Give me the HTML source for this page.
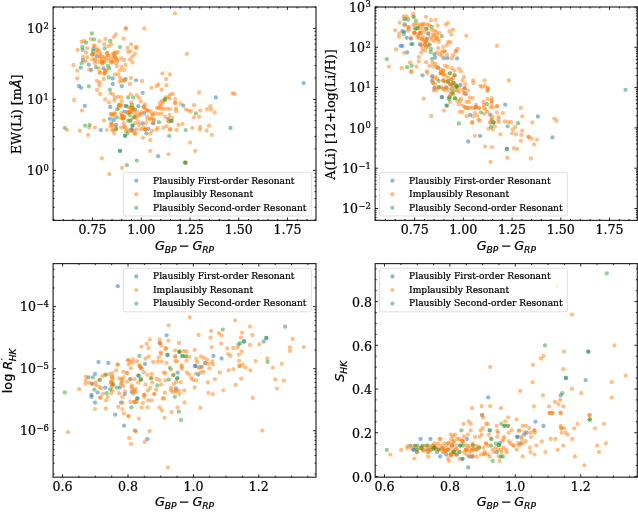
<!DOCTYPE html>
<html><head><meta charset="utf-8"><title>Lithium and activity vs colour</title>
<style>html,body{margin:0;padding:0;background:#fff}svg{display:block}text{fill:#000;stroke:#000;stroke-width:0.22px}</style></head>
<body><svg width="638" height="512" viewBox="0 0 638 512">
<rect width="638" height="512" fill="#fff"/>
<defs><clipPath id="c1"><rect x="53.1" y="7.0" width="262.9" height="213.4"/></clipPath><clipPath id="c2"><rect x="375.1" y="7.0" width="262.19999999999993" height="213.4"/></clipPath><clipPath id="c3"><rect x="53.1" y="263.6" width="262.9" height="213.59999999999997"/></clipPath><clipPath id="c4"><rect x="375.2" y="263.6" width="262.09999999999997" height="213.59999999999997"/></clipPath></defs>
<g clip-path="url(#c1)">
<circle cx="82.6" cy="49.8" r="2.15" fill="#1f77b4" fill-opacity="0.5"/>
<circle cx="83.0" cy="60.0" r="2.15" fill="#1f77b4" fill-opacity="0.5"/>
<circle cx="88.8" cy="64.7" r="2.15" fill="#1f77b4" fill-opacity="0.5"/>
<circle cx="80.7" cy="67.6" r="2.15" fill="#1f77b4" fill-opacity="0.5"/>
<circle cx="96.8" cy="56.3" r="2.15" fill="#1f77b4" fill-opacity="0.5"/>
<circle cx="103.4" cy="68.4" r="2.15" fill="#1f77b4" fill-opacity="0.5"/>
<circle cx="91.1" cy="70.1" r="2.15" fill="#1f77b4" fill-opacity="0.5"/>
<circle cx="93.6" cy="48.8" r="2.15" fill="#1f77b4" fill-opacity="0.5"/>
<circle cx="112.7" cy="78.3" r="2.15" fill="#1f77b4" fill-opacity="0.5"/>
<circle cx="125.6" cy="79.0" r="2.15" fill="#1f77b4" fill-opacity="0.5"/>
<circle cx="112.7" cy="84.0" r="2.15" fill="#1f77b4" fill-opacity="0.5"/>
<circle cx="121.8" cy="86.2" r="2.15" fill="#1f77b4" fill-opacity="0.5"/>
<circle cx="79.0" cy="85.9" r="2.15" fill="#1f77b4" fill-opacity="0.5"/>
<circle cx="81.1" cy="87.8" r="2.15" fill="#1f77b4" fill-opacity="0.5"/>
<circle cx="84.8" cy="105.9" r="2.15" fill="#1f77b4" fill-opacity="0.5"/>
<circle cx="110.2" cy="106.9" r="2.15" fill="#1f77b4" fill-opacity="0.5"/>
<circle cx="124.3" cy="111.6" r="2.15" fill="#1f77b4" fill-opacity="0.5"/>
<circle cx="109.9" cy="118.8" r="2.15" fill="#1f77b4" fill-opacity="0.5"/>
<circle cx="113.7" cy="120.0" r="2.15" fill="#1f77b4" fill-opacity="0.5"/>
<circle cx="115.9" cy="125.0" r="2.15" fill="#1f77b4" fill-opacity="0.5"/>
<circle cx="100.8" cy="130.1" r="2.15" fill="#1f77b4" fill-opacity="0.5"/>
<circle cx="131.2" cy="129.4" r="2.15" fill="#1f77b4" fill-opacity="0.5"/>
<circle cx="125.0" cy="135.8" r="2.15" fill="#1f77b4" fill-opacity="0.5"/>
<circle cx="120.0" cy="150.9" r="2.15" fill="#1f77b4" fill-opacity="0.5"/>
<circle cx="136.0" cy="80.3" r="2.15" fill="#1f77b4" fill-opacity="0.5"/>
<circle cx="142.7" cy="92.8" r="2.15" fill="#1f77b4" fill-opacity="0.5"/>
<circle cx="138.3" cy="106.2" r="2.15" fill="#1f77b4" fill-opacity="0.5"/>
<circle cx="144.2" cy="113.1" r="2.15" fill="#1f77b4" fill-opacity="0.5"/>
<circle cx="183.2" cy="105.6" r="2.15" fill="#1f77b4" fill-opacity="0.5"/>
<circle cx="142.4" cy="123.5" r="2.15" fill="#1f77b4" fill-opacity="0.5"/>
<circle cx="148.3" cy="128.8" r="2.15" fill="#1f77b4" fill-opacity="0.5"/>
<circle cx="168.4" cy="118.8" r="2.15" fill="#1f77b4" fill-opacity="0.5"/>
<circle cx="153.3" cy="123.2" r="2.15" fill="#1f77b4" fill-opacity="0.5"/>
<circle cx="146.4" cy="133.3" r="2.15" fill="#1f77b4" fill-opacity="0.5"/>
<circle cx="158.1" cy="156.2" r="2.15" fill="#1f77b4" fill-opacity="0.5"/>
<circle cx="303.7" cy="83.1" r="2.15" fill="#1f77b4" fill-opacity="0.5"/>
<circle cx="215.9" cy="97.5" r="2.15" fill="#1f77b4" fill-opacity="0.5"/>
<circle cx="230.5" cy="127.9" r="2.15" fill="#1f77b4" fill-opacity="0.5"/>
<circle cx="125.9" cy="106.1" r="2.15" fill="#1f77b4" fill-opacity="0.5"/>
<circle cx="132.5" cy="125.7" r="2.15" fill="#1f77b4" fill-opacity="0.5"/>
<circle cx="131.9" cy="130.1" r="2.15" fill="#1f77b4" fill-opacity="0.5"/>
<circle cx="125.8" cy="28.4" r="2.15" fill="#ff7f0e" fill-opacity="0.5"/>
<circle cx="125.8" cy="28.4" r="2.15" fill="#ff7f0e" fill-opacity="0.5"/>
<circle cx="115.9" cy="34.3" r="2.15" fill="#ff7f0e" fill-opacity="0.5"/>
<circle cx="113.9" cy="37.1" r="2.15" fill="#ff7f0e" fill-opacity="0.5"/>
<circle cx="123.7" cy="38.7" r="2.15" fill="#ff7f0e" fill-opacity="0.5"/>
<circle cx="105.5" cy="39.0" r="2.15" fill="#ff7f0e" fill-opacity="0.5"/>
<circle cx="99.5" cy="41.2" r="2.15" fill="#ff7f0e" fill-opacity="0.5"/>
<circle cx="90.9" cy="39.1" r="2.15" fill="#ff7f0e" fill-opacity="0.5"/>
<circle cx="81.7" cy="41.6" r="2.15" fill="#ff7f0e" fill-opacity="0.5"/>
<circle cx="84.2" cy="40.9" r="2.15" fill="#ff7f0e" fill-opacity="0.5"/>
<circle cx="93.6" cy="45.6" r="2.15" fill="#ff7f0e" fill-opacity="0.5"/>
<circle cx="104.3" cy="44.4" r="2.15" fill="#ff7f0e" fill-opacity="0.5"/>
<circle cx="111.2" cy="44.4" r="2.15" fill="#ff7f0e" fill-opacity="0.5"/>
<circle cx="108.7" cy="46.2" r="2.15" fill="#ff7f0e" fill-opacity="0.5"/>
<circle cx="77.6" cy="49.8" r="2.15" fill="#ff7f0e" fill-opacity="0.5"/>
<circle cx="87.3" cy="48.1" r="2.15" fill="#ff7f0e" fill-opacity="0.5"/>
<circle cx="97.4" cy="49.4" r="2.15" fill="#ff7f0e" fill-opacity="0.5"/>
<circle cx="99.3" cy="51.3" r="2.15" fill="#ff7f0e" fill-opacity="0.5"/>
<circle cx="86.1" cy="52.5" r="2.15" fill="#ff7f0e" fill-opacity="0.5"/>
<circle cx="92.4" cy="54.4" r="2.15" fill="#ff7f0e" fill-opacity="0.5"/>
<circle cx="92.4" cy="54.4" r="2.15" fill="#ff7f0e" fill-opacity="0.5"/>
<circle cx="96.1" cy="53.1" r="2.15" fill="#ff7f0e" fill-opacity="0.5"/>
<circle cx="100.5" cy="53.8" r="2.15" fill="#ff7f0e" fill-opacity="0.5"/>
<circle cx="106.8" cy="53.1" r="2.15" fill="#ff7f0e" fill-opacity="0.5"/>
<circle cx="108.0" cy="55.6" r="2.15" fill="#ff7f0e" fill-opacity="0.5"/>
<circle cx="101.8" cy="56.9" r="2.15" fill="#ff7f0e" fill-opacity="0.5"/>
<circle cx="83.0" cy="56.9" r="2.15" fill="#ff7f0e" fill-opacity="0.5"/>
<circle cx="87.3" cy="57.5" r="2.15" fill="#ff7f0e" fill-opacity="0.5"/>
<circle cx="92.4" cy="59.4" r="2.15" fill="#ff7f0e" fill-opacity="0.5"/>
<circle cx="96.1" cy="60.7" r="2.15" fill="#ff7f0e" fill-opacity="0.5"/>
<circle cx="99.9" cy="61.9" r="2.15" fill="#ff7f0e" fill-opacity="0.5"/>
<circle cx="102.4" cy="63.2" r="2.15" fill="#ff7f0e" fill-opacity="0.5"/>
<circle cx="102.4" cy="63.2" r="2.15" fill="#ff7f0e" fill-opacity="0.5"/>
<circle cx="104.3" cy="60.7" r="2.15" fill="#ff7f0e" fill-opacity="0.5"/>
<circle cx="111.2" cy="58.2" r="2.15" fill="#ff7f0e" fill-opacity="0.5"/>
<circle cx="114.3" cy="56.3" r="2.15" fill="#ff7f0e" fill-opacity="0.5"/>
<circle cx="116.2" cy="53.1" r="2.15" fill="#ff7f0e" fill-opacity="0.5"/>
<circle cx="118.1" cy="51.9" r="2.15" fill="#ff7f0e" fill-opacity="0.5"/>
<circle cx="114.3" cy="52.5" r="2.15" fill="#ff7f0e" fill-opacity="0.5"/>
<circle cx="112.4" cy="54.4" r="2.15" fill="#ff7f0e" fill-opacity="0.5"/>
<circle cx="115.6" cy="58.2" r="2.15" fill="#ff7f0e" fill-opacity="0.5"/>
<circle cx="117.4" cy="60.7" r="2.15" fill="#ff7f0e" fill-opacity="0.5"/>
<circle cx="113.0" cy="61.3" r="2.15" fill="#ff7f0e" fill-opacity="0.5"/>
<circle cx="111.2" cy="62.5" r="2.15" fill="#ff7f0e" fill-opacity="0.5"/>
<circle cx="116.2" cy="63.2" r="2.15" fill="#ff7f0e" fill-opacity="0.5"/>
<circle cx="116.8" cy="66.3" r="2.15" fill="#ff7f0e" fill-opacity="0.5"/>
<circle cx="121.2" cy="58.4" r="2.15" fill="#ff7f0e" fill-opacity="0.5"/>
<circle cx="124.3" cy="60.0" r="2.15" fill="#ff7f0e" fill-opacity="0.5"/>
<circle cx="132.5" cy="56.3" r="2.15" fill="#ff7f0e" fill-opacity="0.5"/>
<circle cx="130.6" cy="51.3" r="2.15" fill="#ff7f0e" fill-opacity="0.5"/>
<circle cx="128.1" cy="51.9" r="2.15" fill="#ff7f0e" fill-opacity="0.5"/>
<circle cx="127.7" cy="47.9" r="2.15" fill="#ff7f0e" fill-opacity="0.5"/>
<circle cx="131.2" cy="44.4" r="2.15" fill="#ff7f0e" fill-opacity="0.5"/>
<circle cx="135.6" cy="47.5" r="2.15" fill="#ff7f0e" fill-opacity="0.5"/>
<circle cx="135.0" cy="53.8" r="2.15" fill="#ff7f0e" fill-opacity="0.5"/>
<circle cx="130.0" cy="59.4" r="2.15" fill="#ff7f0e" fill-opacity="0.5"/>
<circle cx="132.5" cy="62.5" r="2.15" fill="#ff7f0e" fill-opacity="0.5"/>
<circle cx="125.6" cy="65.0" r="2.15" fill="#ff7f0e" fill-opacity="0.5"/>
<circle cx="121.8" cy="66.9" r="2.15" fill="#ff7f0e" fill-opacity="0.5"/>
<circle cx="124.3" cy="70.1" r="2.15" fill="#ff7f0e" fill-opacity="0.5"/>
<circle cx="120.0" cy="70.3" r="2.15" fill="#ff7f0e" fill-opacity="0.5"/>
<circle cx="73.5" cy="65.0" r="2.15" fill="#ff7f0e" fill-opacity="0.5"/>
<circle cx="77.3" cy="70.7" r="2.15" fill="#ff7f0e" fill-opacity="0.5"/>
<circle cx="89.2" cy="69.4" r="2.15" fill="#ff7f0e" fill-opacity="0.5"/>
<circle cx="98.6" cy="68.2" r="2.15" fill="#ff7f0e" fill-opacity="0.5"/>
<circle cx="106.2" cy="70.1" r="2.15" fill="#ff7f0e" fill-opacity="0.5"/>
<circle cx="99.9" cy="58.2" r="2.15" fill="#ff7f0e" fill-opacity="0.5"/>
<circle cx="94.9" cy="63.2" r="2.15" fill="#ff7f0e" fill-opacity="0.5"/>
<circle cx="85.5" cy="61.3" r="2.15" fill="#ff7f0e" fill-opacity="0.5"/>
<circle cx="106.2" cy="58.2" r="2.15" fill="#ff7f0e" fill-opacity="0.5"/>
<circle cx="108.7" cy="60.7" r="2.15" fill="#ff7f0e" fill-opacity="0.5"/>
<circle cx="77.3" cy="78.4" r="2.15" fill="#ff7f0e" fill-opacity="0.5"/>
<circle cx="103.7" cy="79.0" r="2.15" fill="#ff7f0e" fill-opacity="0.5"/>
<circle cx="96.8" cy="80.9" r="2.15" fill="#ff7f0e" fill-opacity="0.5"/>
<circle cx="99.6" cy="82.4" r="2.15" fill="#ff7f0e" fill-opacity="0.5"/>
<circle cx="99.3" cy="85.5" r="2.15" fill="#ff7f0e" fill-opacity="0.5"/>
<circle cx="97.0" cy="89.9" r="2.15" fill="#ff7f0e" fill-opacity="0.5"/>
<circle cx="100.1" cy="94.0" r="2.15" fill="#ff7f0e" fill-opacity="0.5"/>
<circle cx="74.2" cy="100.0" r="2.15" fill="#ff7f0e" fill-opacity="0.5"/>
<circle cx="82.0" cy="110.6" r="2.15" fill="#ff7f0e" fill-opacity="0.5"/>
<circle cx="105.2" cy="99.3" r="2.15" fill="#ff7f0e" fill-opacity="0.5"/>
<circle cx="109.0" cy="102.5" r="2.15" fill="#ff7f0e" fill-opacity="0.5"/>
<circle cx="110.5" cy="93.1" r="2.15" fill="#ff7f0e" fill-opacity="0.5"/>
<circle cx="113.0" cy="94.3" r="2.15" fill="#ff7f0e" fill-opacity="0.5"/>
<circle cx="114.9" cy="97.5" r="2.15" fill="#ff7f0e" fill-opacity="0.5"/>
<circle cx="114.3" cy="100.3" r="2.15" fill="#ff7f0e" fill-opacity="0.5"/>
<circle cx="118.1" cy="96.8" r="2.15" fill="#ff7f0e" fill-opacity="0.5"/>
<circle cx="121.2" cy="97.1" r="2.15" fill="#ff7f0e" fill-opacity="0.5"/>
<circle cx="121.8" cy="101.2" r="2.15" fill="#ff7f0e" fill-opacity="0.5"/>
<circle cx="130.6" cy="94.3" r="2.15" fill="#ff7f0e" fill-opacity="0.5"/>
<circle cx="120.0" cy="78.0" r="2.15" fill="#ff7f0e" fill-opacity="0.5"/>
<circle cx="121.8" cy="80.5" r="2.15" fill="#ff7f0e" fill-opacity="0.5"/>
<circle cx="124.3" cy="80.5" r="2.15" fill="#ff7f0e" fill-opacity="0.5"/>
<circle cx="124.3" cy="80.5" r="2.15" fill="#ff7f0e" fill-opacity="0.5"/>
<circle cx="119.7" cy="81.8" r="2.15" fill="#ff7f0e" fill-opacity="0.5"/>
<circle cx="131.0" cy="78.0" r="2.15" fill="#ff7f0e" fill-opacity="0.5"/>
<circle cx="130.0" cy="84.0" r="2.15" fill="#ff7f0e" fill-opacity="0.5"/>
<circle cx="114.9" cy="74.3" r="2.15" fill="#ff7f0e" fill-opacity="0.5"/>
<circle cx="118.1" cy="74.3" r="2.15" fill="#ff7f0e" fill-opacity="0.5"/>
<circle cx="104.3" cy="73.6" r="2.15" fill="#ff7f0e" fill-opacity="0.5"/>
<circle cx="104.3" cy="73.6" r="2.15" fill="#ff7f0e" fill-opacity="0.5"/>
<circle cx="99.9" cy="73.0" r="2.15" fill="#ff7f0e" fill-opacity="0.5"/>
<circle cx="131.2" cy="102.5" r="2.15" fill="#ff7f0e" fill-opacity="0.5"/>
<circle cx="119.3" cy="105.0" r="2.15" fill="#ff7f0e" fill-opacity="0.5"/>
<circle cx="119.3" cy="105.0" r="2.15" fill="#ff7f0e" fill-opacity="0.5"/>
<circle cx="121.2" cy="105.6" r="2.15" fill="#ff7f0e" fill-opacity="0.5"/>
<circle cx="128.7" cy="106.9" r="2.15" fill="#ff7f0e" fill-opacity="0.5"/>
<circle cx="132.5" cy="108.1" r="2.15" fill="#ff7f0e" fill-opacity="0.5"/>
<circle cx="132.5" cy="108.1" r="2.15" fill="#ff7f0e" fill-opacity="0.5"/>
<circle cx="132.5" cy="108.1" r="2.15" fill="#ff7f0e" fill-opacity="0.5"/>
<circle cx="130.0" cy="111.9" r="2.15" fill="#ff7f0e" fill-opacity="0.5"/>
<circle cx="130.0" cy="111.9" r="2.15" fill="#ff7f0e" fill-opacity="0.5"/>
<circle cx="127.5" cy="112.5" r="2.15" fill="#ff7f0e" fill-opacity="0.5"/>
<circle cx="133.7" cy="113.1" r="2.15" fill="#ff7f0e" fill-opacity="0.5"/>
<circle cx="121.8" cy="115.7" r="2.15" fill="#ff7f0e" fill-opacity="0.5"/>
<circle cx="121.8" cy="115.7" r="2.15" fill="#ff7f0e" fill-opacity="0.5"/>
<circle cx="123.1" cy="118.2" r="2.15" fill="#ff7f0e" fill-opacity="0.5"/>
<circle cx="123.1" cy="118.2" r="2.15" fill="#ff7f0e" fill-opacity="0.5"/>
<circle cx="121.2" cy="113.1" r="2.15" fill="#ff7f0e" fill-opacity="0.5"/>
<circle cx="118.7" cy="108.1" r="2.15" fill="#ff7f0e" fill-opacity="0.5"/>
<circle cx="114.3" cy="113.8" r="2.15" fill="#ff7f0e" fill-opacity="0.5"/>
<circle cx="111.2" cy="114.4" r="2.15" fill="#ff7f0e" fill-opacity="0.5"/>
<circle cx="113.0" cy="115.7" r="2.15" fill="#ff7f0e" fill-opacity="0.5"/>
<circle cx="135.0" cy="116.9" r="2.15" fill="#ff7f0e" fill-opacity="0.5"/>
<circle cx="104.0" cy="120.4" r="2.15" fill="#ff7f0e" fill-opacity="0.5"/>
<circle cx="111.2" cy="123.2" r="2.15" fill="#ff7f0e" fill-opacity="0.5"/>
<circle cx="112.4" cy="125.7" r="2.15" fill="#ff7f0e" fill-opacity="0.5"/>
<circle cx="110.5" cy="126.3" r="2.15" fill="#ff7f0e" fill-opacity="0.5"/>
<circle cx="116.2" cy="126.9" r="2.15" fill="#ff7f0e" fill-opacity="0.5"/>
<circle cx="121.2" cy="127.6" r="2.15" fill="#ff7f0e" fill-opacity="0.5"/>
<circle cx="124.7" cy="126.9" r="2.15" fill="#ff7f0e" fill-opacity="0.5"/>
<circle cx="126.8" cy="129.4" r="2.15" fill="#ff7f0e" fill-opacity="0.5"/>
<circle cx="130.0" cy="130.7" r="2.15" fill="#ff7f0e" fill-opacity="0.5"/>
<circle cx="133.7" cy="130.7" r="2.15" fill="#ff7f0e" fill-opacity="0.5"/>
<circle cx="89.2" cy="127.6" r="2.15" fill="#ff7f0e" fill-opacity="0.5"/>
<circle cx="94.9" cy="127.6" r="2.15" fill="#ff7f0e" fill-opacity="0.5"/>
<circle cx="66.9" cy="130.1" r="2.15" fill="#ff7f0e" fill-opacity="0.5"/>
<circle cx="79.8" cy="130.7" r="2.15" fill="#ff7f0e" fill-opacity="0.5"/>
<circle cx="106.8" cy="130.1" r="2.15" fill="#ff7f0e" fill-opacity="0.5"/>
<circle cx="112.4" cy="130.1" r="2.15" fill="#ff7f0e" fill-opacity="0.5"/>
<circle cx="123.7" cy="123.2" r="2.15" fill="#ff7f0e" fill-opacity="0.5"/>
<circle cx="135.0" cy="123.2" r="2.15" fill="#ff7f0e" fill-opacity="0.5"/>
<circle cx="132.5" cy="118.2" r="2.15" fill="#ff7f0e" fill-opacity="0.5"/>
<circle cx="88.0" cy="134.9" r="2.15" fill="#ff7f0e" fill-opacity="0.5"/>
<circle cx="114.3" cy="133.6" r="2.15" fill="#ff7f0e" fill-opacity="0.5"/>
<circle cx="134.4" cy="133.6" r="2.15" fill="#ff7f0e" fill-opacity="0.5"/>
<circle cx="101.8" cy="158.3" r="2.15" fill="#ff7f0e" fill-opacity="0.5"/>
<circle cx="122.1" cy="167.9" r="2.15" fill="#ff7f0e" fill-opacity="0.5"/>
<circle cx="109.3" cy="174.1" r="2.15" fill="#ff7f0e" fill-opacity="0.5"/>
<circle cx="175.0" cy="13.4" r="2.15" fill="#ff7f0e" fill-opacity="0.5"/>
<circle cx="144.3" cy="28.4" r="2.15" fill="#ff7f0e" fill-opacity="0.5"/>
<circle cx="136.8" cy="47.5" r="2.15" fill="#ff7f0e" fill-opacity="0.5"/>
<circle cx="186.8" cy="53.9" r="2.15" fill="#ff7f0e" fill-opacity="0.5"/>
<circle cx="162.5" cy="73.4" r="2.15" fill="#ff7f0e" fill-opacity="0.5"/>
<circle cx="169.9" cy="74.5" r="2.15" fill="#ff7f0e" fill-opacity="0.5"/>
<circle cx="166.1" cy="79.0" r="2.15" fill="#ff7f0e" fill-opacity="0.5"/>
<circle cx="142.0" cy="80.9" r="2.15" fill="#ff7f0e" fill-opacity="0.5"/>
<circle cx="166.5" cy="85.3" r="2.15" fill="#ff7f0e" fill-opacity="0.5"/>
<circle cx="158.3" cy="84.5" r="2.15" fill="#ff7f0e" fill-opacity="0.5"/>
<circle cx="156.7" cy="86.2" r="2.15" fill="#ff7f0e" fill-opacity="0.5"/>
<circle cx="151.4" cy="87.8" r="2.15" fill="#ff7f0e" fill-opacity="0.5"/>
<circle cx="161.7" cy="89.6" r="2.15" fill="#ff7f0e" fill-opacity="0.5"/>
<circle cx="199.1" cy="92.5" r="2.15" fill="#ff7f0e" fill-opacity="0.5"/>
<circle cx="137.0" cy="95.3" r="2.15" fill="#ff7f0e" fill-opacity="0.5"/>
<circle cx="138.9" cy="98.1" r="2.15" fill="#ff7f0e" fill-opacity="0.5"/>
<circle cx="140.8" cy="101.6" r="2.15" fill="#ff7f0e" fill-opacity="0.5"/>
<circle cx="172.8" cy="94.0" r="2.15" fill="#ff7f0e" fill-opacity="0.5"/>
<circle cx="170.2" cy="94.3" r="2.15" fill="#ff7f0e" fill-opacity="0.5"/>
<circle cx="168.4" cy="97.1" r="2.15" fill="#ff7f0e" fill-opacity="0.5"/>
<circle cx="169.6" cy="98.7" r="2.15" fill="#ff7f0e" fill-opacity="0.5"/>
<circle cx="165.6" cy="97.5" r="2.15" fill="#ff7f0e" fill-opacity="0.5"/>
<circle cx="175.3" cy="99.1" r="2.15" fill="#ff7f0e" fill-opacity="0.5"/>
<circle cx="175.0" cy="102.9" r="2.15" fill="#ff7f0e" fill-opacity="0.5"/>
<circle cx="162.1" cy="100.8" r="2.15" fill="#ff7f0e" fill-opacity="0.5"/>
<circle cx="159.8" cy="102.9" r="2.15" fill="#ff7f0e" fill-opacity="0.5"/>
<circle cx="163.3" cy="101.9" r="2.15" fill="#ff7f0e" fill-opacity="0.5"/>
<circle cx="145.2" cy="104.4" r="2.15" fill="#ff7f0e" fill-opacity="0.5"/>
<circle cx="143.3" cy="106.9" r="2.15" fill="#ff7f0e" fill-opacity="0.5"/>
<circle cx="144.5" cy="108.1" r="2.15" fill="#ff7f0e" fill-opacity="0.5"/>
<circle cx="157.1" cy="107.9" r="2.15" fill="#ff7f0e" fill-opacity="0.5"/>
<circle cx="161.5" cy="105.6" r="2.15" fill="#ff7f0e" fill-opacity="0.5"/>
<circle cx="164.0" cy="108.8" r="2.15" fill="#ff7f0e" fill-opacity="0.5"/>
<circle cx="167.1" cy="108.8" r="2.15" fill="#ff7f0e" fill-opacity="0.5"/>
<circle cx="170.2" cy="109.1" r="2.15" fill="#ff7f0e" fill-opacity="0.5"/>
<circle cx="176.1" cy="108.4" r="2.15" fill="#ff7f0e" fill-opacity="0.5"/>
<circle cx="176.1" cy="110.9" r="2.15" fill="#ff7f0e" fill-opacity="0.5"/>
<circle cx="180.7" cy="103.7" r="2.15" fill="#ff7f0e" fill-opacity="0.5"/>
<circle cx="194.1" cy="105.2" r="2.15" fill="#ff7f0e" fill-opacity="0.5"/>
<circle cx="185.9" cy="109.4" r="2.15" fill="#ff7f0e" fill-opacity="0.5"/>
<circle cx="188.7" cy="110.6" r="2.15" fill="#ff7f0e" fill-opacity="0.5"/>
<circle cx="190.9" cy="111.3" r="2.15" fill="#ff7f0e" fill-opacity="0.5"/>
<circle cx="200.3" cy="110.6" r="2.15" fill="#ff7f0e" fill-opacity="0.5"/>
<circle cx="206.9" cy="109.1" r="2.15" fill="#ff7f0e" fill-opacity="0.5"/>
<circle cx="210.4" cy="106.2" r="2.15" fill="#ff7f0e" fill-opacity="0.5"/>
<circle cx="211.0" cy="109.4" r="2.15" fill="#ff7f0e" fill-opacity="0.5"/>
<circle cx="194.1" cy="117.5" r="2.15" fill="#ff7f0e" fill-opacity="0.5"/>
<circle cx="199.1" cy="116.9" r="2.15" fill="#ff7f0e" fill-opacity="0.5"/>
<circle cx="147.7" cy="110.6" r="2.15" fill="#ff7f0e" fill-opacity="0.5"/>
<circle cx="150.8" cy="111.3" r="2.15" fill="#ff7f0e" fill-opacity="0.5"/>
<circle cx="141.4" cy="112.5" r="2.15" fill="#ff7f0e" fill-opacity="0.5"/>
<circle cx="139.5" cy="115.0" r="2.15" fill="#ff7f0e" fill-opacity="0.5"/>
<circle cx="152.7" cy="114.4" r="2.15" fill="#ff7f0e" fill-opacity="0.5"/>
<circle cx="155.2" cy="113.1" r="2.15" fill="#ff7f0e" fill-opacity="0.5"/>
<circle cx="158.3" cy="113.8" r="2.15" fill="#ff7f0e" fill-opacity="0.5"/>
<circle cx="161.5" cy="113.8" r="2.15" fill="#ff7f0e" fill-opacity="0.5"/>
<circle cx="147.1" cy="116.3" r="2.15" fill="#ff7f0e" fill-opacity="0.5"/>
<circle cx="151.4" cy="118.2" r="2.15" fill="#ff7f0e" fill-opacity="0.5"/>
<circle cx="153.9" cy="120.0" r="2.15" fill="#ff7f0e" fill-opacity="0.5"/>
<circle cx="147.7" cy="119.4" r="2.15" fill="#ff7f0e" fill-opacity="0.5"/>
<circle cx="165.2" cy="116.9" r="2.15" fill="#ff7f0e" fill-opacity="0.5"/>
<circle cx="169.6" cy="115.0" r="2.15" fill="#ff7f0e" fill-opacity="0.5"/>
<circle cx="172.4" cy="117.9" r="2.15" fill="#ff7f0e" fill-opacity="0.5"/>
<circle cx="168.6" cy="121.3" r="2.15" fill="#ff7f0e" fill-opacity="0.5"/>
<circle cx="168.6" cy="121.3" r="2.15" fill="#ff7f0e" fill-opacity="0.5"/>
<circle cx="138.3" cy="121.9" r="2.15" fill="#ff7f0e" fill-opacity="0.5"/>
<circle cx="145.8" cy="123.2" r="2.15" fill="#ff7f0e" fill-opacity="0.5"/>
<circle cx="138.9" cy="125.0" r="2.15" fill="#ff7f0e" fill-opacity="0.5"/>
<circle cx="178.4" cy="125.0" r="2.15" fill="#ff7f0e" fill-opacity="0.5"/>
<circle cx="182.4" cy="124.0" r="2.15" fill="#ff7f0e" fill-opacity="0.5"/>
<circle cx="192.2" cy="127.9" r="2.15" fill="#ff7f0e" fill-opacity="0.5"/>
<circle cx="200.3" cy="126.9" r="2.15" fill="#ff7f0e" fill-opacity="0.5"/>
<circle cx="199.7" cy="129.4" r="2.15" fill="#ff7f0e" fill-opacity="0.5"/>
<circle cx="209.1" cy="125.7" r="2.15" fill="#ff7f0e" fill-opacity="0.5"/>
<circle cx="206.6" cy="130.7" r="2.15" fill="#ff7f0e" fill-opacity="0.5"/>
<circle cx="176.5" cy="130.1" r="2.15" fill="#ff7f0e" fill-opacity="0.5"/>
<circle cx="170.2" cy="129.4" r="2.15" fill="#ff7f0e" fill-opacity="0.5"/>
<circle cx="170.2" cy="129.4" r="2.15" fill="#ff7f0e" fill-opacity="0.5"/>
<circle cx="166.5" cy="126.3" r="2.15" fill="#ff7f0e" fill-opacity="0.5"/>
<circle cx="163.3" cy="127.9" r="2.15" fill="#ff7f0e" fill-opacity="0.5"/>
<circle cx="157.7" cy="127.9" r="2.15" fill="#ff7f0e" fill-opacity="0.5"/>
<circle cx="156.4" cy="129.7" r="2.15" fill="#ff7f0e" fill-opacity="0.5"/>
<circle cx="152.1" cy="130.7" r="2.15" fill="#ff7f0e" fill-opacity="0.5"/>
<circle cx="145.2" cy="129.4" r="2.15" fill="#ff7f0e" fill-opacity="0.5"/>
<circle cx="145.2" cy="129.4" r="2.15" fill="#ff7f0e" fill-opacity="0.5"/>
<circle cx="143.3" cy="127.6" r="2.15" fill="#ff7f0e" fill-opacity="0.5"/>
<circle cx="140.8" cy="129.4" r="2.15" fill="#ff7f0e" fill-opacity="0.5"/>
<circle cx="136.4" cy="129.4" r="2.15" fill="#ff7f0e" fill-opacity="0.5"/>
<circle cx="137.0" cy="111.9" r="2.15" fill="#ff7f0e" fill-opacity="0.5"/>
<circle cx="136.4" cy="118.2" r="2.15" fill="#ff7f0e" fill-opacity="0.5"/>
<circle cx="135.5" cy="133.6" r="2.15" fill="#ff7f0e" fill-opacity="0.5"/>
<circle cx="143.0" cy="137.8" r="2.15" fill="#ff7f0e" fill-opacity="0.5"/>
<circle cx="150.2" cy="140.2" r="2.15" fill="#ff7f0e" fill-opacity="0.5"/>
<circle cx="150.2" cy="133.6" r="2.15" fill="#ff7f0e" fill-opacity="0.5"/>
<circle cx="150.2" cy="150.9" r="2.15" fill="#ff7f0e" fill-opacity="0.5"/>
<circle cx="168.6" cy="154.3" r="2.15" fill="#ff7f0e" fill-opacity="0.5"/>
<circle cx="190.1" cy="142.7" r="2.15" fill="#ff7f0e" fill-opacity="0.5"/>
<circle cx="195.3" cy="150.9" r="2.15" fill="#ff7f0e" fill-opacity="0.5"/>
<circle cx="212.0" cy="134.9" r="2.15" fill="#ff7f0e" fill-opacity="0.5"/>
<circle cx="185.9" cy="162.7" r="2.15" fill="#ff7f0e" fill-opacity="0.5"/>
<circle cx="232.6" cy="93.3" r="2.15" fill="#ff7f0e" fill-opacity="0.5"/>
<circle cx="234.7" cy="94.0" r="2.15" fill="#ff7f0e" fill-opacity="0.5"/>
<circle cx="214.7" cy="112.4" r="2.15" fill="#ff7f0e" fill-opacity="0.5"/>
<circle cx="94.8" cy="46.2" r="2.15" fill="#ff7f0e" fill-opacity="0.5"/>
<circle cx="92.8" cy="54.0" r="2.15" fill="#ff7f0e" fill-opacity="0.5"/>
<circle cx="92.8" cy="54.4" r="2.15" fill="#ff7f0e" fill-opacity="0.5"/>
<circle cx="97.2" cy="50.1" r="2.15" fill="#ff7f0e" fill-opacity="0.5"/>
<circle cx="101.9" cy="61.1" r="2.15" fill="#ff7f0e" fill-opacity="0.5"/>
<circle cx="102.2" cy="61.5" r="2.15" fill="#ff7f0e" fill-opacity="0.5"/>
<circle cx="104.2" cy="61.9" r="2.15" fill="#ff7f0e" fill-opacity="0.5"/>
<circle cx="107.0" cy="53.2" r="2.15" fill="#ff7f0e" fill-opacity="0.5"/>
<circle cx="108.1" cy="55.6" r="2.15" fill="#ff7f0e" fill-opacity="0.5"/>
<circle cx="103.8" cy="57.2" r="2.15" fill="#ff7f0e" fill-opacity="0.5"/>
<circle cx="99.5" cy="55.6" r="2.15" fill="#ff7f0e" fill-opacity="0.5"/>
<circle cx="94.8" cy="59.5" r="2.15" fill="#ff7f0e" fill-opacity="0.5"/>
<circle cx="105.0" cy="71.3" r="2.15" fill="#ff7f0e" fill-opacity="0.5"/>
<circle cx="105.4" cy="71.7" r="2.15" fill="#ff7f0e" fill-opacity="0.5"/>
<circle cx="99.5" cy="72.0" r="2.15" fill="#ff7f0e" fill-opacity="0.5"/>
<circle cx="114.4" cy="54.0" r="2.15" fill="#ff7f0e" fill-opacity="0.5"/>
<circle cx="115.2" cy="57.2" r="2.15" fill="#ff7f0e" fill-opacity="0.5"/>
<circle cx="116.8" cy="59.5" r="2.15" fill="#ff7f0e" fill-opacity="0.5"/>
<circle cx="112.0" cy="61.9" r="2.15" fill="#ff7f0e" fill-opacity="0.5"/>
<circle cx="131.3" cy="108.1" r="2.15" fill="#ff7f0e" fill-opacity="0.5"/>
<circle cx="133.3" cy="109.6" r="2.15" fill="#ff7f0e" fill-opacity="0.5"/>
<circle cx="128.6" cy="112.0" r="2.15" fill="#ff7f0e" fill-opacity="0.5"/>
<circle cx="127.4" cy="112.8" r="2.15" fill="#ff7f0e" fill-opacity="0.5"/>
<circle cx="122.7" cy="116.7" r="2.15" fill="#ff7f0e" fill-opacity="0.5"/>
<circle cx="123.1" cy="118.7" r="2.15" fill="#ff7f0e" fill-opacity="0.5"/>
<circle cx="120.0" cy="104.9" r="2.15" fill="#ff7f0e" fill-opacity="0.5"/>
<circle cx="143.9" cy="106.5" r="2.15" fill="#ff7f0e" fill-opacity="0.5"/>
<circle cx="146.2" cy="110.0" r="2.15" fill="#ff7f0e" fill-opacity="0.5"/>
<circle cx="140.8" cy="113.9" r="2.15" fill="#ff7f0e" fill-opacity="0.5"/>
<circle cx="136.8" cy="115.5" r="2.15" fill="#ff7f0e" fill-opacity="0.5"/>
<circle cx="145.1" cy="129.6" r="2.15" fill="#ff7f0e" fill-opacity="0.5"/>
<circle cx="159.6" cy="106.5" r="2.15" fill="#ff7f0e" fill-opacity="0.5"/>
<circle cx="161.2" cy="108.8" r="2.15" fill="#ff7f0e" fill-opacity="0.5"/>
<circle cx="158.4" cy="108.1" r="2.15" fill="#ff7f0e" fill-opacity="0.5"/>
<circle cx="147.8" cy="110.8" r="2.15" fill="#ff7f0e" fill-opacity="0.5"/>
<circle cx="152.5" cy="114.3" r="2.15" fill="#ff7f0e" fill-opacity="0.5"/>
<circle cx="153.7" cy="119.8" r="2.15" fill="#ff7f0e" fill-opacity="0.5"/>
<circle cx="150.2" cy="119.0" r="2.15" fill="#ff7f0e" fill-opacity="0.5"/>
<circle cx="152.9" cy="123.3" r="2.15" fill="#ff7f0e" fill-opacity="0.5"/>
<circle cx="175.3" cy="103.0" r="2.15" fill="#ff7f0e" fill-opacity="0.5"/>
<circle cx="111.2" cy="113.8" r="2.15" fill="#ff7f0e" fill-opacity="0.5"/>
<circle cx="114.9" cy="113.2" r="2.15" fill="#ff7f0e" fill-opacity="0.5"/>
<circle cx="118.7" cy="105.6" r="2.15" fill="#ff7f0e" fill-opacity="0.5"/>
<circle cx="123.7" cy="116.3" r="2.15" fill="#ff7f0e" fill-opacity="0.5"/>
<circle cx="124.3" cy="116.9" r="2.15" fill="#ff7f0e" fill-opacity="0.5"/>
<circle cx="121.2" cy="118.2" r="2.15" fill="#ff7f0e" fill-opacity="0.5"/>
<circle cx="131.2" cy="111.3" r="2.15" fill="#ff7f0e" fill-opacity="0.5"/>
<circle cx="130.0" cy="107.5" r="2.15" fill="#ff7f0e" fill-opacity="0.5"/>
<circle cx="111.8" cy="123.8" r="2.15" fill="#ff7f0e" fill-opacity="0.5"/>
<circle cx="113.0" cy="130.1" r="2.15" fill="#ff7f0e" fill-opacity="0.5"/>
<circle cx="115.6" cy="129.5" r="2.15" fill="#ff7f0e" fill-opacity="0.5"/>
<circle cx="124.3" cy="127.0" r="2.15" fill="#ff7f0e" fill-opacity="0.5"/>
<circle cx="126.2" cy="131.3" r="2.15" fill="#ff7f0e" fill-opacity="0.5"/>
<circle cx="131.9" cy="130.7" r="2.15" fill="#ff7f0e" fill-opacity="0.5"/>
<circle cx="130.0" cy="120.7" r="2.15" fill="#ff7f0e" fill-opacity="0.5"/>
<circle cx="91.9" cy="33.5" r="2.15" fill="#2ca02c" fill-opacity="0.5"/>
<circle cx="94.0" cy="39.4" r="2.15" fill="#2ca02c" fill-opacity="0.5"/>
<circle cx="86.1" cy="42.7" r="2.15" fill="#2ca02c" fill-opacity="0.5"/>
<circle cx="110.2" cy="41.0" r="2.15" fill="#2ca02c" fill-opacity="0.5"/>
<circle cx="82.3" cy="46.9" r="2.15" fill="#2ca02c" fill-opacity="0.5"/>
<circle cx="120.0" cy="47.1" r="2.15" fill="#2ca02c" fill-opacity="0.5"/>
<circle cx="104.7" cy="48.4" r="2.15" fill="#2ca02c" fill-opacity="0.5"/>
<circle cx="93.0" cy="50.9" r="2.15" fill="#2ca02c" fill-opacity="0.5"/>
<circle cx="81.7" cy="63.2" r="2.15" fill="#2ca02c" fill-opacity="0.5"/>
<circle cx="95.9" cy="67.2" r="2.15" fill="#2ca02c" fill-opacity="0.5"/>
<circle cx="108.0" cy="65.9" r="2.15" fill="#2ca02c" fill-opacity="0.5"/>
<circle cx="109.3" cy="68.4" r="2.15" fill="#2ca02c" fill-opacity="0.5"/>
<circle cx="108.7" cy="77.4" r="2.15" fill="#2ca02c" fill-opacity="0.5"/>
<circle cx="88.8" cy="86.4" r="2.15" fill="#2ca02c" fill-opacity="0.5"/>
<circle cx="109.9" cy="89.6" r="2.15" fill="#2ca02c" fill-opacity="0.5"/>
<circle cx="128.1" cy="97.5" r="2.15" fill="#2ca02c" fill-opacity="0.5"/>
<circle cx="133.1" cy="97.5" r="2.15" fill="#2ca02c" fill-opacity="0.5"/>
<circle cx="131.9" cy="105.0" r="2.15" fill="#2ca02c" fill-opacity="0.5"/>
<circle cx="126.0" cy="106.0" r="2.15" fill="#2ca02c" fill-opacity="0.5"/>
<circle cx="117.2" cy="109.4" r="2.15" fill="#2ca02c" fill-opacity="0.5"/>
<circle cx="129.7" cy="115.0" r="2.15" fill="#2ca02c" fill-opacity="0.5"/>
<circle cx="116.8" cy="117.3" r="2.15" fill="#2ca02c" fill-opacity="0.5"/>
<circle cx="128.1" cy="120.7" r="2.15" fill="#2ca02c" fill-opacity="0.5"/>
<circle cx="130.6" cy="120.7" r="2.15" fill="#2ca02c" fill-opacity="0.5"/>
<circle cx="85.1" cy="125.7" r="2.15" fill="#2ca02c" fill-opacity="0.5"/>
<circle cx="89.6" cy="125.0" r="2.15" fill="#2ca02c" fill-opacity="0.5"/>
<circle cx="64.8" cy="127.9" r="2.15" fill="#2ca02c" fill-opacity="0.5"/>
<circle cx="116.2" cy="129.1" r="2.15" fill="#2ca02c" fill-opacity="0.5"/>
<circle cx="132.5" cy="125.7" r="2.15" fill="#2ca02c" fill-opacity="0.5"/>
<circle cx="125.0" cy="135.8" r="2.15" fill="#2ca02c" fill-opacity="0.5"/>
<circle cx="127.5" cy="133.3" r="2.15" fill="#2ca02c" fill-opacity="0.5"/>
<circle cx="120.0" cy="150.9" r="2.15" fill="#2ca02c" fill-opacity="0.5"/>
<circle cx="126.8" cy="165.2" r="2.15" fill="#2ca02c" fill-opacity="0.5"/>
<circle cx="165.0" cy="99.6" r="2.15" fill="#2ca02c" fill-opacity="0.5"/>
<circle cx="195.9" cy="113.4" r="2.15" fill="#2ca02c" fill-opacity="0.5"/>
<circle cx="159.0" cy="122.2" r="2.15" fill="#2ca02c" fill-opacity="0.5"/>
<circle cx="171.5" cy="120.9" r="2.15" fill="#2ca02c" fill-opacity="0.5"/>
<circle cx="185.7" cy="130.1" r="2.15" fill="#2ca02c" fill-opacity="0.5"/>
<circle cx="169.2" cy="135.9" r="2.15" fill="#2ca02c" fill-opacity="0.5"/>
<circle cx="136.8" cy="160.6" r="2.15" fill="#2ca02c" fill-opacity="0.5"/>
<circle cx="184.9" cy="162.7" r="2.15" fill="#2ca02c" fill-opacity="0.5"/>
<circle cx="185.4" cy="162.7" r="2.15" fill="#2ca02c" fill-opacity="0.5"/>
<circle cx="134.9" cy="109.6" r="2.15" fill="#2ca02c" fill-opacity="0.5"/>
<circle cx="134.1" cy="117.1" r="2.15" fill="#2ca02c" fill-opacity="0.5"/>
<circle cx="165.1" cy="99.5" r="2.15" fill="#2ca02c" fill-opacity="0.5"/>
<circle cx="171.3" cy="121.0" r="2.15" fill="#2ca02c" fill-opacity="0.5"/>
</g>
<rect x="53.10" y="7.00" width="262.90" height="213.40" fill="none" stroke="#2a2a2a" stroke-width="1.2"/>
<line x1="53.57" y1="220.40" x2="53.57" y2="218.90" stroke="#000" stroke-width="0.85"/>
<line x1="53.57" y1="7.00" x2="53.57" y2="8.50" stroke="#000" stroke-width="0.85"/>
<line x1="63.32" y1="220.40" x2="63.32" y2="218.90" stroke="#000" stroke-width="0.85"/>
<line x1="63.32" y1="7.00" x2="63.32" y2="8.50" stroke="#000" stroke-width="0.85"/>
<line x1="73.06" y1="220.40" x2="73.06" y2="218.90" stroke="#000" stroke-width="0.85"/>
<line x1="73.06" y1="7.00" x2="73.06" y2="8.50" stroke="#000" stroke-width="0.85"/>
<line x1="82.81" y1="220.40" x2="82.81" y2="218.90" stroke="#000" stroke-width="0.85"/>
<line x1="82.81" y1="7.00" x2="82.81" y2="8.50" stroke="#000" stroke-width="0.85"/>
<line x1="102.29" y1="220.40" x2="102.29" y2="218.90" stroke="#000" stroke-width="0.85"/>
<line x1="102.29" y1="7.00" x2="102.29" y2="8.50" stroke="#000" stroke-width="0.85"/>
<line x1="112.04" y1="220.40" x2="112.04" y2="218.90" stroke="#000" stroke-width="0.85"/>
<line x1="112.04" y1="7.00" x2="112.04" y2="8.50" stroke="#000" stroke-width="0.85"/>
<line x1="121.78" y1="220.40" x2="121.78" y2="218.90" stroke="#000" stroke-width="0.85"/>
<line x1="121.78" y1="7.00" x2="121.78" y2="8.50" stroke="#000" stroke-width="0.85"/>
<line x1="131.53" y1="220.40" x2="131.53" y2="218.90" stroke="#000" stroke-width="0.85"/>
<line x1="131.53" y1="7.00" x2="131.53" y2="8.50" stroke="#000" stroke-width="0.85"/>
<line x1="151.01" y1="220.40" x2="151.01" y2="218.90" stroke="#000" stroke-width="0.85"/>
<line x1="151.01" y1="7.00" x2="151.01" y2="8.50" stroke="#000" stroke-width="0.85"/>
<line x1="160.76" y1="220.40" x2="160.76" y2="218.90" stroke="#000" stroke-width="0.85"/>
<line x1="160.76" y1="7.00" x2="160.76" y2="8.50" stroke="#000" stroke-width="0.85"/>
<line x1="170.50" y1="220.40" x2="170.50" y2="218.90" stroke="#000" stroke-width="0.85"/>
<line x1="170.50" y1="7.00" x2="170.50" y2="8.50" stroke="#000" stroke-width="0.85"/>
<line x1="180.25" y1="220.40" x2="180.25" y2="218.90" stroke="#000" stroke-width="0.85"/>
<line x1="180.25" y1="7.00" x2="180.25" y2="8.50" stroke="#000" stroke-width="0.85"/>
<line x1="199.73" y1="220.40" x2="199.73" y2="218.90" stroke="#000" stroke-width="0.85"/>
<line x1="199.73" y1="7.00" x2="199.73" y2="8.50" stroke="#000" stroke-width="0.85"/>
<line x1="209.48" y1="220.40" x2="209.48" y2="218.90" stroke="#000" stroke-width="0.85"/>
<line x1="209.48" y1="7.00" x2="209.48" y2="8.50" stroke="#000" stroke-width="0.85"/>
<line x1="219.22" y1="220.40" x2="219.22" y2="218.90" stroke="#000" stroke-width="0.85"/>
<line x1="219.22" y1="7.00" x2="219.22" y2="8.50" stroke="#000" stroke-width="0.85"/>
<line x1="228.97" y1="220.40" x2="228.97" y2="218.90" stroke="#000" stroke-width="0.85"/>
<line x1="228.97" y1="7.00" x2="228.97" y2="8.50" stroke="#000" stroke-width="0.85"/>
<line x1="248.45" y1="220.40" x2="248.45" y2="218.90" stroke="#000" stroke-width="0.85"/>
<line x1="248.45" y1="7.00" x2="248.45" y2="8.50" stroke="#000" stroke-width="0.85"/>
<line x1="258.20" y1="220.40" x2="258.20" y2="218.90" stroke="#000" stroke-width="0.85"/>
<line x1="258.20" y1="7.00" x2="258.20" y2="8.50" stroke="#000" stroke-width="0.85"/>
<line x1="267.94" y1="220.40" x2="267.94" y2="218.90" stroke="#000" stroke-width="0.85"/>
<line x1="267.94" y1="7.00" x2="267.94" y2="8.50" stroke="#000" stroke-width="0.85"/>
<line x1="277.69" y1="220.40" x2="277.69" y2="218.90" stroke="#000" stroke-width="0.85"/>
<line x1="277.69" y1="7.00" x2="277.69" y2="8.50" stroke="#000" stroke-width="0.85"/>
<line x1="297.17" y1="220.40" x2="297.17" y2="218.90" stroke="#000" stroke-width="0.85"/>
<line x1="297.17" y1="7.00" x2="297.17" y2="8.50" stroke="#000" stroke-width="0.85"/>
<line x1="306.92" y1="220.40" x2="306.92" y2="218.90" stroke="#000" stroke-width="0.85"/>
<line x1="306.92" y1="7.00" x2="306.92" y2="8.50" stroke="#000" stroke-width="0.85"/>
<line x1="92.55" y1="220.40" x2="92.55" y2="217.50" stroke="#000" stroke-width="0.85"/>
<line x1="92.55" y1="7.00" x2="92.55" y2="9.90" stroke="#000" stroke-width="0.85"/>
<text x="92.55" y="234.20" font-size="12.6" font-family='"DejaVu Serif","Liberation Serif",serif' text-anchor="middle" >0.75</text>
<line x1="141.27" y1="220.40" x2="141.27" y2="217.50" stroke="#000" stroke-width="0.85"/>
<line x1="141.27" y1="7.00" x2="141.27" y2="9.90" stroke="#000" stroke-width="0.85"/>
<text x="141.27" y="234.20" font-size="12.6" font-family='"DejaVu Serif","Liberation Serif",serif' text-anchor="middle" >1.00</text>
<line x1="189.99" y1="220.40" x2="189.99" y2="217.50" stroke="#000" stroke-width="0.85"/>
<line x1="189.99" y1="7.00" x2="189.99" y2="9.90" stroke="#000" stroke-width="0.85"/>
<text x="189.99" y="234.20" font-size="12.6" font-family='"DejaVu Serif","Liberation Serif",serif' text-anchor="middle" >1.25</text>
<line x1="238.71" y1="220.40" x2="238.71" y2="217.50" stroke="#000" stroke-width="0.85"/>
<line x1="238.71" y1="7.00" x2="238.71" y2="9.90" stroke="#000" stroke-width="0.85"/>
<text x="238.71" y="234.20" font-size="12.6" font-family='"DejaVu Serif","Liberation Serif",serif' text-anchor="middle" >1.50</text>
<line x1="287.43" y1="220.40" x2="287.43" y2="217.50" stroke="#000" stroke-width="0.85"/>
<line x1="287.43" y1="7.00" x2="287.43" y2="9.90" stroke="#000" stroke-width="0.85"/>
<text x="287.43" y="234.20" font-size="12.6" font-family='"DejaVu Serif","Liberation Serif",serif' text-anchor="middle" >1.75</text>
<line x1="53.10" y1="219.89" x2="54.60" y2="219.89" stroke="#000" stroke-width="0.85"/>
<line x1="316.00" y1="219.89" x2="314.50" y2="219.89" stroke="#000" stroke-width="0.85"/>
<line x1="53.10" y1="207.40" x2="54.60" y2="207.40" stroke="#000" stroke-width="0.85"/>
<line x1="316.00" y1="207.40" x2="314.50" y2="207.40" stroke="#000" stroke-width="0.85"/>
<line x1="53.10" y1="198.53" x2="54.60" y2="198.53" stroke="#000" stroke-width="0.85"/>
<line x1="316.00" y1="198.53" x2="314.50" y2="198.53" stroke="#000" stroke-width="0.85"/>
<line x1="53.10" y1="191.66" x2="54.60" y2="191.66" stroke="#000" stroke-width="0.85"/>
<line x1="316.00" y1="191.66" x2="314.50" y2="191.66" stroke="#000" stroke-width="0.85"/>
<line x1="53.10" y1="186.04" x2="54.60" y2="186.04" stroke="#000" stroke-width="0.85"/>
<line x1="316.00" y1="186.04" x2="314.50" y2="186.04" stroke="#000" stroke-width="0.85"/>
<line x1="53.10" y1="181.29" x2="54.60" y2="181.29" stroke="#000" stroke-width="0.85"/>
<line x1="316.00" y1="181.29" x2="314.50" y2="181.29" stroke="#000" stroke-width="0.85"/>
<line x1="53.10" y1="177.18" x2="54.60" y2="177.18" stroke="#000" stroke-width="0.85"/>
<line x1="316.00" y1="177.18" x2="314.50" y2="177.18" stroke="#000" stroke-width="0.85"/>
<line x1="53.10" y1="173.55" x2="54.60" y2="173.55" stroke="#000" stroke-width="0.85"/>
<line x1="316.00" y1="173.55" x2="314.50" y2="173.55" stroke="#000" stroke-width="0.85"/>
<line x1="53.10" y1="148.94" x2="54.60" y2="148.94" stroke="#000" stroke-width="0.85"/>
<line x1="316.00" y1="148.94" x2="314.50" y2="148.94" stroke="#000" stroke-width="0.85"/>
<line x1="53.10" y1="136.45" x2="54.60" y2="136.45" stroke="#000" stroke-width="0.85"/>
<line x1="316.00" y1="136.45" x2="314.50" y2="136.45" stroke="#000" stroke-width="0.85"/>
<line x1="53.10" y1="127.58" x2="54.60" y2="127.58" stroke="#000" stroke-width="0.85"/>
<line x1="316.00" y1="127.58" x2="314.50" y2="127.58" stroke="#000" stroke-width="0.85"/>
<line x1="53.10" y1="120.71" x2="54.60" y2="120.71" stroke="#000" stroke-width="0.85"/>
<line x1="316.00" y1="120.71" x2="314.50" y2="120.71" stroke="#000" stroke-width="0.85"/>
<line x1="53.10" y1="115.09" x2="54.60" y2="115.09" stroke="#000" stroke-width="0.85"/>
<line x1="316.00" y1="115.09" x2="314.50" y2="115.09" stroke="#000" stroke-width="0.85"/>
<line x1="53.10" y1="110.34" x2="54.60" y2="110.34" stroke="#000" stroke-width="0.85"/>
<line x1="316.00" y1="110.34" x2="314.50" y2="110.34" stroke="#000" stroke-width="0.85"/>
<line x1="53.10" y1="106.23" x2="54.60" y2="106.23" stroke="#000" stroke-width="0.85"/>
<line x1="316.00" y1="106.23" x2="314.50" y2="106.23" stroke="#000" stroke-width="0.85"/>
<line x1="53.10" y1="102.60" x2="54.60" y2="102.60" stroke="#000" stroke-width="0.85"/>
<line x1="316.00" y1="102.60" x2="314.50" y2="102.60" stroke="#000" stroke-width="0.85"/>
<line x1="53.10" y1="77.99" x2="54.60" y2="77.99" stroke="#000" stroke-width="0.85"/>
<line x1="316.00" y1="77.99" x2="314.50" y2="77.99" stroke="#000" stroke-width="0.85"/>
<line x1="53.10" y1="65.50" x2="54.60" y2="65.50" stroke="#000" stroke-width="0.85"/>
<line x1="316.00" y1="65.50" x2="314.50" y2="65.50" stroke="#000" stroke-width="0.85"/>
<line x1="53.10" y1="56.63" x2="54.60" y2="56.63" stroke="#000" stroke-width="0.85"/>
<line x1="316.00" y1="56.63" x2="314.50" y2="56.63" stroke="#000" stroke-width="0.85"/>
<line x1="53.10" y1="49.76" x2="54.60" y2="49.76" stroke="#000" stroke-width="0.85"/>
<line x1="316.00" y1="49.76" x2="314.50" y2="49.76" stroke="#000" stroke-width="0.85"/>
<line x1="53.10" y1="44.14" x2="54.60" y2="44.14" stroke="#000" stroke-width="0.85"/>
<line x1="316.00" y1="44.14" x2="314.50" y2="44.14" stroke="#000" stroke-width="0.85"/>
<line x1="53.10" y1="39.39" x2="54.60" y2="39.39" stroke="#000" stroke-width="0.85"/>
<line x1="316.00" y1="39.39" x2="314.50" y2="39.39" stroke="#000" stroke-width="0.85"/>
<line x1="53.10" y1="35.28" x2="54.60" y2="35.28" stroke="#000" stroke-width="0.85"/>
<line x1="316.00" y1="35.28" x2="314.50" y2="35.28" stroke="#000" stroke-width="0.85"/>
<line x1="53.10" y1="31.65" x2="54.60" y2="31.65" stroke="#000" stroke-width="0.85"/>
<line x1="316.00" y1="31.65" x2="314.50" y2="31.65" stroke="#000" stroke-width="0.85"/>
<line x1="53.10" y1="7.04" x2="54.60" y2="7.04" stroke="#000" stroke-width="0.85"/>
<line x1="316.00" y1="7.04" x2="314.50" y2="7.04" stroke="#000" stroke-width="0.85"/>
<line x1="53.10" y1="28.40" x2="56.00" y2="28.40" stroke="#000" stroke-width="0.85"/>
<line x1="316.00" y1="28.40" x2="313.10" y2="28.40" stroke="#000" stroke-width="0.85"/>
<text x="48.80" y="33.10" font-size="12.6" font-family='"DejaVu Serif","Liberation Serif",serif' text-anchor="end">10<tspan dy="-4.4" dx="0.35" font-size="8.4">2</tspan></text>
<line x1="53.10" y1="99.35" x2="56.00" y2="99.35" stroke="#000" stroke-width="0.85"/>
<line x1="316.00" y1="99.35" x2="313.10" y2="99.35" stroke="#000" stroke-width="0.85"/>
<text x="48.80" y="104.05" font-size="12.6" font-family='"DejaVu Serif","Liberation Serif",serif' text-anchor="end">10<tspan dy="-4.4" dx="0.35" font-size="8.4">1</tspan></text>
<line x1="53.10" y1="170.30" x2="56.00" y2="170.30" stroke="#000" stroke-width="0.85"/>
<line x1="316.00" y1="170.30" x2="313.10" y2="170.30" stroke="#000" stroke-width="0.85"/>
<text x="48.80" y="175.00" font-size="12.6" font-family='"DejaVu Serif","Liberation Serif",serif' text-anchor="end">10<tspan dy="-4.4" dx="0.35" font-size="8.4">0</tspan></text>
<text x="184.50" y="249.60" font-size="12.75" font-family='"DejaVu Sans","Liberation Sans",sans-serif' text-anchor="middle" ><tspan font-style="italic">G</tspan><tspan font-style="italic" font-size="9.1" dy="2.9">BP</tspan><tspan dy="-2.9" dx="2.6">−</tspan><tspan font-style="italic" dx="2.6">G</tspan><tspan font-style="italic" font-size="9.1" dy="2.9">RP</tspan></text>
<text transform="translate(20.8,114.4) rotate(-90)" font-size="12.75" font-family='"DejaVu Serif","Liberation Serif",serif' text-anchor="middle">EW(Li) [m<tspan font-family='"DejaVu Sans","Liberation Sans",sans-serif' font-style="italic">Å</tspan>]</text>
<rect x="123.40" y="172.40" width="187.90" height="43.60" rx="2" ry="2" fill="#fff" fill-opacity="0.8" stroke="#ccc" stroke-opacity="0.8" stroke-width="0.8"/>
<circle cx="136.30" cy="180.70" r="2.15" fill="#1f77b4" fill-opacity="0.5"/>
<text x="153.00" y="183.50" font-size="9.15" font-family='"DejaVu Serif","Liberation Serif",serif' text-anchor="start" >Plausibly First-order Resonant</text>
<circle cx="136.30" cy="194.25" r="2.15" fill="#ff7f0e" fill-opacity="0.5"/>
<text x="153.00" y="197.05" font-size="9.15" font-family='"DejaVu Serif","Liberation Serif",serif' text-anchor="start" >Implausibly Resonant</text>
<circle cx="136.30" cy="207.80" r="2.15" fill="#2ca02c" fill-opacity="0.5"/>
<text x="153.00" y="210.60" font-size="9.15" font-family='"DejaVu Serif","Liberation Serif",serif' text-anchor="start" >Plausibly Second-order Resonant</text>
<g clip-path="url(#c2)">
<circle cx="404.7" cy="24.3" r="2.15" fill="#1f77b4" fill-opacity="0.5"/>
<circle cx="402.4" cy="31.2" r="2.15" fill="#1f77b4" fill-opacity="0.5"/>
<circle cx="404.3" cy="31.8" r="2.15" fill="#1f77b4" fill-opacity="0.5"/>
<circle cx="406.6" cy="37.8" r="2.15" fill="#1f77b4" fill-opacity="0.5"/>
<circle cx="410.9" cy="38.7" r="2.15" fill="#1f77b4" fill-opacity="0.5"/>
<circle cx="400.6" cy="45.9" r="2.15" fill="#1f77b4" fill-opacity="0.5"/>
<circle cx="402.4" cy="45.9" r="2.15" fill="#1f77b4" fill-opacity="0.5"/>
<circle cx="412.5" cy="44.1" r="2.15" fill="#1f77b4" fill-opacity="0.5"/>
<circle cx="407.1" cy="52.5" r="2.15" fill="#1f77b4" fill-opacity="0.5"/>
<circle cx="420.0" cy="44.4" r="2.15" fill="#1f77b4" fill-opacity="0.5"/>
<circle cx="425.0" cy="45.0" r="2.15" fill="#1f77b4" fill-opacity="0.5"/>
<circle cx="426.9" cy="38.7" r="2.15" fill="#1f77b4" fill-opacity="0.5"/>
<circle cx="434.4" cy="54.1" r="2.15" fill="#1f77b4" fill-opacity="0.5"/>
<circle cx="435.1" cy="57.5" r="2.15" fill="#1f77b4" fill-opacity="0.5"/>
<circle cx="443.8" cy="58.2" r="2.15" fill="#1f77b4" fill-opacity="0.5"/>
<circle cx="447.6" cy="58.2" r="2.15" fill="#1f77b4" fill-opacity="0.5"/>
<circle cx="457.0" cy="58.4" r="2.15" fill="#1f77b4" fill-opacity="0.5"/>
<circle cx="437.9" cy="67.9" r="2.15" fill="#1f77b4" fill-opacity="0.5"/>
<circle cx="428.2" cy="33.7" r="2.15" fill="#1f77b4" fill-opacity="0.5"/>
<circle cx="419.4" cy="33.7" r="2.15" fill="#1f77b4" fill-opacity="0.5"/>
<circle cx="422.5" cy="75.3" r="2.15" fill="#1f77b4" fill-opacity="0.5"/>
<circle cx="432.2" cy="76.2" r="2.15" fill="#1f77b4" fill-opacity="0.5"/>
<circle cx="432.2" cy="80.3" r="2.15" fill="#1f77b4" fill-opacity="0.5"/>
<circle cx="434.4" cy="88.1" r="2.15" fill="#1f77b4" fill-opacity="0.5"/>
<circle cx="446.3" cy="87.4" r="2.15" fill="#1f77b4" fill-opacity="0.5"/>
<circle cx="441.9" cy="97.2" r="2.15" fill="#1f77b4" fill-opacity="0.5"/>
<circle cx="446.7" cy="105.6" r="2.15" fill="#1f77b4" fill-opacity="0.5"/>
<circle cx="460.5" cy="84.9" r="2.15" fill="#1f77b4" fill-opacity="0.5"/>
<circle cx="464.7" cy="88.1" r="2.15" fill="#1f77b4" fill-opacity="0.5"/>
<circle cx="465.9" cy="94.1" r="2.15" fill="#1f77b4" fill-opacity="0.5"/>
<circle cx="505.2" cy="104.7" r="2.15" fill="#1f77b4" fill-opacity="0.5"/>
<circle cx="470.1" cy="115.0" r="2.15" fill="#1f77b4" fill-opacity="0.5"/>
<circle cx="490.1" cy="114.7" r="2.15" fill="#1f77b4" fill-opacity="0.5"/>
<circle cx="475.3" cy="107.9" r="2.15" fill="#1f77b4" fill-opacity="0.5"/>
<circle cx="493.5" cy="122.5" r="2.15" fill="#1f77b4" fill-opacity="0.5"/>
<circle cx="480.0" cy="135.9" r="2.15" fill="#1f77b4" fill-opacity="0.5"/>
<circle cx="468.2" cy="141.5" r="2.15" fill="#1f77b4" fill-opacity="0.5"/>
<circle cx="506.9" cy="148.9" r="2.15" fill="#1f77b4" fill-opacity="0.5"/>
<circle cx="625.5" cy="89.8" r="2.15" fill="#1f77b4" fill-opacity="0.5"/>
<circle cx="537.9" cy="116.5" r="2.15" fill="#1f77b4" fill-opacity="0.5"/>
<circle cx="552.3" cy="137.4" r="2.15" fill="#1f77b4" fill-opacity="0.5"/>
<circle cx="413.1" cy="14.0" r="2.15" fill="#ff7f0e" fill-opacity="0.5"/>
<circle cx="403.7" cy="16.5" r="2.15" fill="#ff7f0e" fill-opacity="0.5"/>
<circle cx="406.6" cy="16.5" r="2.15" fill="#ff7f0e" fill-opacity="0.5"/>
<circle cx="426.0" cy="16.8" r="2.15" fill="#ff7f0e" fill-opacity="0.5"/>
<circle cx="431.0" cy="20.2" r="2.15" fill="#ff7f0e" fill-opacity="0.5"/>
<circle cx="435.7" cy="19.9" r="2.15" fill="#ff7f0e" fill-opacity="0.5"/>
<circle cx="399.6" cy="22.7" r="2.15" fill="#ff7f0e" fill-opacity="0.5"/>
<circle cx="448.0" cy="23.1" r="2.15" fill="#ff7f0e" fill-opacity="0.5"/>
<circle cx="445.7" cy="24.6" r="2.15" fill="#ff7f0e" fill-opacity="0.5"/>
<circle cx="437.6" cy="25.6" r="2.15" fill="#ff7f0e" fill-opacity="0.5"/>
<circle cx="453.0" cy="29.6" r="2.15" fill="#ff7f0e" fill-opacity="0.5"/>
<circle cx="449.5" cy="31.2" r="2.15" fill="#ff7f0e" fill-opacity="0.5"/>
<circle cx="451.4" cy="34.6" r="2.15" fill="#ff7f0e" fill-opacity="0.5"/>
<circle cx="395.2" cy="30.3" r="2.15" fill="#ff7f0e" fill-opacity="0.5"/>
<circle cx="399.1" cy="33.7" r="2.15" fill="#ff7f0e" fill-opacity="0.5"/>
<circle cx="399.1" cy="36.8" r="2.15" fill="#ff7f0e" fill-opacity="0.5"/>
<circle cx="408.1" cy="26.8" r="2.15" fill="#ff7f0e" fill-opacity="0.5"/>
<circle cx="408.7" cy="28.7" r="2.15" fill="#ff7f0e" fill-opacity="0.5"/>
<circle cx="408.1" cy="30.6" r="2.15" fill="#ff7f0e" fill-opacity="0.5"/>
<circle cx="415.0" cy="24.3" r="2.15" fill="#ff7f0e" fill-opacity="0.5"/>
<circle cx="418.1" cy="24.3" r="2.15" fill="#ff7f0e" fill-opacity="0.5"/>
<circle cx="421.3" cy="24.3" r="2.15" fill="#ff7f0e" fill-opacity="0.5"/>
<circle cx="424.4" cy="24.3" r="2.15" fill="#ff7f0e" fill-opacity="0.5"/>
<circle cx="427.5" cy="24.3" r="2.15" fill="#ff7f0e" fill-opacity="0.5"/>
<circle cx="429.4" cy="25.6" r="2.15" fill="#ff7f0e" fill-opacity="0.5"/>
<circle cx="420.0" cy="26.8" r="2.15" fill="#ff7f0e" fill-opacity="0.5"/>
<circle cx="423.1" cy="28.1" r="2.15" fill="#ff7f0e" fill-opacity="0.5"/>
<circle cx="431.3" cy="29.9" r="2.15" fill="#ff7f0e" fill-opacity="0.5"/>
<circle cx="434.4" cy="30.6" r="2.15" fill="#ff7f0e" fill-opacity="0.5"/>
<circle cx="436.3" cy="31.8" r="2.15" fill="#ff7f0e" fill-opacity="0.5"/>
<circle cx="439.4" cy="33.1" r="2.15" fill="#ff7f0e" fill-opacity="0.5"/>
<circle cx="436.9" cy="35.0" r="2.15" fill="#ff7f0e" fill-opacity="0.5"/>
<circle cx="433.2" cy="34.3" r="2.15" fill="#ff7f0e" fill-opacity="0.5"/>
<circle cx="414.4" cy="33.1" r="2.15" fill="#ff7f0e" fill-opacity="0.5"/>
<circle cx="414.4" cy="33.1" r="2.15" fill="#ff7f0e" fill-opacity="0.5"/>
<circle cx="420.6" cy="31.2" r="2.15" fill="#ff7f0e" fill-opacity="0.5"/>
<circle cx="421.3" cy="33.1" r="2.15" fill="#ff7f0e" fill-opacity="0.5"/>
<circle cx="424.4" cy="31.8" r="2.15" fill="#ff7f0e" fill-opacity="0.5"/>
<circle cx="418.1" cy="35.6" r="2.15" fill="#ff7f0e" fill-opacity="0.5"/>
<circle cx="419.4" cy="38.1" r="2.15" fill="#ff7f0e" fill-opacity="0.5"/>
<circle cx="421.9" cy="39.4" r="2.15" fill="#ff7f0e" fill-opacity="0.5"/>
<circle cx="423.1" cy="37.5" r="2.15" fill="#ff7f0e" fill-opacity="0.5"/>
<circle cx="430.7" cy="37.5" r="2.15" fill="#ff7f0e" fill-opacity="0.5"/>
<circle cx="431.9" cy="39.4" r="2.15" fill="#ff7f0e" fill-opacity="0.5"/>
<circle cx="435.7" cy="38.1" r="2.15" fill="#ff7f0e" fill-opacity="0.5"/>
<circle cx="438.2" cy="39.4" r="2.15" fill="#ff7f0e" fill-opacity="0.5"/>
<circle cx="438.8" cy="41.9" r="2.15" fill="#ff7f0e" fill-opacity="0.5"/>
<circle cx="434.4" cy="41.2" r="2.15" fill="#ff7f0e" fill-opacity="0.5"/>
<circle cx="425.6" cy="41.2" r="2.15" fill="#ff7f0e" fill-opacity="0.5"/>
<circle cx="425.6" cy="41.2" r="2.15" fill="#ff7f0e" fill-opacity="0.5"/>
<circle cx="427.5" cy="43.1" r="2.15" fill="#ff7f0e" fill-opacity="0.5"/>
<circle cx="421.3" cy="45.6" r="2.15" fill="#ff7f0e" fill-opacity="0.5"/>
<circle cx="422.5" cy="48.8" r="2.15" fill="#ff7f0e" fill-opacity="0.5"/>
<circle cx="426.3" cy="46.9" r="2.15" fill="#ff7f0e" fill-opacity="0.5"/>
<circle cx="426.3" cy="46.9" r="2.15" fill="#ff7f0e" fill-opacity="0.5"/>
<circle cx="428.2" cy="45.6" r="2.15" fill="#ff7f0e" fill-opacity="0.5"/>
<circle cx="425.0" cy="50.6" r="2.15" fill="#ff7f0e" fill-opacity="0.5"/>
<circle cx="421.3" cy="52.5" r="2.15" fill="#ff7f0e" fill-opacity="0.5"/>
<circle cx="438.2" cy="48.1" r="2.15" fill="#ff7f0e" fill-opacity="0.5"/>
<circle cx="443.2" cy="46.9" r="2.15" fill="#ff7f0e" fill-opacity="0.5"/>
<circle cx="447.0" cy="45.0" r="2.15" fill="#ff7f0e" fill-opacity="0.5"/>
<circle cx="448.2" cy="41.9" r="2.15" fill="#ff7f0e" fill-opacity="0.5"/>
<circle cx="450.5" cy="42.1" r="2.15" fill="#ff7f0e" fill-opacity="0.5"/>
<circle cx="457.6" cy="48.8" r="2.15" fill="#ff7f0e" fill-opacity="0.5"/>
<circle cx="455.7" cy="51.3" r="2.15" fill="#ff7f0e" fill-opacity="0.5"/>
<circle cx="456.0" cy="51.0" r="2.15" fill="#ff7f0e" fill-opacity="0.5"/>
<circle cx="444.5" cy="51.3" r="2.15" fill="#ff7f0e" fill-opacity="0.5"/>
<circle cx="444.5" cy="51.3" r="2.15" fill="#ff7f0e" fill-opacity="0.5"/>
<circle cx="441.9" cy="51.9" r="2.15" fill="#ff7f0e" fill-opacity="0.5"/>
<circle cx="436.9" cy="52.5" r="2.15" fill="#ff7f0e" fill-opacity="0.5"/>
<circle cx="439.4" cy="54.4" r="2.15" fill="#ff7f0e" fill-opacity="0.5"/>
<circle cx="441.9" cy="55.6" r="2.15" fill="#ff7f0e" fill-opacity="0.5"/>
<circle cx="447.0" cy="55.0" r="2.15" fill="#ff7f0e" fill-opacity="0.5"/>
<circle cx="453.2" cy="55.0" r="2.15" fill="#ff7f0e" fill-opacity="0.5"/>
<circle cx="452.0" cy="58.2" r="2.15" fill="#ff7f0e" fill-opacity="0.5"/>
<circle cx="396.2" cy="49.4" r="2.15" fill="#ff7f0e" fill-opacity="0.5"/>
<circle cx="404.0" cy="52.8" r="2.15" fill="#ff7f0e" fill-opacity="0.5"/>
<circle cx="418.8" cy="57.1" r="2.15" fill="#ff7f0e" fill-opacity="0.5"/>
<circle cx="418.8" cy="61.3" r="2.15" fill="#ff7f0e" fill-opacity="0.5"/>
<circle cx="426.0" cy="62.2" r="2.15" fill="#ff7f0e" fill-opacity="0.5"/>
<circle cx="410.0" cy="62.5" r="2.15" fill="#ff7f0e" fill-opacity="0.5"/>
<circle cx="389.0" cy="66.7" r="2.15" fill="#ff7f0e" fill-opacity="0.5"/>
<circle cx="401.8" cy="68.2" r="2.15" fill="#ff7f0e" fill-opacity="0.5"/>
<circle cx="416.5" cy="66.7" r="2.15" fill="#ff7f0e" fill-opacity="0.5"/>
<circle cx="411.2" cy="71.3" r="2.15" fill="#ff7f0e" fill-opacity="0.5"/>
<circle cx="429.4" cy="65.7" r="2.15" fill="#ff7f0e" fill-opacity="0.5"/>
<circle cx="432.6" cy="62.5" r="2.15" fill="#ff7f0e" fill-opacity="0.5"/>
<circle cx="435.1" cy="63.8" r="2.15" fill="#ff7f0e" fill-opacity="0.5"/>
<circle cx="433.2" cy="66.3" r="2.15" fill="#ff7f0e" fill-opacity="0.5"/>
<circle cx="436.3" cy="66.9" r="2.15" fill="#ff7f0e" fill-opacity="0.5"/>
<circle cx="440.7" cy="69.4" r="2.15" fill="#ff7f0e" fill-opacity="0.5"/>
<circle cx="443.2" cy="70.7" r="2.15" fill="#ff7f0e" fill-opacity="0.5"/>
<circle cx="443.2" cy="70.7" r="2.15" fill="#ff7f0e" fill-opacity="0.5"/>
<circle cx="445.1" cy="65.7" r="2.15" fill="#ff7f0e" fill-opacity="0.5"/>
<circle cx="447.6" cy="66.9" r="2.15" fill="#ff7f0e" fill-opacity="0.5"/>
<circle cx="452.0" cy="68.2" r="2.15" fill="#ff7f0e" fill-opacity="0.5"/>
<circle cx="454.5" cy="70.7" r="2.15" fill="#ff7f0e" fill-opacity="0.5"/>
<circle cx="426.9" cy="71.3" r="2.15" fill="#ff7f0e" fill-opacity="0.5"/>
<circle cx="411.2" cy="72.0" r="2.15" fill="#ff7f0e" fill-opacity="0.5"/>
<circle cx="427.1" cy="73.0" r="2.15" fill="#ff7f0e" fill-opacity="0.5"/>
<circle cx="440.7" cy="73.0" r="2.15" fill="#ff7f0e" fill-opacity="0.5"/>
<circle cx="440.7" cy="73.0" r="2.15" fill="#ff7f0e" fill-opacity="0.5"/>
<circle cx="440.7" cy="73.0" r="2.15" fill="#ff7f0e" fill-opacity="0.5"/>
<circle cx="443.2" cy="74.3" r="2.15" fill="#ff7f0e" fill-opacity="0.5"/>
<circle cx="443.2" cy="74.3" r="2.15" fill="#ff7f0e" fill-opacity="0.5"/>
<circle cx="445.7" cy="75.5" r="2.15" fill="#ff7f0e" fill-opacity="0.5"/>
<circle cx="435.1" cy="77.4" r="2.15" fill="#ff7f0e" fill-opacity="0.5"/>
<circle cx="436.9" cy="78.7" r="2.15" fill="#ff7f0e" fill-opacity="0.5"/>
<circle cx="443.2" cy="80.5" r="2.15" fill="#ff7f0e" fill-opacity="0.5"/>
<circle cx="443.2" cy="80.5" r="2.15" fill="#ff7f0e" fill-opacity="0.5"/>
<circle cx="445.7" cy="81.8" r="2.15" fill="#ff7f0e" fill-opacity="0.5"/>
<circle cx="448.2" cy="78.0" r="2.15" fill="#ff7f0e" fill-opacity="0.5"/>
<circle cx="451.4" cy="79.3" r="2.15" fill="#ff7f0e" fill-opacity="0.5"/>
<circle cx="451.4" cy="79.3" r="2.15" fill="#ff7f0e" fill-opacity="0.5"/>
<circle cx="453.2" cy="78.0" r="2.15" fill="#ff7f0e" fill-opacity="0.5"/>
<circle cx="433.2" cy="83.0" r="2.15" fill="#ff7f0e" fill-opacity="0.5"/>
<circle cx="435.1" cy="84.3" r="2.15" fill="#ff7f0e" fill-opacity="0.5"/>
<circle cx="450.1" cy="84.3" r="2.15" fill="#ff7f0e" fill-opacity="0.5"/>
<circle cx="450.1" cy="84.3" r="2.15" fill="#ff7f0e" fill-opacity="0.5"/>
<circle cx="453.2" cy="85.5" r="2.15" fill="#ff7f0e" fill-opacity="0.5"/>
<circle cx="455.7" cy="84.3" r="2.15" fill="#ff7f0e" fill-opacity="0.5"/>
<circle cx="443.2" cy="88.7" r="2.15" fill="#ff7f0e" fill-opacity="0.5"/>
<circle cx="443.2" cy="88.7" r="2.15" fill="#ff7f0e" fill-opacity="0.5"/>
<circle cx="445.7" cy="90.6" r="2.15" fill="#ff7f0e" fill-opacity="0.5"/>
<circle cx="448.9" cy="89.9" r="2.15" fill="#ff7f0e" fill-opacity="0.5"/>
<circle cx="433.8" cy="90.6" r="2.15" fill="#ff7f0e" fill-opacity="0.5"/>
<circle cx="436.3" cy="90.3" r="2.15" fill="#ff7f0e" fill-opacity="0.5"/>
<circle cx="440.7" cy="86.8" r="2.15" fill="#ff7f0e" fill-opacity="0.5"/>
<circle cx="450.7" cy="93.7" r="2.15" fill="#ff7f0e" fill-opacity="0.5"/>
<circle cx="450.1" cy="96.2" r="2.15" fill="#ff7f0e" fill-opacity="0.5"/>
<circle cx="453.2" cy="94.3" r="2.15" fill="#ff7f0e" fill-opacity="0.5"/>
<circle cx="457.0" cy="90.6" r="2.15" fill="#ff7f0e" fill-opacity="0.5"/>
<circle cx="423.8" cy="98.7" r="2.15" fill="#ff7f0e" fill-opacity="0.5"/>
<circle cx="449.9" cy="102.1" r="2.15" fill="#ff7f0e" fill-opacity="0.5"/>
<circle cx="444.1" cy="110.6" r="2.15" fill="#ff7f0e" fill-opacity="0.5"/>
<circle cx="431.3" cy="116.0" r="2.15" fill="#ff7f0e" fill-opacity="0.5"/>
<circle cx="457.6" cy="101.2" r="2.15" fill="#ff7f0e" fill-opacity="0.5"/>
<circle cx="466.3" cy="35.8" r="2.15" fill="#ff7f0e" fill-opacity="0.5"/>
<circle cx="497.0" cy="45.9" r="2.15" fill="#ff7f0e" fill-opacity="0.5"/>
<circle cx="459.0" cy="68.6" r="2.15" fill="#ff7f0e" fill-opacity="0.5"/>
<circle cx="460.9" cy="71.3" r="2.15" fill="#ff7f0e" fill-opacity="0.5"/>
<circle cx="464.0" cy="77.0" r="2.15" fill="#ff7f0e" fill-opacity="0.5"/>
<circle cx="462.5" cy="80.5" r="2.15" fill="#ff7f0e" fill-opacity="0.5"/>
<circle cx="465.3" cy="84.0" r="2.15" fill="#ff7f0e" fill-opacity="0.5"/>
<circle cx="473.2" cy="80.3" r="2.15" fill="#ff7f0e" fill-opacity="0.5"/>
<circle cx="473.2" cy="83.0" r="2.15" fill="#ff7f0e" fill-opacity="0.5"/>
<circle cx="484.5" cy="80.3" r="2.15" fill="#ff7f0e" fill-opacity="0.5"/>
<circle cx="508.8" cy="80.5" r="2.15" fill="#ff7f0e" fill-opacity="0.5"/>
<circle cx="480.3" cy="85.9" r="2.15" fill="#ff7f0e" fill-opacity="0.5"/>
<circle cx="482.2" cy="86.8" r="2.15" fill="#ff7f0e" fill-opacity="0.5"/>
<circle cx="484.7" cy="85.5" r="2.15" fill="#ff7f0e" fill-opacity="0.5"/>
<circle cx="487.6" cy="88.1" r="2.15" fill="#ff7f0e" fill-opacity="0.5"/>
<circle cx="487.6" cy="88.1" r="2.15" fill="#ff7f0e" fill-opacity="0.5"/>
<circle cx="487.6" cy="90.6" r="2.15" fill="#ff7f0e" fill-opacity="0.5"/>
<circle cx="487.6" cy="90.6" r="2.15" fill="#ff7f0e" fill-opacity="0.5"/>
<circle cx="459.0" cy="88.1" r="2.15" fill="#ff7f0e" fill-opacity="0.5"/>
<circle cx="462.8" cy="89.9" r="2.15" fill="#ff7f0e" fill-opacity="0.5"/>
<circle cx="467.8" cy="90.3" r="2.15" fill="#ff7f0e" fill-opacity="0.5"/>
<circle cx="459.0" cy="91.8" r="2.15" fill="#ff7f0e" fill-opacity="0.5"/>
<circle cx="464.0" cy="93.1" r="2.15" fill="#ff7f0e" fill-opacity="0.5"/>
<circle cx="469.7" cy="97.7" r="2.15" fill="#ff7f0e" fill-opacity="0.5"/>
<circle cx="472.8" cy="98.1" r="2.15" fill="#ff7f0e" fill-opacity="0.5"/>
<circle cx="460.9" cy="98.7" r="2.15" fill="#ff7f0e" fill-opacity="0.5"/>
<circle cx="460.3" cy="100.8" r="2.15" fill="#ff7f0e" fill-opacity="0.5"/>
<circle cx="466.5" cy="101.9" r="2.15" fill="#ff7f0e" fill-opacity="0.5"/>
<circle cx="469.1" cy="101.9" r="2.15" fill="#ff7f0e" fill-opacity="0.5"/>
<circle cx="459.0" cy="104.6" r="2.15" fill="#ff7f0e" fill-opacity="0.5"/>
<circle cx="462.8" cy="105.6" r="2.15" fill="#ff7f0e" fill-opacity="0.5"/>
<circle cx="465.3" cy="107.5" r="2.15" fill="#ff7f0e" fill-opacity="0.5"/>
<circle cx="465.3" cy="107.5" r="2.15" fill="#ff7f0e" fill-opacity="0.5"/>
<circle cx="467.8" cy="108.1" r="2.15" fill="#ff7f0e" fill-opacity="0.5"/>
<circle cx="467.8" cy="108.1" r="2.15" fill="#ff7f0e" fill-opacity="0.5"/>
<circle cx="470.3" cy="107.5" r="2.15" fill="#ff7f0e" fill-opacity="0.5"/>
<circle cx="472.8" cy="108.1" r="2.15" fill="#ff7f0e" fill-opacity="0.5"/>
<circle cx="475.9" cy="105.0" r="2.15" fill="#ff7f0e" fill-opacity="0.5"/>
<circle cx="475.9" cy="106.9" r="2.15" fill="#ff7f0e" fill-opacity="0.5"/>
<circle cx="475.9" cy="106.9" r="2.15" fill="#ff7f0e" fill-opacity="0.5"/>
<circle cx="479.1" cy="108.1" r="2.15" fill="#ff7f0e" fill-opacity="0.5"/>
<circle cx="479.1" cy="108.1" r="2.15" fill="#ff7f0e" fill-opacity="0.5"/>
<circle cx="483.5" cy="101.9" r="2.15" fill="#ff7f0e" fill-opacity="0.5"/>
<circle cx="483.7" cy="105.0" r="2.15" fill="#ff7f0e" fill-opacity="0.5"/>
<circle cx="484.1" cy="108.1" r="2.15" fill="#ff7f0e" fill-opacity="0.5"/>
<circle cx="485.4" cy="109.4" r="2.15" fill="#ff7f0e" fill-opacity="0.5"/>
<circle cx="487.2" cy="111.9" r="2.15" fill="#ff7f0e" fill-opacity="0.5"/>
<circle cx="484.1" cy="113.8" r="2.15" fill="#ff7f0e" fill-opacity="0.5"/>
<circle cx="487.6" cy="99.1" r="2.15" fill="#ff7f0e" fill-opacity="0.5"/>
<circle cx="491.6" cy="98.1" r="2.15" fill="#ff7f0e" fill-opacity="0.5"/>
<circle cx="491.6" cy="100.8" r="2.15" fill="#ff7f0e" fill-opacity="0.5"/>
<circle cx="491.6" cy="100.8" r="2.15" fill="#ff7f0e" fill-opacity="0.5"/>
<circle cx="491.6" cy="103.7" r="2.15" fill="#ff7f0e" fill-opacity="0.5"/>
<circle cx="490.4" cy="107.1" r="2.15" fill="#ff7f0e" fill-opacity="0.5"/>
<circle cx="492.9" cy="107.5" r="2.15" fill="#ff7f0e" fill-opacity="0.5"/>
<circle cx="497.0" cy="106.2" r="2.15" fill="#ff7f0e" fill-opacity="0.5"/>
<circle cx="497.0" cy="106.2" r="2.15" fill="#ff7f0e" fill-opacity="0.5"/>
<circle cx="497.0" cy="112.5" r="2.15" fill="#ff7f0e" fill-opacity="0.5"/>
<circle cx="502.9" cy="113.1" r="2.15" fill="#ff7f0e" fill-opacity="0.5"/>
<circle cx="459.6" cy="111.9" r="2.15" fill="#ff7f0e" fill-opacity="0.5"/>
<circle cx="462.5" cy="111.9" r="2.15" fill="#ff7f0e" fill-opacity="0.5"/>
<circle cx="466.5" cy="116.3" r="2.15" fill="#ff7f0e" fill-opacity="0.5"/>
<circle cx="472.8" cy="116.3" r="2.15" fill="#ff7f0e" fill-opacity="0.5"/>
<circle cx="474.7" cy="112.9" r="2.15" fill="#ff7f0e" fill-opacity="0.5"/>
<circle cx="477.2" cy="115.4" r="2.15" fill="#ff7f0e" fill-opacity="0.5"/>
<circle cx="478.4" cy="119.7" r="2.15" fill="#ff7f0e" fill-opacity="0.5"/>
<circle cx="480.0" cy="120.7" r="2.15" fill="#ff7f0e" fill-opacity="0.5"/>
<circle cx="472.2" cy="122.5" r="2.15" fill="#ff7f0e" fill-opacity="0.5"/>
<circle cx="472.2" cy="122.5" r="2.15" fill="#ff7f0e" fill-opacity="0.5"/>
<circle cx="492.2" cy="116.3" r="2.15" fill="#ff7f0e" fill-opacity="0.5"/>
<circle cx="491.6" cy="119.4" r="2.15" fill="#ff7f0e" fill-opacity="0.5"/>
<circle cx="491.6" cy="119.4" r="2.15" fill="#ff7f0e" fill-opacity="0.5"/>
<circle cx="490.4" cy="122.5" r="2.15" fill="#ff7f0e" fill-opacity="0.5"/>
<circle cx="490.4" cy="122.5" r="2.15" fill="#ff7f0e" fill-opacity="0.5"/>
<circle cx="498.5" cy="116.9" r="2.15" fill="#ff7f0e" fill-opacity="0.5"/>
<circle cx="498.5" cy="119.4" r="2.15" fill="#ff7f0e" fill-opacity="0.5"/>
<circle cx="498.5" cy="121.9" r="2.15" fill="#ff7f0e" fill-opacity="0.5"/>
<circle cx="504.8" cy="121.5" r="2.15" fill="#ff7f0e" fill-opacity="0.5"/>
<circle cx="508.2" cy="122.2" r="2.15" fill="#ff7f0e" fill-opacity="0.5"/>
<circle cx="511.1" cy="122.2" r="2.15" fill="#ff7f0e" fill-opacity="0.5"/>
<circle cx="520.8" cy="107.8" r="2.15" fill="#ff7f0e" fill-opacity="0.5"/>
<circle cx="522.3" cy="116.3" r="2.15" fill="#ff7f0e" fill-opacity="0.5"/>
<circle cx="532.4" cy="122.5" r="2.15" fill="#ff7f0e" fill-opacity="0.5"/>
<circle cx="515.4" cy="126.9" r="2.15" fill="#ff7f0e" fill-opacity="0.5"/>
<circle cx="512.9" cy="129.4" r="2.15" fill="#ff7f0e" fill-opacity="0.5"/>
<circle cx="522.3" cy="130.7" r="2.15" fill="#ff7f0e" fill-opacity="0.5"/>
<circle cx="488.5" cy="128.8" r="2.15" fill="#ff7f0e" fill-opacity="0.5"/>
<circle cx="494.8" cy="126.3" r="2.15" fill="#ff7f0e" fill-opacity="0.5"/>
<circle cx="492.9" cy="129.4" r="2.15" fill="#ff7f0e" fill-opacity="0.5"/>
<circle cx="474.9" cy="135.8" r="2.15" fill="#ff7f0e" fill-opacity="0.5"/>
<circle cx="500.4" cy="134.3" r="2.15" fill="#ff7f0e" fill-opacity="0.5"/>
<circle cx="512.1" cy="133.3" r="2.15" fill="#ff7f0e" fill-opacity="0.5"/>
<circle cx="516.1" cy="134.3" r="2.15" fill="#ff7f0e" fill-opacity="0.5"/>
<circle cx="521.5" cy="134.9" r="2.15" fill="#ff7f0e" fill-opacity="0.5"/>
<circle cx="528.6" cy="137.0" r="2.15" fill="#ff7f0e" fill-opacity="0.5"/>
<circle cx="528.6" cy="137.0" r="2.15" fill="#ff7f0e" fill-opacity="0.5"/>
<circle cx="531.7" cy="138.7" r="2.15" fill="#ff7f0e" fill-opacity="0.5"/>
<circle cx="520.8" cy="140.8" r="2.15" fill="#ff7f0e" fill-opacity="0.5"/>
<circle cx="485.1" cy="146.6" r="2.15" fill="#ff7f0e" fill-opacity="0.5"/>
<circle cx="491.9" cy="147.1" r="2.15" fill="#ff7f0e" fill-opacity="0.5"/>
<circle cx="513.9" cy="148.4" r="2.15" fill="#ff7f0e" fill-opacity="0.5"/>
<circle cx="517.3" cy="148.9" r="2.15" fill="#ff7f0e" fill-opacity="0.5"/>
<circle cx="507.3" cy="157.7" r="2.15" fill="#ff7f0e" fill-opacity="0.5"/>
<circle cx="490.6" cy="161.9" r="2.15" fill="#ff7f0e" fill-opacity="0.5"/>
<circle cx="530.9" cy="158.5" r="2.15" fill="#ff7f0e" fill-opacity="0.5"/>
<circle cx="534.0" cy="144.3" r="2.15" fill="#ff7f0e" fill-opacity="0.5"/>
<circle cx="554.4" cy="118.6" r="2.15" fill="#ff7f0e" fill-opacity="0.5"/>
<circle cx="556.5" cy="120.9" r="2.15" fill="#ff7f0e" fill-opacity="0.5"/>
<circle cx="536.9" cy="139.6" r="2.15" fill="#ff7f0e" fill-opacity="0.5"/>
<circle cx="413.5" cy="16.7" r="2.15" fill="#ff7f0e" fill-opacity="0.5"/>
<circle cx="404.9" cy="18.8" r="2.15" fill="#ff7f0e" fill-opacity="0.5"/>
<circle cx="404.5" cy="25.3" r="2.15" fill="#ff7f0e" fill-opacity="0.5"/>
<circle cx="410.8" cy="38.2" r="2.15" fill="#ff7f0e" fill-opacity="0.5"/>
<circle cx="428.4" cy="33.5" r="2.15" fill="#ff7f0e" fill-opacity="0.5"/>
<circle cx="426.8" cy="39.1" r="2.15" fill="#ff7f0e" fill-opacity="0.5"/>
<circle cx="421.0" cy="44.5" r="2.15" fill="#ff7f0e" fill-opacity="0.5"/>
<circle cx="414.3" cy="32.7" r="2.15" fill="#ff7f0e" fill-opacity="0.5"/>
<circle cx="414.7" cy="33.1" r="2.15" fill="#ff7f0e" fill-opacity="0.5"/>
<circle cx="415.9" cy="28.8" r="2.15" fill="#ff7f0e" fill-opacity="0.5"/>
<circle cx="417.4" cy="28.4" r="2.15" fill="#ff7f0e" fill-opacity="0.5"/>
<circle cx="426.4" cy="28.8" r="2.15" fill="#ff7f0e" fill-opacity="0.5"/>
<circle cx="419.8" cy="33.5" r="2.15" fill="#ff7f0e" fill-opacity="0.5"/>
<circle cx="422.1" cy="39.0" r="2.15" fill="#ff7f0e" fill-opacity="0.5"/>
<circle cx="424.5" cy="42.1" r="2.15" fill="#ff7f0e" fill-opacity="0.5"/>
<circle cx="417.4" cy="37.4" r="2.15" fill="#ff7f0e" fill-opacity="0.5"/>
<circle cx="433.9" cy="35.9" r="2.15" fill="#ff7f0e" fill-opacity="0.5"/>
<circle cx="437.0" cy="38.2" r="2.15" fill="#ff7f0e" fill-opacity="0.5"/>
<circle cx="408.8" cy="27.2" r="2.15" fill="#ff7f0e" fill-opacity="0.5"/>
<circle cx="413.5" cy="24.9" r="2.15" fill="#ff7f0e" fill-opacity="0.5"/>
<circle cx="422.9" cy="24.1" r="2.15" fill="#ff7f0e" fill-opacity="0.5"/>
<circle cx="454.7" cy="75.3" r="2.15" fill="#ff7f0e" fill-opacity="0.5"/>
<circle cx="448.0" cy="81.6" r="2.15" fill="#ff7f0e" fill-opacity="0.5"/>
<circle cx="453.5" cy="82.8" r="2.15" fill="#ff7f0e" fill-opacity="0.5"/>
<circle cx="456.6" cy="86.3" r="2.15" fill="#ff7f0e" fill-opacity="0.5"/>
<circle cx="457.0" cy="85.9" r="2.15" fill="#ff7f0e" fill-opacity="0.5"/>
<circle cx="446.1" cy="87.9" r="2.15" fill="#ff7f0e" fill-opacity="0.5"/>
<circle cx="464.5" cy="88.2" r="2.15" fill="#ff7f0e" fill-opacity="0.5"/>
<circle cx="464.5" cy="93.0" r="2.15" fill="#ff7f0e" fill-opacity="0.5"/>
<circle cx="455.1" cy="90.2" r="2.15" fill="#ff7f0e" fill-opacity="0.5"/>
<circle cx="451.2" cy="84.7" r="2.15" fill="#ff7f0e" fill-opacity="0.5"/>
<circle cx="451.6" cy="84.3" r="2.15" fill="#ff7f0e" fill-opacity="0.5"/>
<circle cx="444.1" cy="80.8" r="2.15" fill="#ff7f0e" fill-opacity="0.5"/>
<circle cx="437.8" cy="67.3" r="2.15" fill="#ff7f0e" fill-opacity="0.5"/>
<circle cx="432.4" cy="76.9" r="2.15" fill="#ff7f0e" fill-opacity="0.5"/>
<circle cx="432.7" cy="82.4" r="2.15" fill="#ff7f0e" fill-opacity="0.5"/>
<circle cx="434.7" cy="87.9" r="2.15" fill="#ff7f0e" fill-opacity="0.5"/>
<circle cx="438.6" cy="87.5" r="2.15" fill="#ff7f0e" fill-opacity="0.5"/>
<circle cx="449.6" cy="73.4" r="2.15" fill="#ff7f0e" fill-opacity="0.5"/>
<circle cx="452.3" cy="93.3" r="2.15" fill="#ff7f0e" fill-opacity="0.5"/>
<circle cx="448.8" cy="97.3" r="2.15" fill="#ff7f0e" fill-opacity="0.5"/>
<circle cx="413.7" cy="17.0" r="2.15" fill="#2ca02c" fill-opacity="0.5"/>
<circle cx="404.7" cy="19.3" r="2.15" fill="#2ca02c" fill-opacity="0.5"/>
<circle cx="408.1" cy="19.5" r="2.15" fill="#2ca02c" fill-opacity="0.5"/>
<circle cx="415.9" cy="20.9" r="2.15" fill="#2ca02c" fill-opacity="0.5"/>
<circle cx="431.9" cy="26.8" r="2.15" fill="#2ca02c" fill-opacity="0.5"/>
<circle cx="415.0" cy="28.7" r="2.15" fill="#2ca02c" fill-opacity="0.5"/>
<circle cx="417.9" cy="27.8" r="2.15" fill="#2ca02c" fill-opacity="0.5"/>
<circle cx="426.6" cy="28.7" r="2.15" fill="#2ca02c" fill-opacity="0.5"/>
<circle cx="403.7" cy="34.1" r="2.15" fill="#2ca02c" fill-opacity="0.5"/>
<circle cx="441.7" cy="36.2" r="2.15" fill="#2ca02c" fill-opacity="0.5"/>
<circle cx="411.2" cy="44.1" r="2.15" fill="#2ca02c" fill-opacity="0.5"/>
<circle cx="429.8" cy="44.7" r="2.15" fill="#2ca02c" fill-opacity="0.5"/>
<circle cx="431.0" cy="48.8" r="2.15" fill="#2ca02c" fill-opacity="0.5"/>
<circle cx="430.7" cy="51.9" r="2.15" fill="#2ca02c" fill-opacity="0.5"/>
<circle cx="431.9" cy="58.8" r="2.15" fill="#2ca02c" fill-opacity="0.5"/>
<circle cx="386.8" cy="59.2" r="2.15" fill="#2ca02c" fill-opacity="0.5"/>
<circle cx="407.1" cy="67.2" r="2.15" fill="#2ca02c" fill-opacity="0.5"/>
<circle cx="411.6" cy="65.7" r="2.15" fill="#2ca02c" fill-opacity="0.5"/>
<circle cx="450.1" cy="73.3" r="2.15" fill="#2ca02c" fill-opacity="0.5"/>
<circle cx="454.5" cy="75.3" r="2.15" fill="#2ca02c" fill-opacity="0.5"/>
<circle cx="438.6" cy="80.9" r="2.15" fill="#2ca02c" fill-opacity="0.5"/>
<circle cx="448.0" cy="81.5" r="2.15" fill="#2ca02c" fill-opacity="0.5"/>
<circle cx="453.6" cy="83.0" r="2.15" fill="#2ca02c" fill-opacity="0.5"/>
<circle cx="438.6" cy="87.4" r="2.15" fill="#2ca02c" fill-opacity="0.5"/>
<circle cx="456.4" cy="86.8" r="2.15" fill="#2ca02c" fill-opacity="0.5"/>
<circle cx="452.0" cy="88.7" r="2.15" fill="#2ca02c" fill-opacity="0.5"/>
<circle cx="452.6" cy="92.5" r="2.15" fill="#2ca02c" fill-opacity="0.5"/>
<circle cx="441.9" cy="97.2" r="2.15" fill="#2ca02c" fill-opacity="0.5"/>
<circle cx="449.5" cy="97.5" r="2.15" fill="#2ca02c" fill-opacity="0.5"/>
<circle cx="449.1" cy="99.3" r="2.15" fill="#2ca02c" fill-opacity="0.5"/>
<circle cx="454.9" cy="98.3" r="2.15" fill="#2ca02c" fill-opacity="0.5"/>
<circle cx="446.7" cy="105.6" r="2.15" fill="#2ca02c" fill-opacity="0.5"/>
<circle cx="486.9" cy="104.0" r="2.15" fill="#2ca02c" fill-opacity="0.5"/>
<circle cx="481.0" cy="112.3" r="2.15" fill="#2ca02c" fill-opacity="0.5"/>
<circle cx="458.8" cy="123.5" r="2.15" fill="#2ca02c" fill-opacity="0.5"/>
<circle cx="493.5" cy="122.5" r="2.15" fill="#2ca02c" fill-opacity="0.5"/>
<circle cx="491.0" cy="126.9" r="2.15" fill="#2ca02c" fill-opacity="0.5"/>
<circle cx="507.7" cy="126.3" r="2.15" fill="#2ca02c" fill-opacity="0.5"/>
<circle cx="518.0" cy="123.2" r="2.15" fill="#2ca02c" fill-opacity="0.5"/>
<circle cx="506.9" cy="148.9" r="2.15" fill="#2ca02c" fill-opacity="0.5"/>
<circle cx="455.1" cy="98.4" r="2.15" fill="#2ca02c" fill-opacity="0.5"/>
<circle cx="456.6" cy="86.3" r="2.15" fill="#2ca02c" fill-opacity="0.5"/>
</g>
<rect x="375.10" y="7.00" width="262.20" height="213.40" fill="none" stroke="#2a2a2a" stroke-width="1.2"/>
<line x1="375.67" y1="220.40" x2="375.67" y2="218.90" stroke="#000" stroke-width="0.85"/>
<line x1="375.67" y1="7.00" x2="375.67" y2="8.50" stroke="#000" stroke-width="0.85"/>
<line x1="385.42" y1="220.40" x2="385.42" y2="218.90" stroke="#000" stroke-width="0.85"/>
<line x1="385.42" y1="7.00" x2="385.42" y2="8.50" stroke="#000" stroke-width="0.85"/>
<line x1="395.16" y1="220.40" x2="395.16" y2="218.90" stroke="#000" stroke-width="0.85"/>
<line x1="395.16" y1="7.00" x2="395.16" y2="8.50" stroke="#000" stroke-width="0.85"/>
<line x1="404.91" y1="220.40" x2="404.91" y2="218.90" stroke="#000" stroke-width="0.85"/>
<line x1="404.91" y1="7.00" x2="404.91" y2="8.50" stroke="#000" stroke-width="0.85"/>
<line x1="424.39" y1="220.40" x2="424.39" y2="218.90" stroke="#000" stroke-width="0.85"/>
<line x1="424.39" y1="7.00" x2="424.39" y2="8.50" stroke="#000" stroke-width="0.85"/>
<line x1="434.14" y1="220.40" x2="434.14" y2="218.90" stroke="#000" stroke-width="0.85"/>
<line x1="434.14" y1="7.00" x2="434.14" y2="8.50" stroke="#000" stroke-width="0.85"/>
<line x1="443.88" y1="220.40" x2="443.88" y2="218.90" stroke="#000" stroke-width="0.85"/>
<line x1="443.88" y1="7.00" x2="443.88" y2="8.50" stroke="#000" stroke-width="0.85"/>
<line x1="453.63" y1="220.40" x2="453.63" y2="218.90" stroke="#000" stroke-width="0.85"/>
<line x1="453.63" y1="7.00" x2="453.63" y2="8.50" stroke="#000" stroke-width="0.85"/>
<line x1="473.11" y1="220.40" x2="473.11" y2="218.90" stroke="#000" stroke-width="0.85"/>
<line x1="473.11" y1="7.00" x2="473.11" y2="8.50" stroke="#000" stroke-width="0.85"/>
<line x1="482.86" y1="220.40" x2="482.86" y2="218.90" stroke="#000" stroke-width="0.85"/>
<line x1="482.86" y1="7.00" x2="482.86" y2="8.50" stroke="#000" stroke-width="0.85"/>
<line x1="492.60" y1="220.40" x2="492.60" y2="218.90" stroke="#000" stroke-width="0.85"/>
<line x1="492.60" y1="7.00" x2="492.60" y2="8.50" stroke="#000" stroke-width="0.85"/>
<line x1="502.35" y1="220.40" x2="502.35" y2="218.90" stroke="#000" stroke-width="0.85"/>
<line x1="502.35" y1="7.00" x2="502.35" y2="8.50" stroke="#000" stroke-width="0.85"/>
<line x1="521.83" y1="220.40" x2="521.83" y2="218.90" stroke="#000" stroke-width="0.85"/>
<line x1="521.83" y1="7.00" x2="521.83" y2="8.50" stroke="#000" stroke-width="0.85"/>
<line x1="531.58" y1="220.40" x2="531.58" y2="218.90" stroke="#000" stroke-width="0.85"/>
<line x1="531.58" y1="7.00" x2="531.58" y2="8.50" stroke="#000" stroke-width="0.85"/>
<line x1="541.32" y1="220.40" x2="541.32" y2="218.90" stroke="#000" stroke-width="0.85"/>
<line x1="541.32" y1="7.00" x2="541.32" y2="8.50" stroke="#000" stroke-width="0.85"/>
<line x1="551.07" y1="220.40" x2="551.07" y2="218.90" stroke="#000" stroke-width="0.85"/>
<line x1="551.07" y1="7.00" x2="551.07" y2="8.50" stroke="#000" stroke-width="0.85"/>
<line x1="570.55" y1="220.40" x2="570.55" y2="218.90" stroke="#000" stroke-width="0.85"/>
<line x1="570.55" y1="7.00" x2="570.55" y2="8.50" stroke="#000" stroke-width="0.85"/>
<line x1="580.30" y1="220.40" x2="580.30" y2="218.90" stroke="#000" stroke-width="0.85"/>
<line x1="580.30" y1="7.00" x2="580.30" y2="8.50" stroke="#000" stroke-width="0.85"/>
<line x1="590.04" y1="220.40" x2="590.04" y2="218.90" stroke="#000" stroke-width="0.85"/>
<line x1="590.04" y1="7.00" x2="590.04" y2="8.50" stroke="#000" stroke-width="0.85"/>
<line x1="599.79" y1="220.40" x2="599.79" y2="218.90" stroke="#000" stroke-width="0.85"/>
<line x1="599.79" y1="7.00" x2="599.79" y2="8.50" stroke="#000" stroke-width="0.85"/>
<line x1="619.27" y1="220.40" x2="619.27" y2="218.90" stroke="#000" stroke-width="0.85"/>
<line x1="619.27" y1="7.00" x2="619.27" y2="8.50" stroke="#000" stroke-width="0.85"/>
<line x1="629.02" y1="220.40" x2="629.02" y2="218.90" stroke="#000" stroke-width="0.85"/>
<line x1="629.02" y1="7.00" x2="629.02" y2="8.50" stroke="#000" stroke-width="0.85"/>
<line x1="414.65" y1="220.40" x2="414.65" y2="217.50" stroke="#000" stroke-width="0.85"/>
<line x1="414.65" y1="7.00" x2="414.65" y2="9.90" stroke="#000" stroke-width="0.85"/>
<text x="414.65" y="234.20" font-size="12.6" font-family='"DejaVu Serif","Liberation Serif",serif' text-anchor="middle" >0.75</text>
<line x1="463.37" y1="220.40" x2="463.37" y2="217.50" stroke="#000" stroke-width="0.85"/>
<line x1="463.37" y1="7.00" x2="463.37" y2="9.90" stroke="#000" stroke-width="0.85"/>
<text x="463.37" y="234.20" font-size="12.6" font-family='"DejaVu Serif","Liberation Serif",serif' text-anchor="middle" >1.00</text>
<line x1="512.09" y1="220.40" x2="512.09" y2="217.50" stroke="#000" stroke-width="0.85"/>
<line x1="512.09" y1="7.00" x2="512.09" y2="9.90" stroke="#000" stroke-width="0.85"/>
<text x="512.09" y="234.20" font-size="12.6" font-family='"DejaVu Serif","Liberation Serif",serif' text-anchor="middle" >1.25</text>
<line x1="560.81" y1="220.40" x2="560.81" y2="217.50" stroke="#000" stroke-width="0.85"/>
<line x1="560.81" y1="7.00" x2="560.81" y2="9.90" stroke="#000" stroke-width="0.85"/>
<text x="560.81" y="234.20" font-size="12.6" font-family='"DejaVu Serif","Liberation Serif",serif' text-anchor="middle" >1.50</text>
<line x1="609.53" y1="220.40" x2="609.53" y2="217.50" stroke="#000" stroke-width="0.85"/>
<line x1="609.53" y1="7.00" x2="609.53" y2="9.90" stroke="#000" stroke-width="0.85"/>
<text x="609.53" y="234.20" font-size="12.6" font-family='"DejaVu Serif","Liberation Serif",serif' text-anchor="middle" >1.75</text>
<line x1="375.10" y1="217.44" x2="376.60" y2="217.44" stroke="#000" stroke-width="0.85"/>
<line x1="637.30" y1="217.44" x2="635.80" y2="217.44" stroke="#000" stroke-width="0.85"/>
<line x1="375.10" y1="214.74" x2="376.60" y2="214.74" stroke="#000" stroke-width="0.85"/>
<line x1="637.30" y1="214.74" x2="635.80" y2="214.74" stroke="#000" stroke-width="0.85"/>
<line x1="375.10" y1="212.41" x2="376.60" y2="212.41" stroke="#000" stroke-width="0.85"/>
<line x1="637.30" y1="212.41" x2="635.80" y2="212.41" stroke="#000" stroke-width="0.85"/>
<line x1="375.10" y1="210.34" x2="376.60" y2="210.34" stroke="#000" stroke-width="0.85"/>
<line x1="637.30" y1="210.34" x2="635.80" y2="210.34" stroke="#000" stroke-width="0.85"/>
<line x1="375.10" y1="196.37" x2="376.60" y2="196.37" stroke="#000" stroke-width="0.85"/>
<line x1="637.30" y1="196.37" x2="635.80" y2="196.37" stroke="#000" stroke-width="0.85"/>
<line x1="375.10" y1="189.27" x2="376.60" y2="189.27" stroke="#000" stroke-width="0.85"/>
<line x1="637.30" y1="189.27" x2="635.80" y2="189.27" stroke="#000" stroke-width="0.85"/>
<line x1="375.10" y1="184.24" x2="376.60" y2="184.24" stroke="#000" stroke-width="0.85"/>
<line x1="637.30" y1="184.24" x2="635.80" y2="184.24" stroke="#000" stroke-width="0.85"/>
<line x1="375.10" y1="180.33" x2="376.60" y2="180.33" stroke="#000" stroke-width="0.85"/>
<line x1="637.30" y1="180.33" x2="635.80" y2="180.33" stroke="#000" stroke-width="0.85"/>
<line x1="375.10" y1="177.14" x2="376.60" y2="177.14" stroke="#000" stroke-width="0.85"/>
<line x1="637.30" y1="177.14" x2="635.80" y2="177.14" stroke="#000" stroke-width="0.85"/>
<line x1="375.10" y1="174.44" x2="376.60" y2="174.44" stroke="#000" stroke-width="0.85"/>
<line x1="637.30" y1="174.44" x2="635.80" y2="174.44" stroke="#000" stroke-width="0.85"/>
<line x1="375.10" y1="172.11" x2="376.60" y2="172.11" stroke="#000" stroke-width="0.85"/>
<line x1="637.30" y1="172.11" x2="635.80" y2="172.11" stroke="#000" stroke-width="0.85"/>
<line x1="375.10" y1="170.04" x2="376.60" y2="170.04" stroke="#000" stroke-width="0.85"/>
<line x1="637.30" y1="170.04" x2="635.80" y2="170.04" stroke="#000" stroke-width="0.85"/>
<line x1="375.10" y1="156.07" x2="376.60" y2="156.07" stroke="#000" stroke-width="0.85"/>
<line x1="637.30" y1="156.07" x2="635.80" y2="156.07" stroke="#000" stroke-width="0.85"/>
<line x1="375.10" y1="148.97" x2="376.60" y2="148.97" stroke="#000" stroke-width="0.85"/>
<line x1="637.30" y1="148.97" x2="635.80" y2="148.97" stroke="#000" stroke-width="0.85"/>
<line x1="375.10" y1="143.94" x2="376.60" y2="143.94" stroke="#000" stroke-width="0.85"/>
<line x1="637.30" y1="143.94" x2="635.80" y2="143.94" stroke="#000" stroke-width="0.85"/>
<line x1="375.10" y1="140.03" x2="376.60" y2="140.03" stroke="#000" stroke-width="0.85"/>
<line x1="637.30" y1="140.03" x2="635.80" y2="140.03" stroke="#000" stroke-width="0.85"/>
<line x1="375.10" y1="136.84" x2="376.60" y2="136.84" stroke="#000" stroke-width="0.85"/>
<line x1="637.30" y1="136.84" x2="635.80" y2="136.84" stroke="#000" stroke-width="0.85"/>
<line x1="375.10" y1="134.14" x2="376.60" y2="134.14" stroke="#000" stroke-width="0.85"/>
<line x1="637.30" y1="134.14" x2="635.80" y2="134.14" stroke="#000" stroke-width="0.85"/>
<line x1="375.10" y1="131.81" x2="376.60" y2="131.81" stroke="#000" stroke-width="0.85"/>
<line x1="637.30" y1="131.81" x2="635.80" y2="131.81" stroke="#000" stroke-width="0.85"/>
<line x1="375.10" y1="129.74" x2="376.60" y2="129.74" stroke="#000" stroke-width="0.85"/>
<line x1="637.30" y1="129.74" x2="635.80" y2="129.74" stroke="#000" stroke-width="0.85"/>
<line x1="375.10" y1="115.77" x2="376.60" y2="115.77" stroke="#000" stroke-width="0.85"/>
<line x1="637.30" y1="115.77" x2="635.80" y2="115.77" stroke="#000" stroke-width="0.85"/>
<line x1="375.10" y1="108.67" x2="376.60" y2="108.67" stroke="#000" stroke-width="0.85"/>
<line x1="637.30" y1="108.67" x2="635.80" y2="108.67" stroke="#000" stroke-width="0.85"/>
<line x1="375.10" y1="103.64" x2="376.60" y2="103.64" stroke="#000" stroke-width="0.85"/>
<line x1="637.30" y1="103.64" x2="635.80" y2="103.64" stroke="#000" stroke-width="0.85"/>
<line x1="375.10" y1="99.73" x2="376.60" y2="99.73" stroke="#000" stroke-width="0.85"/>
<line x1="637.30" y1="99.73" x2="635.80" y2="99.73" stroke="#000" stroke-width="0.85"/>
<line x1="375.10" y1="96.54" x2="376.60" y2="96.54" stroke="#000" stroke-width="0.85"/>
<line x1="637.30" y1="96.54" x2="635.80" y2="96.54" stroke="#000" stroke-width="0.85"/>
<line x1="375.10" y1="93.84" x2="376.60" y2="93.84" stroke="#000" stroke-width="0.85"/>
<line x1="637.30" y1="93.84" x2="635.80" y2="93.84" stroke="#000" stroke-width="0.85"/>
<line x1="375.10" y1="91.51" x2="376.60" y2="91.51" stroke="#000" stroke-width="0.85"/>
<line x1="637.30" y1="91.51" x2="635.80" y2="91.51" stroke="#000" stroke-width="0.85"/>
<line x1="375.10" y1="89.44" x2="376.60" y2="89.44" stroke="#000" stroke-width="0.85"/>
<line x1="637.30" y1="89.44" x2="635.80" y2="89.44" stroke="#000" stroke-width="0.85"/>
<line x1="375.10" y1="75.47" x2="376.60" y2="75.47" stroke="#000" stroke-width="0.85"/>
<line x1="637.30" y1="75.47" x2="635.80" y2="75.47" stroke="#000" stroke-width="0.85"/>
<line x1="375.10" y1="68.37" x2="376.60" y2="68.37" stroke="#000" stroke-width="0.85"/>
<line x1="637.30" y1="68.37" x2="635.80" y2="68.37" stroke="#000" stroke-width="0.85"/>
<line x1="375.10" y1="63.34" x2="376.60" y2="63.34" stroke="#000" stroke-width="0.85"/>
<line x1="637.30" y1="63.34" x2="635.80" y2="63.34" stroke="#000" stroke-width="0.85"/>
<line x1="375.10" y1="59.43" x2="376.60" y2="59.43" stroke="#000" stroke-width="0.85"/>
<line x1="637.30" y1="59.43" x2="635.80" y2="59.43" stroke="#000" stroke-width="0.85"/>
<line x1="375.10" y1="56.24" x2="376.60" y2="56.24" stroke="#000" stroke-width="0.85"/>
<line x1="637.30" y1="56.24" x2="635.80" y2="56.24" stroke="#000" stroke-width="0.85"/>
<line x1="375.10" y1="53.54" x2="376.60" y2="53.54" stroke="#000" stroke-width="0.85"/>
<line x1="637.30" y1="53.54" x2="635.80" y2="53.54" stroke="#000" stroke-width="0.85"/>
<line x1="375.10" y1="51.21" x2="376.60" y2="51.21" stroke="#000" stroke-width="0.85"/>
<line x1="637.30" y1="51.21" x2="635.80" y2="51.21" stroke="#000" stroke-width="0.85"/>
<line x1="375.10" y1="49.14" x2="376.60" y2="49.14" stroke="#000" stroke-width="0.85"/>
<line x1="637.30" y1="49.14" x2="635.80" y2="49.14" stroke="#000" stroke-width="0.85"/>
<line x1="375.10" y1="35.17" x2="376.60" y2="35.17" stroke="#000" stroke-width="0.85"/>
<line x1="637.30" y1="35.17" x2="635.80" y2="35.17" stroke="#000" stroke-width="0.85"/>
<line x1="375.10" y1="28.07" x2="376.60" y2="28.07" stroke="#000" stroke-width="0.85"/>
<line x1="637.30" y1="28.07" x2="635.80" y2="28.07" stroke="#000" stroke-width="0.85"/>
<line x1="375.10" y1="23.04" x2="376.60" y2="23.04" stroke="#000" stroke-width="0.85"/>
<line x1="637.30" y1="23.04" x2="635.80" y2="23.04" stroke="#000" stroke-width="0.85"/>
<line x1="375.10" y1="19.13" x2="376.60" y2="19.13" stroke="#000" stroke-width="0.85"/>
<line x1="637.30" y1="19.13" x2="635.80" y2="19.13" stroke="#000" stroke-width="0.85"/>
<line x1="375.10" y1="15.94" x2="376.60" y2="15.94" stroke="#000" stroke-width="0.85"/>
<line x1="637.30" y1="15.94" x2="635.80" y2="15.94" stroke="#000" stroke-width="0.85"/>
<line x1="375.10" y1="13.24" x2="376.60" y2="13.24" stroke="#000" stroke-width="0.85"/>
<line x1="637.30" y1="13.24" x2="635.80" y2="13.24" stroke="#000" stroke-width="0.85"/>
<line x1="375.10" y1="10.91" x2="376.60" y2="10.91" stroke="#000" stroke-width="0.85"/>
<line x1="637.30" y1="10.91" x2="635.80" y2="10.91" stroke="#000" stroke-width="0.85"/>
<line x1="375.10" y1="8.84" x2="376.60" y2="8.84" stroke="#000" stroke-width="0.85"/>
<line x1="637.30" y1="8.84" x2="635.80" y2="8.84" stroke="#000" stroke-width="0.85"/>
<line x1="375.10" y1="7.00" x2="378.00" y2="7.00" stroke="#000" stroke-width="0.85"/>
<line x1="637.30" y1="7.00" x2="634.40" y2="7.00" stroke="#000" stroke-width="0.85"/>
<text x="370.80" y="11.70" font-size="12.6" font-family='"DejaVu Serif","Liberation Serif",serif' text-anchor="end">10<tspan dy="-4.4" dx="0.35" font-size="8.4">3</tspan></text>
<line x1="375.10" y1="47.30" x2="378.00" y2="47.30" stroke="#000" stroke-width="0.85"/>
<line x1="637.30" y1="47.30" x2="634.40" y2="47.30" stroke="#000" stroke-width="0.85"/>
<text x="370.80" y="52.00" font-size="12.6" font-family='"DejaVu Serif","Liberation Serif",serif' text-anchor="end">10<tspan dy="-4.4" dx="0.35" font-size="8.4">2</tspan></text>
<line x1="375.10" y1="87.60" x2="378.00" y2="87.60" stroke="#000" stroke-width="0.85"/>
<line x1="637.30" y1="87.60" x2="634.40" y2="87.60" stroke="#000" stroke-width="0.85"/>
<text x="370.80" y="92.30" font-size="12.6" font-family='"DejaVu Serif","Liberation Serif",serif' text-anchor="end">10<tspan dy="-4.4" dx="0.35" font-size="8.4">1</tspan></text>
<line x1="375.10" y1="127.90" x2="378.00" y2="127.90" stroke="#000" stroke-width="0.85"/>
<line x1="637.30" y1="127.90" x2="634.40" y2="127.90" stroke="#000" stroke-width="0.85"/>
<text x="370.80" y="132.60" font-size="12.6" font-family='"DejaVu Serif","Liberation Serif",serif' text-anchor="end">10<tspan dy="-4.4" dx="0.35" font-size="8.4">0</tspan></text>
<line x1="375.10" y1="168.20" x2="378.00" y2="168.20" stroke="#000" stroke-width="0.85"/>
<line x1="637.30" y1="168.20" x2="634.40" y2="168.20" stroke="#000" stroke-width="0.85"/>
<text x="370.80" y="172.90" font-size="12.6" font-family='"DejaVu Serif","Liberation Serif",serif' text-anchor="end">10<tspan dy="-4.4" dx="0.35" font-size="8.4">−1</tspan></text>
<line x1="375.10" y1="208.50" x2="378.00" y2="208.50" stroke="#000" stroke-width="0.85"/>
<line x1="637.30" y1="208.50" x2="634.40" y2="208.50" stroke="#000" stroke-width="0.85"/>
<text x="370.80" y="213.20" font-size="12.6" font-family='"DejaVu Serif","Liberation Serif",serif' text-anchor="end">10<tspan dy="-4.4" dx="0.35" font-size="8.4">−2</tspan></text>
<text x="506.30" y="249.60" font-size="12.75" font-family='"DejaVu Sans","Liberation Sans",sans-serif' text-anchor="middle" ><tspan font-style="italic">G</tspan><tspan font-style="italic" font-size="9.1" dy="2.9">BP</tspan><tspan dy="-2.9" dx="2.6">−</tspan><tspan font-style="italic" dx="2.6">G</tspan><tspan font-style="italic" font-size="9.1" dy="2.9">RP</tspan></text>
<text transform="translate(335.3,114.6) rotate(-90)" font-size="12.75" font-family='"DejaVu Serif","Liberation Serif",serif' text-anchor="middle">A(Li) [12+log(Li/H)]</text>
<rect x="379.50" y="172.40" width="187.90" height="43.60" rx="2" ry="2" fill="#fff" fill-opacity="0.8" stroke="#ccc" stroke-opacity="0.8" stroke-width="0.8"/>
<circle cx="392.40" cy="180.70" r="2.15" fill="#1f77b4" fill-opacity="0.5"/>
<text x="409.10" y="183.50" font-size="9.15" font-family='"DejaVu Serif","Liberation Serif",serif' text-anchor="start" >Plausibly First-order Resonant</text>
<circle cx="392.40" cy="194.25" r="2.15" fill="#ff7f0e" fill-opacity="0.5"/>
<text x="409.10" y="197.05" font-size="9.15" font-family='"DejaVu Serif","Liberation Serif",serif' text-anchor="start" >Implausibly Resonant</text>
<circle cx="392.40" cy="207.80" r="2.15" fill="#2ca02c" fill-opacity="0.5"/>
<text x="409.10" y="210.60" font-size="9.15" font-family='"DejaVu Serif","Liberation Serif",serif' text-anchor="start" >Plausibly Second-order Resonant</text>
<g clip-path="url(#c3)">
<circle cx="117.8" cy="286.2" r="2.15" fill="#1f77b4" fill-opacity="0.5"/>
<circle cx="159.9" cy="342.9" r="2.15" fill="#1f77b4" fill-opacity="0.5"/>
<circle cx="98.5" cy="362.0" r="2.15" fill="#1f77b4" fill-opacity="0.5"/>
<circle cx="108.3" cy="362.9" r="2.15" fill="#1f77b4" fill-opacity="0.5"/>
<circle cx="145.0" cy="363.9" r="2.15" fill="#1f77b4" fill-opacity="0.5"/>
<circle cx="95.0" cy="373.9" r="2.15" fill="#1f77b4" fill-opacity="0.5"/>
<circle cx="88.5" cy="377.4" r="2.15" fill="#1f77b4" fill-opacity="0.5"/>
<circle cx="92.0" cy="383.6" r="2.15" fill="#1f77b4" fill-opacity="0.5"/>
<circle cx="105.2" cy="387.6" r="2.15" fill="#1f77b4" fill-opacity="0.5"/>
<circle cx="119.7" cy="387.6" r="2.15" fill="#1f77b4" fill-opacity="0.5"/>
<circle cx="97.6" cy="392.4" r="2.15" fill="#1f77b4" fill-opacity="0.5"/>
<circle cx="91.5" cy="395.0" r="2.15" fill="#1f77b4" fill-opacity="0.5"/>
<circle cx="91.5" cy="396.8" r="2.15" fill="#1f77b4" fill-opacity="0.5"/>
<circle cx="124.8" cy="394.1" r="2.15" fill="#1f77b4" fill-opacity="0.5"/>
<circle cx="131.8" cy="392.0" r="2.15" fill="#1f77b4" fill-opacity="0.5"/>
<circle cx="95.0" cy="402.6" r="2.15" fill="#1f77b4" fill-opacity="0.5"/>
<circle cx="121.0" cy="402.6" r="2.15" fill="#1f77b4" fill-opacity="0.5"/>
<circle cx="115.2" cy="414.7" r="2.15" fill="#1f77b4" fill-opacity="0.5"/>
<circle cx="124.1" cy="425.7" r="2.15" fill="#1f77b4" fill-opacity="0.5"/>
<circle cx="135.0" cy="430.6" r="2.15" fill="#1f77b4" fill-opacity="0.5"/>
<circle cx="147.3" cy="439.2" r="2.15" fill="#1f77b4" fill-opacity="0.5"/>
<circle cx="140.8" cy="367.8" r="2.15" fill="#1f77b4" fill-opacity="0.5"/>
<circle cx="130.3" cy="379.2" r="2.15" fill="#1f77b4" fill-opacity="0.5"/>
<circle cx="138.5" cy="375.7" r="2.15" fill="#1f77b4" fill-opacity="0.5"/>
<circle cx="137.3" cy="398.5" r="2.15" fill="#1f77b4" fill-opacity="0.5"/>
<circle cx="140.8" cy="379.7" r="2.15" fill="#1f77b4" fill-opacity="0.5"/>
<circle cx="166.6" cy="335.3" r="2.15" fill="#1f77b4" fill-opacity="0.5"/>
<circle cx="263.7" cy="341.5" r="2.15" fill="#1f77b4" fill-opacity="0.5"/>
<circle cx="238.6" cy="344.6" r="2.15" fill="#1f77b4" fill-opacity="0.5"/>
<circle cx="243.9" cy="341.5" r="2.15" fill="#1f77b4" fill-opacity="0.5"/>
<circle cx="266.3" cy="338.0" r="2.15" fill="#1f77b4" fill-opacity="0.5"/>
<circle cx="167.5" cy="355.0" r="2.15" fill="#1f77b4" fill-opacity="0.5"/>
<circle cx="182.4" cy="355.9" r="2.15" fill="#1f77b4" fill-opacity="0.5"/>
<circle cx="213.5" cy="355.9" r="2.15" fill="#1f77b4" fill-opacity="0.5"/>
<circle cx="221.6" cy="358.5" r="2.15" fill="#1f77b4" fill-opacity="0.5"/>
<circle cx="205.2" cy="363.1" r="2.15" fill="#1f77b4" fill-opacity="0.5"/>
<circle cx="195.2" cy="366.0" r="2.15" fill="#1f77b4" fill-opacity="0.5"/>
<circle cx="195.2" cy="366.0" r="2.15" fill="#1f77b4" fill-opacity="0.5"/>
<circle cx="201.7" cy="366.9" r="2.15" fill="#1f77b4" fill-opacity="0.5"/>
<circle cx="177.7" cy="372.7" r="2.15" fill="#1f77b4" fill-opacity="0.5"/>
<circle cx="198.2" cy="374.5" r="2.15" fill="#1f77b4" fill-opacity="0.5"/>
<circle cx="175.9" cy="388.5" r="2.15" fill="#1f77b4" fill-opacity="0.5"/>
<circle cx="177.2" cy="378.3" r="2.15" fill="#1f77b4" fill-opacity="0.5"/>
<circle cx="149.9" cy="339.4" r="2.15" fill="#ff7f0e" fill-opacity="0.5"/>
<circle cx="159.6" cy="339.4" r="2.15" fill="#ff7f0e" fill-opacity="0.5"/>
<circle cx="146.8" cy="343.8" r="2.15" fill="#ff7f0e" fill-opacity="0.5"/>
<circle cx="141.5" cy="346.8" r="2.15" fill="#ff7f0e" fill-opacity="0.5"/>
<circle cx="148.5" cy="348.0" r="2.15" fill="#ff7f0e" fill-opacity="0.5"/>
<circle cx="159.6" cy="343.2" r="2.15" fill="#ff7f0e" fill-opacity="0.5"/>
<circle cx="161.3" cy="345.4" r="2.15" fill="#ff7f0e" fill-opacity="0.5"/>
<circle cx="161.0" cy="353.8" r="2.15" fill="#ff7f0e" fill-opacity="0.5"/>
<circle cx="148.7" cy="356.4" r="2.15" fill="#ff7f0e" fill-opacity="0.5"/>
<circle cx="145.5" cy="358.7" r="2.15" fill="#ff7f0e" fill-opacity="0.5"/>
<circle cx="158.7" cy="357.3" r="2.15" fill="#ff7f0e" fill-opacity="0.5"/>
<circle cx="132.7" cy="359.4" r="2.15" fill="#ff7f0e" fill-opacity="0.5"/>
<circle cx="128.5" cy="360.2" r="2.15" fill="#ff7f0e" fill-opacity="0.5"/>
<circle cx="137.1" cy="361.1" r="2.15" fill="#ff7f0e" fill-opacity="0.5"/>
<circle cx="133.2" cy="362.5" r="2.15" fill="#ff7f0e" fill-opacity="0.5"/>
<circle cx="128.8" cy="364.6" r="2.15" fill="#ff7f0e" fill-opacity="0.5"/>
<circle cx="117.4" cy="364.6" r="2.15" fill="#ff7f0e" fill-opacity="0.5"/>
<circle cx="139.4" cy="365.2" r="2.15" fill="#ff7f0e" fill-opacity="0.5"/>
<circle cx="141.7" cy="368.7" r="2.15" fill="#ff7f0e" fill-opacity="0.5"/>
<circle cx="157.8" cy="361.7" r="2.15" fill="#ff7f0e" fill-opacity="0.5"/>
<circle cx="153.1" cy="362.0" r="2.15" fill="#ff7f0e" fill-opacity="0.5"/>
<circle cx="161.7" cy="361.7" r="2.15" fill="#ff7f0e" fill-opacity="0.5"/>
<circle cx="131.0" cy="368.3" r="2.15" fill="#ff7f0e" fill-opacity="0.5"/>
<circle cx="116.2" cy="370.4" r="2.15" fill="#ff7f0e" fill-opacity="0.5"/>
<circle cx="123.2" cy="371.7" r="2.15" fill="#ff7f0e" fill-opacity="0.5"/>
<circle cx="127.1" cy="373.1" r="2.15" fill="#ff7f0e" fill-opacity="0.5"/>
<circle cx="112.2" cy="373.1" r="2.15" fill="#ff7f0e" fill-opacity="0.5"/>
<circle cx="109.2" cy="374.3" r="2.15" fill="#ff7f0e" fill-opacity="0.5"/>
<circle cx="102.2" cy="376.2" r="2.15" fill="#ff7f0e" fill-opacity="0.5"/>
<circle cx="85.8" cy="376.6" r="2.15" fill="#ff7f0e" fill-opacity="0.5"/>
<circle cx="85.8" cy="380.1" r="2.15" fill="#ff7f0e" fill-opacity="0.5"/>
<circle cx="85.5" cy="383.6" r="2.15" fill="#ff7f0e" fill-opacity="0.5"/>
<circle cx="89.3" cy="382.7" r="2.15" fill="#ff7f0e" fill-opacity="0.5"/>
<circle cx="95.5" cy="382.7" r="2.15" fill="#ff7f0e" fill-opacity="0.5"/>
<circle cx="79.2" cy="389.2" r="2.15" fill="#ff7f0e" fill-opacity="0.5"/>
<circle cx="96.4" cy="385.4" r="2.15" fill="#ff7f0e" fill-opacity="0.5"/>
<circle cx="99.5" cy="387.1" r="2.15" fill="#ff7f0e" fill-opacity="0.5"/>
<circle cx="101.3" cy="388.3" r="2.15" fill="#ff7f0e" fill-opacity="0.5"/>
<circle cx="112.2" cy="376.6" r="2.15" fill="#ff7f0e" fill-opacity="0.5"/>
<circle cx="112.5" cy="379.2" r="2.15" fill="#ff7f0e" fill-opacity="0.5"/>
<circle cx="111.3" cy="381.8" r="2.15" fill="#ff7f0e" fill-opacity="0.5"/>
<circle cx="111.8" cy="386.2" r="2.15" fill="#ff7f0e" fill-opacity="0.5"/>
<circle cx="119.2" cy="378.3" r="2.15" fill="#ff7f0e" fill-opacity="0.5"/>
<circle cx="123.6" cy="377.4" r="2.15" fill="#ff7f0e" fill-opacity="0.5"/>
<circle cx="122.4" cy="381.0" r="2.15" fill="#ff7f0e" fill-opacity="0.5"/>
<circle cx="121.0" cy="384.5" r="2.15" fill="#ff7f0e" fill-opacity="0.5"/>
<circle cx="123.2" cy="386.2" r="2.15" fill="#ff7f0e" fill-opacity="0.5"/>
<circle cx="127.1" cy="381.8" r="2.15" fill="#ff7f0e" fill-opacity="0.5"/>
<circle cx="134.7" cy="379.2" r="2.15" fill="#ff7f0e" fill-opacity="0.5"/>
<circle cx="138.2" cy="382.7" r="2.15" fill="#ff7f0e" fill-opacity="0.5"/>
<circle cx="131.8" cy="385.4" r="2.15" fill="#ff7f0e" fill-opacity="0.5"/>
<circle cx="132.4" cy="388.9" r="2.15" fill="#ff7f0e" fill-opacity="0.5"/>
<circle cx="135.9" cy="388.9" r="2.15" fill="#ff7f0e" fill-opacity="0.5"/>
<circle cx="135.0" cy="392.0" r="2.15" fill="#ff7f0e" fill-opacity="0.5"/>
<circle cx="145.5" cy="384.5" r="2.15" fill="#ff7f0e" fill-opacity="0.5"/>
<circle cx="152.2" cy="382.7" r="2.15" fill="#ff7f0e" fill-opacity="0.5"/>
<circle cx="151.7" cy="373.9" r="2.15" fill="#ff7f0e" fill-opacity="0.5"/>
<circle cx="147.3" cy="374.8" r="2.15" fill="#ff7f0e" fill-opacity="0.5"/>
<circle cx="143.8" cy="372.2" r="2.15" fill="#ff7f0e" fill-opacity="0.5"/>
<circle cx="156.6" cy="378.9" r="2.15" fill="#ff7f0e" fill-opacity="0.5"/>
<circle cx="159.6" cy="380.1" r="2.15" fill="#ff7f0e" fill-opacity="0.5"/>
<circle cx="161.3" cy="384.5" r="2.15" fill="#ff7f0e" fill-opacity="0.5"/>
<circle cx="149.9" cy="388.0" r="2.15" fill="#ff7f0e" fill-opacity="0.5"/>
<circle cx="156.1" cy="389.7" r="2.15" fill="#ff7f0e" fill-opacity="0.5"/>
<circle cx="147.8" cy="390.6" r="2.15" fill="#ff7f0e" fill-opacity="0.5"/>
<circle cx="154.3" cy="394.1" r="2.15" fill="#ff7f0e" fill-opacity="0.5"/>
<circle cx="154.3" cy="394.1" r="2.15" fill="#ff7f0e" fill-opacity="0.5"/>
<circle cx="144.3" cy="394.7" r="2.15" fill="#ff7f0e" fill-opacity="0.5"/>
<circle cx="144.1" cy="396.8" r="2.15" fill="#ff7f0e" fill-opacity="0.5"/>
<circle cx="133.2" cy="393.8" r="2.15" fill="#ff7f0e" fill-opacity="0.5"/>
<circle cx="125.0" cy="391.5" r="2.15" fill="#ff7f0e" fill-opacity="0.5"/>
<circle cx="119.2" cy="393.2" r="2.15" fill="#ff7f0e" fill-opacity="0.5"/>
<circle cx="122.4" cy="396.8" r="2.15" fill="#ff7f0e" fill-opacity="0.5"/>
<circle cx="112.5" cy="390.3" r="2.15" fill="#ff7f0e" fill-opacity="0.5"/>
<circle cx="111.3" cy="393.2" r="2.15" fill="#ff7f0e" fill-opacity="0.5"/>
<circle cx="102.9" cy="394.1" r="2.15" fill="#ff7f0e" fill-opacity="0.5"/>
<circle cx="107.8" cy="396.8" r="2.15" fill="#ff7f0e" fill-opacity="0.5"/>
<circle cx="100.4" cy="397.6" r="2.15" fill="#ff7f0e" fill-opacity="0.5"/>
<circle cx="100.4" cy="397.6" r="2.15" fill="#ff7f0e" fill-opacity="0.5"/>
<circle cx="106.0" cy="400.3" r="2.15" fill="#ff7f0e" fill-opacity="0.5"/>
<circle cx="122.7" cy="402.6" r="2.15" fill="#ff7f0e" fill-opacity="0.5"/>
<circle cx="130.6" cy="402.0" r="2.15" fill="#ff7f0e" fill-opacity="0.5"/>
<circle cx="134.1" cy="402.0" r="2.15" fill="#ff7f0e" fill-opacity="0.5"/>
<circle cx="136.8" cy="401.7" r="2.15" fill="#ff7f0e" fill-opacity="0.5"/>
<circle cx="142.9" cy="402.9" r="2.15" fill="#ff7f0e" fill-opacity="0.5"/>
<circle cx="148.2" cy="400.3" r="2.15" fill="#ff7f0e" fill-opacity="0.5"/>
<circle cx="151.7" cy="400.3" r="2.15" fill="#ff7f0e" fill-opacity="0.5"/>
<circle cx="162.7" cy="398.5" r="2.15" fill="#ff7f0e" fill-opacity="0.5"/>
<circle cx="95.0" cy="409.1" r="2.15" fill="#ff7f0e" fill-opacity="0.5"/>
<circle cx="105.7" cy="408.5" r="2.15" fill="#ff7f0e" fill-opacity="0.5"/>
<circle cx="118.3" cy="406.9" r="2.15" fill="#ff7f0e" fill-opacity="0.5"/>
<circle cx="122.4" cy="409.1" r="2.15" fill="#ff7f0e" fill-opacity="0.5"/>
<circle cx="141.5" cy="407.3" r="2.15" fill="#ff7f0e" fill-opacity="0.5"/>
<circle cx="147.6" cy="407.3" r="2.15" fill="#ff7f0e" fill-opacity="0.5"/>
<circle cx="159.6" cy="407.3" r="2.15" fill="#ff7f0e" fill-opacity="0.5"/>
<circle cx="161.9" cy="410.5" r="2.15" fill="#ff7f0e" fill-opacity="0.5"/>
<circle cx="124.1" cy="413.4" r="2.15" fill="#ff7f0e" fill-opacity="0.5"/>
<circle cx="128.5" cy="416.1" r="2.15" fill="#ff7f0e" fill-opacity="0.5"/>
<circle cx="128.5" cy="416.1" r="2.15" fill="#ff7f0e" fill-opacity="0.5"/>
<circle cx="138.9" cy="418.7" r="2.15" fill="#ff7f0e" fill-opacity="0.5"/>
<circle cx="67.9" cy="432.2" r="2.15" fill="#ff7f0e" fill-opacity="0.5"/>
<circle cx="135.9" cy="431.4" r="2.15" fill="#ff7f0e" fill-opacity="0.5"/>
<circle cx="149.6" cy="431.0" r="2.15" fill="#ff7f0e" fill-opacity="0.5"/>
<circle cx="129.2" cy="438.0" r="2.15" fill="#ff7f0e" fill-opacity="0.5"/>
<circle cx="144.7" cy="441.9" r="2.15" fill="#ff7f0e" fill-opacity="0.5"/>
<circle cx="131.0" cy="443.9" r="2.15" fill="#ff7f0e" fill-opacity="0.5"/>
<circle cx="189.8" cy="317.3" r="2.15" fill="#ff7f0e" fill-opacity="0.5"/>
<circle cx="235.1" cy="320.4" r="2.15" fill="#ff7f0e" fill-opacity="0.5"/>
<circle cx="168.7" cy="325.3" r="2.15" fill="#ff7f0e" fill-opacity="0.5"/>
<circle cx="211.1" cy="330.9" r="2.15" fill="#ff7f0e" fill-opacity="0.5"/>
<circle cx="250.0" cy="326.6" r="2.15" fill="#ff7f0e" fill-opacity="0.5"/>
<circle cx="242.1" cy="332.7" r="2.15" fill="#ff7f0e" fill-opacity="0.5"/>
<circle cx="198.6" cy="335.0" r="2.15" fill="#ff7f0e" fill-opacity="0.5"/>
<circle cx="218.9" cy="333.2" r="2.15" fill="#ff7f0e" fill-opacity="0.5"/>
<circle cx="221.6" cy="335.3" r="2.15" fill="#ff7f0e" fill-opacity="0.5"/>
<circle cx="210.5" cy="337.6" r="2.15" fill="#ff7f0e" fill-opacity="0.5"/>
<circle cx="240.9" cy="337.6" r="2.15" fill="#ff7f0e" fill-opacity="0.5"/>
<circle cx="252.3" cy="335.0" r="2.15" fill="#ff7f0e" fill-opacity="0.5"/>
<circle cx="168.4" cy="340.6" r="2.15" fill="#ff7f0e" fill-opacity="0.5"/>
<circle cx="178.9" cy="342.9" r="2.15" fill="#ff7f0e" fill-opacity="0.5"/>
<circle cx="221.1" cy="343.6" r="2.15" fill="#ff7f0e" fill-opacity="0.5"/>
<circle cx="211.8" cy="347.1" r="2.15" fill="#ff7f0e" fill-opacity="0.5"/>
<circle cx="250.0" cy="345.0" r="2.15" fill="#ff7f0e" fill-opacity="0.5"/>
<circle cx="259.3" cy="344.5" r="2.15" fill="#ff7f0e" fill-opacity="0.5"/>
<circle cx="165.8" cy="348.5" r="2.15" fill="#ff7f0e" fill-opacity="0.5"/>
<circle cx="165.8" cy="348.5" r="2.15" fill="#ff7f0e" fill-opacity="0.5"/>
<circle cx="174.9" cy="350.3" r="2.15" fill="#ff7f0e" fill-opacity="0.5"/>
<circle cx="183.7" cy="351.1" r="2.15" fill="#ff7f0e" fill-opacity="0.5"/>
<circle cx="186.5" cy="351.5" r="2.15" fill="#ff7f0e" fill-opacity="0.5"/>
<circle cx="194.7" cy="349.9" r="2.15" fill="#ff7f0e" fill-opacity="0.5"/>
<circle cx="227.2" cy="348.5" r="2.15" fill="#ff7f0e" fill-opacity="0.5"/>
<circle cx="233.3" cy="348.0" r="2.15" fill="#ff7f0e" fill-opacity="0.5"/>
<circle cx="237.4" cy="347.6" r="2.15" fill="#ff7f0e" fill-opacity="0.5"/>
<circle cx="241.8" cy="351.5" r="2.15" fill="#ff7f0e" fill-opacity="0.5"/>
<circle cx="185.9" cy="356.4" r="2.15" fill="#ff7f0e" fill-opacity="0.5"/>
<circle cx="175.4" cy="356.4" r="2.15" fill="#ff7f0e" fill-opacity="0.5"/>
<circle cx="189.4" cy="356.9" r="2.15" fill="#ff7f0e" fill-opacity="0.5"/>
<circle cx="228.1" cy="354.1" r="2.15" fill="#ff7f0e" fill-opacity="0.5"/>
<circle cx="230.4" cy="355.9" r="2.15" fill="#ff7f0e" fill-opacity="0.5"/>
<circle cx="239.0" cy="354.6" r="2.15" fill="#ff7f0e" fill-opacity="0.5"/>
<circle cx="200.9" cy="356.7" r="2.15" fill="#ff7f0e" fill-opacity="0.5"/>
<circle cx="204.0" cy="357.8" r="2.15" fill="#ff7f0e" fill-opacity="0.5"/>
<circle cx="196.1" cy="359.0" r="2.15" fill="#ff7f0e" fill-opacity="0.5"/>
<circle cx="207.0" cy="359.6" r="2.15" fill="#ff7f0e" fill-opacity="0.5"/>
<circle cx="175.4" cy="360.8" r="2.15" fill="#ff7f0e" fill-opacity="0.5"/>
<circle cx="197.3" cy="362.0" r="2.15" fill="#ff7f0e" fill-opacity="0.5"/>
<circle cx="212.3" cy="361.7" r="2.15" fill="#ff7f0e" fill-opacity="0.5"/>
<circle cx="239.1" cy="360.8" r="2.15" fill="#ff7f0e" fill-opacity="0.5"/>
<circle cx="255.6" cy="361.1" r="2.15" fill="#ff7f0e" fill-opacity="0.5"/>
<circle cx="267.2" cy="358.5" r="2.15" fill="#ff7f0e" fill-opacity="0.5"/>
<circle cx="166.6" cy="362.9" r="2.15" fill="#ff7f0e" fill-opacity="0.5"/>
<circle cx="181.6" cy="365.2" r="2.15" fill="#ff7f0e" fill-opacity="0.5"/>
<circle cx="186.5" cy="360.8" r="2.15" fill="#ff7f0e" fill-opacity="0.5"/>
<circle cx="208.4" cy="363.9" r="2.15" fill="#ff7f0e" fill-opacity="0.5"/>
<circle cx="212.8" cy="364.6" r="2.15" fill="#ff7f0e" fill-opacity="0.5"/>
<circle cx="181.6" cy="368.7" r="2.15" fill="#ff7f0e" fill-opacity="0.5"/>
<circle cx="171.0" cy="369.6" r="2.15" fill="#ff7f0e" fill-opacity="0.5"/>
<circle cx="199.1" cy="367.4" r="2.15" fill="#ff7f0e" fill-opacity="0.5"/>
<circle cx="199.1" cy="367.4" r="2.15" fill="#ff7f0e" fill-opacity="0.5"/>
<circle cx="209.3" cy="368.3" r="2.15" fill="#ff7f0e" fill-opacity="0.5"/>
<circle cx="239.5" cy="366.0" r="2.15" fill="#ff7f0e" fill-opacity="0.5"/>
<circle cx="239.5" cy="366.0" r="2.15" fill="#ff7f0e" fill-opacity="0.5"/>
<circle cx="242.7" cy="364.8" r="2.15" fill="#ff7f0e" fill-opacity="0.5"/>
<circle cx="245.6" cy="367.4" r="2.15" fill="#ff7f0e" fill-opacity="0.5"/>
<circle cx="233.3" cy="369.2" r="2.15" fill="#ff7f0e" fill-opacity="0.5"/>
<circle cx="228.6" cy="370.4" r="2.15" fill="#ff7f0e" fill-opacity="0.5"/>
<circle cx="250.4" cy="370.4" r="2.15" fill="#ff7f0e" fill-opacity="0.5"/>
<circle cx="165.4" cy="373.1" r="2.15" fill="#ff7f0e" fill-opacity="0.5"/>
<circle cx="186.8" cy="372.5" r="2.15" fill="#ff7f0e" fill-opacity="0.5"/>
<circle cx="189.1" cy="374.3" r="2.15" fill="#ff7f0e" fill-opacity="0.5"/>
<circle cx="196.1" cy="373.6" r="2.15" fill="#ff7f0e" fill-opacity="0.5"/>
<circle cx="200.9" cy="372.7" r="2.15" fill="#ff7f0e" fill-opacity="0.5"/>
<circle cx="203.5" cy="371.7" r="2.15" fill="#ff7f0e" fill-opacity="0.5"/>
<circle cx="219.8" cy="372.5" r="2.15" fill="#ff7f0e" fill-opacity="0.5"/>
<circle cx="172.8" cy="375.4" r="2.15" fill="#ff7f0e" fill-opacity="0.5"/>
<circle cx="191.2" cy="378.0" r="2.15" fill="#ff7f0e" fill-opacity="0.5"/>
<circle cx="193.0" cy="380.1" r="2.15" fill="#ff7f0e" fill-opacity="0.5"/>
<circle cx="196.1" cy="380.4" r="2.15" fill="#ff7f0e" fill-opacity="0.5"/>
<circle cx="214.9" cy="379.2" r="2.15" fill="#ff7f0e" fill-opacity="0.5"/>
<circle cx="241.2" cy="378.7" r="2.15" fill="#ff7f0e" fill-opacity="0.5"/>
<circle cx="165.4" cy="380.4" r="2.15" fill="#ff7f0e" fill-opacity="0.5"/>
<circle cx="180.7" cy="382.2" r="2.15" fill="#ff7f0e" fill-opacity="0.5"/>
<circle cx="176.3" cy="381.8" r="2.15" fill="#ff7f0e" fill-opacity="0.5"/>
<circle cx="173.7" cy="383.9" r="2.15" fill="#ff7f0e" fill-opacity="0.5"/>
<circle cx="207.9" cy="382.4" r="2.15" fill="#ff7f0e" fill-opacity="0.5"/>
<circle cx="235.6" cy="384.8" r="2.15" fill="#ff7f0e" fill-opacity="0.5"/>
<circle cx="171.0" cy="388.0" r="2.15" fill="#ff7f0e" fill-opacity="0.5"/>
<circle cx="194.7" cy="387.5" r="2.15" fill="#ff7f0e" fill-opacity="0.5"/>
<circle cx="171.0" cy="390.3" r="2.15" fill="#ff7f0e" fill-opacity="0.5"/>
<circle cx="175.9" cy="391.0" r="2.15" fill="#ff7f0e" fill-opacity="0.5"/>
<circle cx="175.9" cy="391.0" r="2.15" fill="#ff7f0e" fill-opacity="0.5"/>
<circle cx="178.9" cy="390.6" r="2.15" fill="#ff7f0e" fill-opacity="0.5"/>
<circle cx="184.2" cy="390.3" r="2.15" fill="#ff7f0e" fill-opacity="0.5"/>
<circle cx="172.8" cy="392.0" r="2.15" fill="#ff7f0e" fill-opacity="0.5"/>
<circle cx="179.4" cy="394.1" r="2.15" fill="#ff7f0e" fill-opacity="0.5"/>
<circle cx="223.3" cy="390.3" r="2.15" fill="#ff7f0e" fill-opacity="0.5"/>
<circle cx="208.4" cy="392.9" r="2.15" fill="#ff7f0e" fill-opacity="0.5"/>
<circle cx="212.8" cy="394.1" r="2.15" fill="#ff7f0e" fill-opacity="0.5"/>
<circle cx="164.9" cy="392.7" r="2.15" fill="#ff7f0e" fill-opacity="0.5"/>
<circle cx="252.7" cy="398.0" r="2.15" fill="#ff7f0e" fill-opacity="0.5"/>
<circle cx="164.0" cy="398.5" r="2.15" fill="#ff7f0e" fill-opacity="0.5"/>
<circle cx="184.5" cy="402.4" r="2.15" fill="#ff7f0e" fill-opacity="0.5"/>
<circle cx="177.7" cy="407.3" r="2.15" fill="#ff7f0e" fill-opacity="0.5"/>
<circle cx="200.5" cy="407.8" r="2.15" fill="#ff7f0e" fill-opacity="0.5"/>
<circle cx="171.6" cy="412.2" r="2.15" fill="#ff7f0e" fill-opacity="0.5"/>
<circle cx="164.5" cy="417.8" r="2.15" fill="#ff7f0e" fill-opacity="0.5"/>
<circle cx="262.3" cy="430.6" r="2.15" fill="#ff7f0e" fill-opacity="0.5"/>
<circle cx="167.9" cy="467.6" r="2.15" fill="#ff7f0e" fill-opacity="0.5"/>
<circle cx="292.6" cy="338.9" r="2.15" fill="#ff7f0e" fill-opacity="0.5"/>
<circle cx="290.0" cy="347.3" r="2.15" fill="#ff7f0e" fill-opacity="0.5"/>
<circle cx="290.0" cy="350.9" r="2.15" fill="#ff7f0e" fill-opacity="0.5"/>
<circle cx="303.8" cy="347.1" r="2.15" fill="#ff7f0e" fill-opacity="0.5"/>
<circle cx="281.8" cy="363.8" r="2.15" fill="#ff7f0e" fill-opacity="0.5"/>
<circle cx="272.9" cy="367.7" r="2.15" fill="#ff7f0e" fill-opacity="0.5"/>
<circle cx="275.2" cy="379.4" r="2.15" fill="#ff7f0e" fill-opacity="0.5"/>
<circle cx="283.9" cy="380.6" r="2.15" fill="#ff7f0e" fill-opacity="0.5"/>
<circle cx="276.9" cy="388.6" r="2.15" fill="#ff7f0e" fill-opacity="0.5"/>
<circle cx="174.9" cy="272.3" r="2.15" fill="#ff7f0e" fill-opacity="0.5"/>
<circle cx="112.2" cy="377.2" r="2.15" fill="#ff7f0e" fill-opacity="0.5"/>
<circle cx="111.0" cy="382.2" r="2.15" fill="#ff7f0e" fill-opacity="0.5"/>
<circle cx="111.6" cy="383.5" r="2.15" fill="#ff7f0e" fill-opacity="0.5"/>
<circle cx="112.8" cy="385.4" r="2.15" fill="#ff7f0e" fill-opacity="0.5"/>
<circle cx="99.7" cy="379.7" r="2.15" fill="#ff7f0e" fill-opacity="0.5"/>
<circle cx="92.2" cy="384.1" r="2.15" fill="#ff7f0e" fill-opacity="0.5"/>
<circle cx="105.3" cy="374.7" r="2.15" fill="#ff7f0e" fill-opacity="0.5"/>
<circle cx="117.9" cy="364.7" r="2.15" fill="#ff7f0e" fill-opacity="0.5"/>
<circle cx="130.4" cy="362.1" r="2.15" fill="#ff7f0e" fill-opacity="0.5"/>
<circle cx="127.9" cy="360.3" r="2.15" fill="#ff7f0e" fill-opacity="0.5"/>
<circle cx="139.8" cy="365.9" r="2.15" fill="#ff7f0e" fill-opacity="0.5"/>
<circle cx="140.4" cy="367.2" r="2.15" fill="#ff7f0e" fill-opacity="0.5"/>
<circle cx="130.4" cy="379.1" r="2.15" fill="#ff7f0e" fill-opacity="0.5"/>
<circle cx="126.6" cy="372.8" r="2.15" fill="#ff7f0e" fill-opacity="0.5"/>
<circle cx="121.6" cy="382.8" r="2.15" fill="#ff7f0e" fill-opacity="0.5"/>
<circle cx="134.8" cy="401.6" r="2.15" fill="#ff7f0e" fill-opacity="0.5"/>
<circle cx="135.4" cy="402.3" r="2.15" fill="#ff7f0e" fill-opacity="0.5"/>
<circle cx="144.2" cy="394.8" r="2.15" fill="#ff7f0e" fill-opacity="0.5"/>
<circle cx="151.7" cy="377.8" r="2.15" fill="#ff7f0e" fill-opacity="0.5"/>
<circle cx="141.1" cy="379.1" r="2.15" fill="#ff7f0e" fill-opacity="0.5"/>
<circle cx="134.2" cy="390.4" r="2.15" fill="#ff7f0e" fill-opacity="0.5"/>
<circle cx="131.7" cy="387.2" r="2.15" fill="#ff7f0e" fill-opacity="0.5"/>
<circle cx="121.6" cy="379.1" r="2.15" fill="#ff7f0e" fill-opacity="0.5"/>
<circle cx="179.5" cy="351.9" r="2.15" fill="#ff7f0e" fill-opacity="0.5"/>
<circle cx="175.1" cy="356.6" r="2.15" fill="#ff7f0e" fill-opacity="0.5"/>
<circle cx="182.0" cy="367.0" r="2.15" fill="#ff7f0e" fill-opacity="0.5"/>
<circle cx="160.7" cy="352.5" r="2.15" fill="#ff7f0e" fill-opacity="0.5"/>
<circle cx="177.0" cy="361.3" r="2.15" fill="#ff7f0e" fill-opacity="0.5"/>
<circle cx="205.2" cy="363.2" r="2.15" fill="#ff7f0e" fill-opacity="0.5"/>
<circle cx="163.8" cy="372.6" r="2.15" fill="#ff7f0e" fill-opacity="0.5"/>
<circle cx="139.4" cy="355.9" r="2.15" fill="#2ca02c" fill-opacity="0.5"/>
<circle cx="105.7" cy="374.8" r="2.15" fill="#2ca02c" fill-opacity="0.5"/>
<circle cx="92.9" cy="377.4" r="2.15" fill="#2ca02c" fill-opacity="0.5"/>
<circle cx="99.5" cy="380.1" r="2.15" fill="#2ca02c" fill-opacity="0.5"/>
<circle cx="138.5" cy="375.7" r="2.15" fill="#2ca02c" fill-opacity="0.5"/>
<circle cx="150.8" cy="378.3" r="2.15" fill="#2ca02c" fill-opacity="0.5"/>
<circle cx="140.8" cy="379.7" r="2.15" fill="#2ca02c" fill-opacity="0.5"/>
<circle cx="113.4" cy="384.1" r="2.15" fill="#2ca02c" fill-opacity="0.5"/>
<circle cx="116.6" cy="387.6" r="2.15" fill="#2ca02c" fill-opacity="0.5"/>
<circle cx="110.1" cy="389.4" r="2.15" fill="#2ca02c" fill-opacity="0.5"/>
<circle cx="94.3" cy="389.7" r="2.15" fill="#2ca02c" fill-opacity="0.5"/>
<circle cx="106.6" cy="393.2" r="2.15" fill="#2ca02c" fill-opacity="0.5"/>
<circle cx="64.8" cy="392.4" r="2.15" fill="#2ca02c" fill-opacity="0.5"/>
<circle cx="157.3" cy="385.4" r="2.15" fill="#2ca02c" fill-opacity="0.5"/>
<circle cx="137.3" cy="398.5" r="2.15" fill="#2ca02c" fill-opacity="0.5"/>
<circle cx="131.5" cy="407.3" r="2.15" fill="#2ca02c" fill-opacity="0.5"/>
<circle cx="222.8" cy="329.6" r="2.15" fill="#2ca02c" fill-opacity="0.5"/>
<circle cx="243.9" cy="341.5" r="2.15" fill="#2ca02c" fill-opacity="0.5"/>
<circle cx="266.3" cy="338.0" r="2.15" fill="#2ca02c" fill-opacity="0.5"/>
<circle cx="240.0" cy="343.2" r="2.15" fill="#2ca02c" fill-opacity="0.5"/>
<circle cx="179.4" cy="351.5" r="2.15" fill="#2ca02c" fill-opacity="0.5"/>
<circle cx="167.5" cy="355.0" r="2.15" fill="#2ca02c" fill-opacity="0.5"/>
<circle cx="182.4" cy="355.9" r="2.15" fill="#2ca02c" fill-opacity="0.5"/>
<circle cx="185.9" cy="356.4" r="2.15" fill="#2ca02c" fill-opacity="0.5"/>
<circle cx="267.6" cy="362.0" r="2.15" fill="#2ca02c" fill-opacity="0.5"/>
<circle cx="169.8" cy="367.8" r="2.15" fill="#2ca02c" fill-opacity="0.5"/>
<circle cx="173.7" cy="374.8" r="2.15" fill="#2ca02c" fill-opacity="0.5"/>
<circle cx="177.2" cy="378.3" r="2.15" fill="#2ca02c" fill-opacity="0.5"/>
<circle cx="168.9" cy="379.7" r="2.15" fill="#2ca02c" fill-opacity="0.5"/>
<circle cx="174.9" cy="396.8" r="2.15" fill="#2ca02c" fill-opacity="0.5"/>
<circle cx="178.9" cy="411.7" r="2.15" fill="#2ca02c" fill-opacity="0.5"/>
<circle cx="181.0" cy="420.1" r="2.15" fill="#2ca02c" fill-opacity="0.5"/>
<circle cx="179.4" cy="352.0" r="2.15" fill="#2ca02c" fill-opacity="0.5"/>
<circle cx="285.1" cy="326.7" r="2.15" fill="#2ca02c" fill-opacity="0.5"/>
</g>
<rect x="53.10" y="263.60" width="262.90" height="213.60" fill="none" stroke="#2a2a2a" stroke-width="1.2"/>
<line x1="78.95" y1="477.20" x2="78.95" y2="475.70" stroke="#000" stroke-width="0.85"/>
<line x1="78.95" y1="263.60" x2="78.95" y2="265.10" stroke="#000" stroke-width="0.85"/>
<line x1="95.30" y1="477.20" x2="95.30" y2="475.70" stroke="#000" stroke-width="0.85"/>
<line x1="95.30" y1="263.60" x2="95.30" y2="265.10" stroke="#000" stroke-width="0.85"/>
<line x1="111.65" y1="477.20" x2="111.65" y2="475.70" stroke="#000" stroke-width="0.85"/>
<line x1="111.65" y1="263.60" x2="111.65" y2="265.10" stroke="#000" stroke-width="0.85"/>
<line x1="144.35" y1="477.20" x2="144.35" y2="475.70" stroke="#000" stroke-width="0.85"/>
<line x1="144.35" y1="263.60" x2="144.35" y2="265.10" stroke="#000" stroke-width="0.85"/>
<line x1="160.70" y1="477.20" x2="160.70" y2="475.70" stroke="#000" stroke-width="0.85"/>
<line x1="160.70" y1="263.60" x2="160.70" y2="265.10" stroke="#000" stroke-width="0.85"/>
<line x1="177.05" y1="477.20" x2="177.05" y2="475.70" stroke="#000" stroke-width="0.85"/>
<line x1="177.05" y1="263.60" x2="177.05" y2="265.10" stroke="#000" stroke-width="0.85"/>
<line x1="209.75" y1="477.20" x2="209.75" y2="475.70" stroke="#000" stroke-width="0.85"/>
<line x1="209.75" y1="263.60" x2="209.75" y2="265.10" stroke="#000" stroke-width="0.85"/>
<line x1="226.10" y1="477.20" x2="226.10" y2="475.70" stroke="#000" stroke-width="0.85"/>
<line x1="226.10" y1="263.60" x2="226.10" y2="265.10" stroke="#000" stroke-width="0.85"/>
<line x1="242.45" y1="477.20" x2="242.45" y2="475.70" stroke="#000" stroke-width="0.85"/>
<line x1="242.45" y1="263.60" x2="242.45" y2="265.10" stroke="#000" stroke-width="0.85"/>
<line x1="275.15" y1="477.20" x2="275.15" y2="475.70" stroke="#000" stroke-width="0.85"/>
<line x1="275.15" y1="263.60" x2="275.15" y2="265.10" stroke="#000" stroke-width="0.85"/>
<line x1="291.50" y1="477.20" x2="291.50" y2="475.70" stroke="#000" stroke-width="0.85"/>
<line x1="291.50" y1="263.60" x2="291.50" y2="265.10" stroke="#000" stroke-width="0.85"/>
<line x1="307.85" y1="477.20" x2="307.85" y2="475.70" stroke="#000" stroke-width="0.85"/>
<line x1="307.85" y1="263.60" x2="307.85" y2="265.10" stroke="#000" stroke-width="0.85"/>
<line x1="62.60" y1="477.20" x2="62.60" y2="474.30" stroke="#000" stroke-width="0.85"/>
<line x1="62.60" y1="263.60" x2="62.60" y2="266.50" stroke="#000" stroke-width="0.85"/>
<text x="62.60" y="491.00" font-size="12.6" font-family='"DejaVu Serif","Liberation Serif",serif' text-anchor="middle" >0.6</text>
<line x1="128.00" y1="477.20" x2="128.00" y2="474.30" stroke="#000" stroke-width="0.85"/>
<line x1="128.00" y1="263.60" x2="128.00" y2="266.50" stroke="#000" stroke-width="0.85"/>
<text x="128.00" y="491.00" font-size="12.6" font-family='"DejaVu Serif","Liberation Serif",serif' text-anchor="middle" >0.8</text>
<line x1="193.40" y1="477.20" x2="193.40" y2="474.30" stroke="#000" stroke-width="0.85"/>
<line x1="193.40" y1="263.60" x2="193.40" y2="266.50" stroke="#000" stroke-width="0.85"/>
<text x="193.40" y="491.00" font-size="12.6" font-family='"DejaVu Serif","Liberation Serif",serif' text-anchor="middle" >1.0</text>
<line x1="258.80" y1="477.20" x2="258.80" y2="474.30" stroke="#000" stroke-width="0.85"/>
<line x1="258.80" y1="263.60" x2="258.80" y2="266.50" stroke="#000" stroke-width="0.85"/>
<text x="258.80" y="491.00" font-size="12.6" font-family='"DejaVu Serif","Liberation Serif",serif' text-anchor="middle" >1.2</text>
<line x1="53.10" y1="474.12" x2="54.60" y2="474.12" stroke="#000" stroke-width="0.85"/>
<line x1="316.00" y1="474.12" x2="314.50" y2="474.12" stroke="#000" stroke-width="0.85"/>
<line x1="53.10" y1="463.19" x2="54.60" y2="463.19" stroke="#000" stroke-width="0.85"/>
<line x1="316.00" y1="463.19" x2="314.50" y2="463.19" stroke="#000" stroke-width="0.85"/>
<line x1="53.10" y1="455.44" x2="54.60" y2="455.44" stroke="#000" stroke-width="0.85"/>
<line x1="316.00" y1="455.44" x2="314.50" y2="455.44" stroke="#000" stroke-width="0.85"/>
<line x1="53.10" y1="449.43" x2="54.60" y2="449.43" stroke="#000" stroke-width="0.85"/>
<line x1="316.00" y1="449.43" x2="314.50" y2="449.43" stroke="#000" stroke-width="0.85"/>
<line x1="53.10" y1="444.52" x2="54.60" y2="444.52" stroke="#000" stroke-width="0.85"/>
<line x1="316.00" y1="444.52" x2="314.50" y2="444.52" stroke="#000" stroke-width="0.85"/>
<line x1="53.10" y1="440.36" x2="54.60" y2="440.36" stroke="#000" stroke-width="0.85"/>
<line x1="316.00" y1="440.36" x2="314.50" y2="440.36" stroke="#000" stroke-width="0.85"/>
<line x1="53.10" y1="436.76" x2="54.60" y2="436.76" stroke="#000" stroke-width="0.85"/>
<line x1="316.00" y1="436.76" x2="314.50" y2="436.76" stroke="#000" stroke-width="0.85"/>
<line x1="53.10" y1="433.59" x2="54.60" y2="433.59" stroke="#000" stroke-width="0.85"/>
<line x1="316.00" y1="433.59" x2="314.50" y2="433.59" stroke="#000" stroke-width="0.85"/>
<line x1="53.10" y1="412.07" x2="54.60" y2="412.07" stroke="#000" stroke-width="0.85"/>
<line x1="316.00" y1="412.07" x2="314.50" y2="412.07" stroke="#000" stroke-width="0.85"/>
<line x1="53.10" y1="401.14" x2="54.60" y2="401.14" stroke="#000" stroke-width="0.85"/>
<line x1="316.00" y1="401.14" x2="314.50" y2="401.14" stroke="#000" stroke-width="0.85"/>
<line x1="53.10" y1="393.39" x2="54.60" y2="393.39" stroke="#000" stroke-width="0.85"/>
<line x1="316.00" y1="393.39" x2="314.50" y2="393.39" stroke="#000" stroke-width="0.85"/>
<line x1="53.10" y1="387.38" x2="54.60" y2="387.38" stroke="#000" stroke-width="0.85"/>
<line x1="316.00" y1="387.38" x2="314.50" y2="387.38" stroke="#000" stroke-width="0.85"/>
<line x1="53.10" y1="382.47" x2="54.60" y2="382.47" stroke="#000" stroke-width="0.85"/>
<line x1="316.00" y1="382.47" x2="314.50" y2="382.47" stroke="#000" stroke-width="0.85"/>
<line x1="53.10" y1="378.31" x2="54.60" y2="378.31" stroke="#000" stroke-width="0.85"/>
<line x1="316.00" y1="378.31" x2="314.50" y2="378.31" stroke="#000" stroke-width="0.85"/>
<line x1="53.10" y1="374.71" x2="54.60" y2="374.71" stroke="#000" stroke-width="0.85"/>
<line x1="316.00" y1="374.71" x2="314.50" y2="374.71" stroke="#000" stroke-width="0.85"/>
<line x1="53.10" y1="371.54" x2="54.60" y2="371.54" stroke="#000" stroke-width="0.85"/>
<line x1="316.00" y1="371.54" x2="314.50" y2="371.54" stroke="#000" stroke-width="0.85"/>
<line x1="53.10" y1="350.02" x2="54.60" y2="350.02" stroke="#000" stroke-width="0.85"/>
<line x1="316.00" y1="350.02" x2="314.50" y2="350.02" stroke="#000" stroke-width="0.85"/>
<line x1="53.10" y1="339.09" x2="54.60" y2="339.09" stroke="#000" stroke-width="0.85"/>
<line x1="316.00" y1="339.09" x2="314.50" y2="339.09" stroke="#000" stroke-width="0.85"/>
<line x1="53.10" y1="331.34" x2="54.60" y2="331.34" stroke="#000" stroke-width="0.85"/>
<line x1="316.00" y1="331.34" x2="314.50" y2="331.34" stroke="#000" stroke-width="0.85"/>
<line x1="53.10" y1="325.33" x2="54.60" y2="325.33" stroke="#000" stroke-width="0.85"/>
<line x1="316.00" y1="325.33" x2="314.50" y2="325.33" stroke="#000" stroke-width="0.85"/>
<line x1="53.10" y1="320.42" x2="54.60" y2="320.42" stroke="#000" stroke-width="0.85"/>
<line x1="316.00" y1="320.42" x2="314.50" y2="320.42" stroke="#000" stroke-width="0.85"/>
<line x1="53.10" y1="316.26" x2="54.60" y2="316.26" stroke="#000" stroke-width="0.85"/>
<line x1="316.00" y1="316.26" x2="314.50" y2="316.26" stroke="#000" stroke-width="0.85"/>
<line x1="53.10" y1="312.66" x2="54.60" y2="312.66" stroke="#000" stroke-width="0.85"/>
<line x1="316.00" y1="312.66" x2="314.50" y2="312.66" stroke="#000" stroke-width="0.85"/>
<line x1="53.10" y1="309.49" x2="54.60" y2="309.49" stroke="#000" stroke-width="0.85"/>
<line x1="316.00" y1="309.49" x2="314.50" y2="309.49" stroke="#000" stroke-width="0.85"/>
<line x1="53.10" y1="287.97" x2="54.60" y2="287.97" stroke="#000" stroke-width="0.85"/>
<line x1="316.00" y1="287.97" x2="314.50" y2="287.97" stroke="#000" stroke-width="0.85"/>
<line x1="53.10" y1="277.04" x2="54.60" y2="277.04" stroke="#000" stroke-width="0.85"/>
<line x1="316.00" y1="277.04" x2="314.50" y2="277.04" stroke="#000" stroke-width="0.85"/>
<line x1="53.10" y1="269.29" x2="54.60" y2="269.29" stroke="#000" stroke-width="0.85"/>
<line x1="316.00" y1="269.29" x2="314.50" y2="269.29" stroke="#000" stroke-width="0.85"/>
<line x1="53.10" y1="306.65" x2="56.00" y2="306.65" stroke="#000" stroke-width="0.85"/>
<line x1="316.00" y1="306.65" x2="313.10" y2="306.65" stroke="#000" stroke-width="0.85"/>
<text x="48.80" y="311.35" font-size="12.6" font-family='"DejaVu Serif","Liberation Serif",serif' text-anchor="end">10<tspan dy="-4.4" dx="0.35" font-size="8.4">−4</tspan></text>
<line x1="53.10" y1="368.70" x2="56.00" y2="368.70" stroke="#000" stroke-width="0.85"/>
<line x1="316.00" y1="368.70" x2="313.10" y2="368.70" stroke="#000" stroke-width="0.85"/>
<text x="48.80" y="373.40" font-size="12.6" font-family='"DejaVu Serif","Liberation Serif",serif' text-anchor="end">10<tspan dy="-4.4" dx="0.35" font-size="8.4">−5</tspan></text>
<line x1="53.10" y1="430.75" x2="56.00" y2="430.75" stroke="#000" stroke-width="0.85"/>
<line x1="316.00" y1="430.75" x2="313.10" y2="430.75" stroke="#000" stroke-width="0.85"/>
<text x="48.80" y="435.45" font-size="12.6" font-family='"DejaVu Serif","Liberation Serif",serif' text-anchor="end">10<tspan dy="-4.4" dx="0.35" font-size="8.4">−6</tspan></text>
<text x="184.50" y="506.40" font-size="12.75" font-family='"DejaVu Sans","Liberation Sans",sans-serif' text-anchor="middle" ><tspan font-style="italic">G</tspan><tspan font-style="italic" font-size="9.1" dy="2.9">BP</tspan><tspan dy="-2.9" dx="2.6">−</tspan><tspan font-style="italic" dx="2.6">G</tspan><tspan font-style="italic" font-size="9.1" dy="2.9">RP</tspan></text>
<text transform="translate(12.0,370.8) rotate(-90)" font-size="12.75" font-family='"DejaVu Sans","Liberation Sans",sans-serif' text-anchor="middle">log <tspan font-style="italic">R</tspan><tspan font-size="9.1" dy="-4.2" dx="0.5">′</tspan><tspan font-style="italic" font-size="9.1" dy="7.8" dx="-3">HK</tspan></text>
<rect x="123.40" y="268.20" width="187.90" height="43.60" rx="2" ry="2" fill="#fff" fill-opacity="0.8" stroke="#ccc" stroke-opacity="0.8" stroke-width="0.8"/>
<circle cx="136.30" cy="276.50" r="2.15" fill="#1f77b4" fill-opacity="0.5"/>
<text x="153.00" y="279.30" font-size="9.15" font-family='"DejaVu Serif","Liberation Serif",serif' text-anchor="start" >Plausibly First-order Resonant</text>
<circle cx="136.30" cy="290.05" r="2.15" fill="#ff7f0e" fill-opacity="0.5"/>
<text x="153.00" y="292.85" font-size="9.15" font-family='"DejaVu Serif","Liberation Serif",serif' text-anchor="start" >Implausibly Resonant</text>
<circle cx="136.30" cy="303.60" r="2.15" fill="#2ca02c" fill-opacity="0.5"/>
<text x="153.00" y="306.40" font-size="9.15" font-family='"DejaVu Serif","Liberation Serif",serif' text-anchor="start" >Plausibly Second-order Resonant</text>
<g clip-path="url(#c4)">
<circle cx="420.6" cy="439.0" r="2.15" fill="#1f77b4" fill-opacity="0.5"/>
<circle cx="430.4" cy="439.0" r="2.15" fill="#1f77b4" fill-opacity="0.5"/>
<circle cx="410.4" cy="445.6" r="2.15" fill="#1f77b4" fill-opacity="0.5"/>
<circle cx="417.2" cy="445.6" r="2.15" fill="#1f77b4" fill-opacity="0.5"/>
<circle cx="413.5" cy="449.6" r="2.15" fill="#1f77b4" fill-opacity="0.5"/>
<circle cx="413.5" cy="449.6" r="2.15" fill="#1f77b4" fill-opacity="0.5"/>
<circle cx="427.5" cy="449.6" r="2.15" fill="#1f77b4" fill-opacity="0.5"/>
<circle cx="436.9" cy="452.1" r="2.15" fill="#1f77b4" fill-opacity="0.5"/>
<circle cx="440.1" cy="456.5" r="2.15" fill="#1f77b4" fill-opacity="0.5"/>
<circle cx="446.3" cy="454.6" r="2.15" fill="#1f77b4" fill-opacity="0.5"/>
<circle cx="416.9" cy="452.1" r="2.15" fill="#1f77b4" fill-opacity="0.5"/>
<circle cx="489.7" cy="430.4" r="2.15" fill="#1f77b4" fill-opacity="0.5"/>
<circle cx="504.4" cy="425.8" r="2.15" fill="#1f77b4" fill-opacity="0.5"/>
<circle cx="460.3" cy="445.6" r="2.15" fill="#1f77b4" fill-opacity="0.5"/>
<circle cx="462.5" cy="458.8" r="2.15" fill="#1f77b4" fill-opacity="0.5"/>
<circle cx="466.9" cy="439.0" r="2.15" fill="#1f77b4" fill-opacity="0.5"/>
<circle cx="517.3" cy="436.8" r="2.15" fill="#1f77b4" fill-opacity="0.5"/>
<circle cx="517.3" cy="436.8" r="2.15" fill="#1f77b4" fill-opacity="0.5"/>
<circle cx="524.2" cy="434.6" r="2.15" fill="#1f77b4" fill-opacity="0.5"/>
<circle cx="526.7" cy="432.7" r="2.15" fill="#1f77b4" fill-opacity="0.5"/>
<circle cx="499.8" cy="443.1" r="2.15" fill="#1f77b4" fill-opacity="0.5"/>
<circle cx="520.5" cy="443.4" r="2.15" fill="#1f77b4" fill-opacity="0.5"/>
<circle cx="469.1" cy="456.5" r="2.15" fill="#1f77b4" fill-opacity="0.5"/>
<circle cx="472.2" cy="456.5" r="2.15" fill="#1f77b4" fill-opacity="0.5"/>
<circle cx="468.2" cy="467.4" r="2.15" fill="#1f77b4" fill-opacity="0.5"/>
<circle cx="456.8" cy="454.6" r="2.15" fill="#1f77b4" fill-opacity="0.5"/>
<circle cx="482.2" cy="415.1" r="2.15" fill="#1f77b4" fill-opacity="0.5"/>
<circle cx="535.4" cy="421.7" r="2.15" fill="#1f77b4" fill-opacity="0.5"/>
<circle cx="543.5" cy="426.0" r="2.15" fill="#1f77b4" fill-opacity="0.5"/>
<circle cx="588.3" cy="351.7" r="2.15" fill="#1f77b4" fill-opacity="0.5"/>
<circle cx="565.9" cy="378.0" r="2.15" fill="#1f77b4" fill-opacity="0.5"/>
<circle cx="585.7" cy="380.1" r="2.15" fill="#1f77b4" fill-opacity="0.5"/>
<circle cx="560.6" cy="395.4" r="2.15" fill="#1f77b4" fill-opacity="0.5"/>
<circle cx="488.2" cy="397.4" r="2.15" fill="#1f77b4" fill-opacity="0.5"/>
<circle cx="452.3" cy="445.5" r="2.15" fill="#1f77b4" fill-opacity="0.5"/>
<circle cx="447.6" cy="449.8" r="2.15" fill="#1f77b4" fill-opacity="0.5"/>
<circle cx="390.2" cy="454.6" r="2.15" fill="#ff7f0e" fill-opacity="0.5"/>
<circle cx="401.2" cy="449.9" r="2.15" fill="#ff7f0e" fill-opacity="0.5"/>
<circle cx="407.5" cy="446.1" r="2.15" fill="#ff7f0e" fill-opacity="0.5"/>
<circle cx="407.2" cy="448.4" r="2.15" fill="#ff7f0e" fill-opacity="0.5"/>
<circle cx="411.2" cy="447.4" r="2.15" fill="#ff7f0e" fill-opacity="0.5"/>
<circle cx="414.4" cy="458.6" r="2.15" fill="#ff7f0e" fill-opacity="0.5"/>
<circle cx="428.2" cy="456.5" r="2.15" fill="#ff7f0e" fill-opacity="0.5"/>
<circle cx="416.9" cy="452.4" r="2.15" fill="#ff7f0e" fill-opacity="0.5"/>
<circle cx="419.4" cy="447.7" r="2.15" fill="#ff7f0e" fill-opacity="0.5"/>
<circle cx="423.1" cy="449.6" r="2.15" fill="#ff7f0e" fill-opacity="0.5"/>
<circle cx="423.1" cy="449.6" r="2.15" fill="#ff7f0e" fill-opacity="0.5"/>
<circle cx="425.0" cy="445.9" r="2.15" fill="#ff7f0e" fill-opacity="0.5"/>
<circle cx="428.2" cy="452.1" r="2.15" fill="#ff7f0e" fill-opacity="0.5"/>
<circle cx="428.2" cy="452.1" r="2.15" fill="#ff7f0e" fill-opacity="0.5"/>
<circle cx="430.7" cy="449.6" r="2.15" fill="#ff7f0e" fill-opacity="0.5"/>
<circle cx="431.9" cy="445.9" r="2.15" fill="#ff7f0e" fill-opacity="0.5"/>
<circle cx="434.4" cy="443.4" r="2.15" fill="#ff7f0e" fill-opacity="0.5"/>
<circle cx="433.8" cy="445.6" r="2.15" fill="#ff7f0e" fill-opacity="0.5"/>
<circle cx="436.9" cy="446.5" r="2.15" fill="#ff7f0e" fill-opacity="0.5"/>
<circle cx="438.2" cy="443.4" r="2.15" fill="#ff7f0e" fill-opacity="0.5"/>
<circle cx="439.4" cy="439.0" r="2.15" fill="#ff7f0e" fill-opacity="0.5"/>
<circle cx="440.7" cy="439.0" r="2.15" fill="#ff7f0e" fill-opacity="0.5"/>
<circle cx="441.3" cy="445.9" r="2.15" fill="#ff7f0e" fill-opacity="0.5"/>
<circle cx="443.2" cy="448.4" r="2.15" fill="#ff7f0e" fill-opacity="0.5"/>
<circle cx="443.2" cy="448.4" r="2.15" fill="#ff7f0e" fill-opacity="0.5"/>
<circle cx="444.5" cy="443.4" r="2.15" fill="#ff7f0e" fill-opacity="0.5"/>
<circle cx="446.3" cy="445.2" r="2.15" fill="#ff7f0e" fill-opacity="0.5"/>
<circle cx="445.7" cy="450.9" r="2.15" fill="#ff7f0e" fill-opacity="0.5"/>
<circle cx="445.7" cy="450.9" r="2.15" fill="#ff7f0e" fill-opacity="0.5"/>
<circle cx="443.2" cy="452.1" r="2.15" fill="#ff7f0e" fill-opacity="0.5"/>
<circle cx="447.6" cy="449.6" r="2.15" fill="#ff7f0e" fill-opacity="0.5"/>
<circle cx="448.9" cy="442.7" r="2.15" fill="#ff7f0e" fill-opacity="0.5"/>
<circle cx="450.7" cy="434.6" r="2.15" fill="#ff7f0e" fill-opacity="0.5"/>
<circle cx="453.2" cy="436.4" r="2.15" fill="#ff7f0e" fill-opacity="0.5"/>
<circle cx="451.4" cy="439.0" r="2.15" fill="#ff7f0e" fill-opacity="0.5"/>
<circle cx="453.2" cy="441.5" r="2.15" fill="#ff7f0e" fill-opacity="0.5"/>
<circle cx="452.0" cy="445.6" r="2.15" fill="#ff7f0e" fill-opacity="0.5"/>
<circle cx="450.1" cy="448.4" r="2.15" fill="#ff7f0e" fill-opacity="0.5"/>
<circle cx="450.7" cy="454.6" r="2.15" fill="#ff7f0e" fill-opacity="0.5"/>
<circle cx="450.7" cy="454.6" r="2.15" fill="#ff7f0e" fill-opacity="0.5"/>
<circle cx="448.2" cy="458.4" r="2.15" fill="#ff7f0e" fill-opacity="0.5"/>
<circle cx="448.9" cy="461.1" r="2.15" fill="#ff7f0e" fill-opacity="0.5"/>
<circle cx="440.7" cy="449.6" r="2.15" fill="#ff7f0e" fill-opacity="0.5"/>
<circle cx="436.3" cy="449.6" r="2.15" fill="#ff7f0e" fill-opacity="0.5"/>
<circle cx="430.0" cy="447.7" r="2.15" fill="#ff7f0e" fill-opacity="0.5"/>
<circle cx="507.9" cy="425.8" r="2.15" fill="#ff7f0e" fill-opacity="0.5"/>
<circle cx="482.2" cy="414.8" r="2.15" fill="#ff7f0e" fill-opacity="0.5"/>
<circle cx="483.1" cy="417.6" r="2.15" fill="#ff7f0e" fill-opacity="0.5"/>
<circle cx="508.2" cy="417.3" r="2.15" fill="#ff7f0e" fill-opacity="0.5"/>
<circle cx="516.7" cy="419.5" r="2.15" fill="#ff7f0e" fill-opacity="0.5"/>
<circle cx="468.8" cy="421.4" r="2.15" fill="#ff7f0e" fill-opacity="0.5"/>
<circle cx="463.4" cy="423.9" r="2.15" fill="#ff7f0e" fill-opacity="0.5"/>
<circle cx="470.7" cy="423.9" r="2.15" fill="#ff7f0e" fill-opacity="0.5"/>
<circle cx="486.0" cy="423.9" r="2.15" fill="#ff7f0e" fill-opacity="0.5"/>
<circle cx="487.9" cy="423.9" r="2.15" fill="#ff7f0e" fill-opacity="0.5"/>
<circle cx="505.2" cy="421.4" r="2.15" fill="#ff7f0e" fill-opacity="0.5"/>
<circle cx="496.6" cy="425.8" r="2.15" fill="#ff7f0e" fill-opacity="0.5"/>
<circle cx="482.8" cy="428.1" r="2.15" fill="#ff7f0e" fill-opacity="0.5"/>
<circle cx="480.7" cy="430.4" r="2.15" fill="#ff7f0e" fill-opacity="0.5"/>
<circle cx="470.7" cy="430.4" r="2.15" fill="#ff7f0e" fill-opacity="0.5"/>
<circle cx="497.3" cy="430.8" r="2.15" fill="#ff7f0e" fill-opacity="0.5"/>
<circle cx="497.9" cy="432.7" r="2.15" fill="#ff7f0e" fill-opacity="0.5"/>
<circle cx="511.7" cy="430.2" r="2.15" fill="#ff7f0e" fill-opacity="0.5"/>
<circle cx="508.6" cy="432.7" r="2.15" fill="#ff7f0e" fill-opacity="0.5"/>
<circle cx="519.2" cy="430.6" r="2.15" fill="#ff7f0e" fill-opacity="0.5"/>
<circle cx="519.2" cy="430.6" r="2.15" fill="#ff7f0e" fill-opacity="0.5"/>
<circle cx="522.7" cy="425.8" r="2.15" fill="#ff7f0e" fill-opacity="0.5"/>
<circle cx="525.7" cy="425.8" r="2.15" fill="#ff7f0e" fill-opacity="0.5"/>
<circle cx="529.2" cy="428.1" r="2.15" fill="#ff7f0e" fill-opacity="0.5"/>
<circle cx="524.9" cy="432.1" r="2.15" fill="#ff7f0e" fill-opacity="0.5"/>
<circle cx="455.0" cy="434.6" r="2.15" fill="#ff7f0e" fill-opacity="0.5"/>
<circle cx="463.8" cy="436.4" r="2.15" fill="#ff7f0e" fill-opacity="0.5"/>
<circle cx="467.8" cy="434.6" r="2.15" fill="#ff7f0e" fill-opacity="0.5"/>
<circle cx="475.1" cy="436.8" r="2.15" fill="#ff7f0e" fill-opacity="0.5"/>
<circle cx="479.7" cy="436.8" r="2.15" fill="#ff7f0e" fill-opacity="0.5"/>
<circle cx="481.8" cy="434.6" r="2.15" fill="#ff7f0e" fill-opacity="0.5"/>
<circle cx="488.9" cy="434.8" r="2.15" fill="#ff7f0e" fill-opacity="0.5"/>
<circle cx="497.3" cy="436.8" r="2.15" fill="#ff7f0e" fill-opacity="0.5"/>
<circle cx="504.2" cy="436.8" r="2.15" fill="#ff7f0e" fill-opacity="0.5"/>
<circle cx="503.5" cy="439.0" r="2.15" fill="#ff7f0e" fill-opacity="0.5"/>
<circle cx="502.3" cy="441.1" r="2.15" fill="#ff7f0e" fill-opacity="0.5"/>
<circle cx="457.1" cy="439.0" r="2.15" fill="#ff7f0e" fill-opacity="0.5"/>
<circle cx="459.6" cy="439.0" r="2.15" fill="#ff7f0e" fill-opacity="0.5"/>
<circle cx="462.1" cy="440.8" r="2.15" fill="#ff7f0e" fill-opacity="0.5"/>
<circle cx="462.1" cy="440.8" r="2.15" fill="#ff7f0e" fill-opacity="0.5"/>
<circle cx="463.4" cy="442.7" r="2.15" fill="#ff7f0e" fill-opacity="0.5"/>
<circle cx="456.5" cy="445.6" r="2.15" fill="#ff7f0e" fill-opacity="0.5"/>
<circle cx="454.0" cy="441.5" r="2.15" fill="#ff7f0e" fill-opacity="0.5"/>
<circle cx="466.5" cy="445.6" r="2.15" fill="#ff7f0e" fill-opacity="0.5"/>
<circle cx="469.1" cy="448.4" r="2.15" fill="#ff7f0e" fill-opacity="0.5"/>
<circle cx="472.8" cy="443.4" r="2.15" fill="#ff7f0e" fill-opacity="0.5"/>
<circle cx="476.6" cy="445.6" r="2.15" fill="#ff7f0e" fill-opacity="0.5"/>
<circle cx="486.0" cy="443.4" r="2.15" fill="#ff7f0e" fill-opacity="0.5"/>
<circle cx="486.0" cy="443.4" r="2.15" fill="#ff7f0e" fill-opacity="0.5"/>
<circle cx="487.9" cy="445.6" r="2.15" fill="#ff7f0e" fill-opacity="0.5"/>
<circle cx="483.5" cy="447.7" r="2.15" fill="#ff7f0e" fill-opacity="0.5"/>
<circle cx="476.6" cy="449.6" r="2.15" fill="#ff7f0e" fill-opacity="0.5"/>
<circle cx="476.6" cy="449.6" r="2.15" fill="#ff7f0e" fill-opacity="0.5"/>
<circle cx="473.4" cy="449.6" r="2.15" fill="#ff7f0e" fill-opacity="0.5"/>
<circle cx="470.3" cy="452.1" r="2.15" fill="#ff7f0e" fill-opacity="0.5"/>
<circle cx="465.9" cy="449.6" r="2.15" fill="#ff7f0e" fill-opacity="0.5"/>
<circle cx="465.9" cy="449.6" r="2.15" fill="#ff7f0e" fill-opacity="0.5"/>
<circle cx="464.0" cy="452.1" r="2.15" fill="#ff7f0e" fill-opacity="0.5"/>
<circle cx="456.5" cy="449.6" r="2.15" fill="#ff7f0e" fill-opacity="0.5"/>
<circle cx="455.2" cy="454.6" r="2.15" fill="#ff7f0e" fill-opacity="0.5"/>
<circle cx="459.6" cy="459.0" r="2.15" fill="#ff7f0e" fill-opacity="0.5"/>
<circle cx="466.5" cy="454.6" r="2.15" fill="#ff7f0e" fill-opacity="0.5"/>
<circle cx="476.6" cy="456.5" r="2.15" fill="#ff7f0e" fill-opacity="0.5"/>
<circle cx="481.0" cy="454.4" r="2.15" fill="#ff7f0e" fill-opacity="0.5"/>
<circle cx="484.1" cy="454.4" r="2.15" fill="#ff7f0e" fill-opacity="0.5"/>
<circle cx="484.7" cy="452.1" r="2.15" fill="#ff7f0e" fill-opacity="0.5"/>
<circle cx="487.9" cy="454.4" r="2.15" fill="#ff7f0e" fill-opacity="0.5"/>
<circle cx="489.7" cy="456.5" r="2.15" fill="#ff7f0e" fill-opacity="0.5"/>
<circle cx="492.6" cy="449.6" r="2.15" fill="#ff7f0e" fill-opacity="0.5"/>
<circle cx="494.1" cy="452.1" r="2.15" fill="#ff7f0e" fill-opacity="0.5"/>
<circle cx="495.4" cy="447.7" r="2.15" fill="#ff7f0e" fill-opacity="0.5"/>
<circle cx="497.9" cy="449.6" r="2.15" fill="#ff7f0e" fill-opacity="0.5"/>
<circle cx="501.0" cy="449.6" r="2.15" fill="#ff7f0e" fill-opacity="0.5"/>
<circle cx="501.4" cy="452.1" r="2.15" fill="#ff7f0e" fill-opacity="0.5"/>
<circle cx="503.5" cy="447.7" r="2.15" fill="#ff7f0e" fill-opacity="0.5"/>
<circle cx="506.0" cy="449.6" r="2.15" fill="#ff7f0e" fill-opacity="0.5"/>
<circle cx="506.7" cy="452.4" r="2.15" fill="#ff7f0e" fill-opacity="0.5"/>
<circle cx="498.9" cy="456.5" r="2.15" fill="#ff7f0e" fill-opacity="0.5"/>
<circle cx="499.5" cy="460.9" r="2.15" fill="#ff7f0e" fill-opacity="0.5"/>
<circle cx="508.8" cy="441.1" r="2.15" fill="#ff7f0e" fill-opacity="0.5"/>
<circle cx="510.4" cy="443.4" r="2.15" fill="#ff7f0e" fill-opacity="0.5"/>
<circle cx="512.7" cy="445.2" r="2.15" fill="#ff7f0e" fill-opacity="0.5"/>
<circle cx="514.2" cy="445.9" r="2.15" fill="#ff7f0e" fill-opacity="0.5"/>
<circle cx="516.7" cy="449.6" r="2.15" fill="#ff7f0e" fill-opacity="0.5"/>
<circle cx="518.0" cy="443.4" r="2.15" fill="#ff7f0e" fill-opacity="0.5"/>
<circle cx="519.2" cy="445.6" r="2.15" fill="#ff7f0e" fill-opacity="0.5"/>
<circle cx="521.7" cy="439.0" r="2.15" fill="#ff7f0e" fill-opacity="0.5"/>
<circle cx="521.1" cy="436.8" r="2.15" fill="#ff7f0e" fill-opacity="0.5"/>
<circle cx="522.7" cy="443.4" r="2.15" fill="#ff7f0e" fill-opacity="0.5"/>
<circle cx="525.7" cy="441.1" r="2.15" fill="#ff7f0e" fill-opacity="0.5"/>
<circle cx="529.9" cy="447.7" r="2.15" fill="#ff7f0e" fill-opacity="0.5"/>
<circle cx="522.7" cy="456.5" r="2.15" fill="#ff7f0e" fill-opacity="0.5"/>
<circle cx="549.4" cy="413.0" r="2.15" fill="#ff7f0e" fill-opacity="0.5"/>
<circle cx="552.6" cy="413.0" r="2.15" fill="#ff7f0e" fill-opacity="0.5"/>
<circle cx="560.7" cy="413.0" r="2.15" fill="#ff7f0e" fill-opacity="0.5"/>
<circle cx="589.6" cy="415.1" r="2.15" fill="#ff7f0e" fill-opacity="0.5"/>
<circle cx="577.6" cy="423.9" r="2.15" fill="#ff7f0e" fill-opacity="0.5"/>
<circle cx="604.0" cy="423.9" r="2.15" fill="#ff7f0e" fill-opacity="0.5"/>
<circle cx="560.7" cy="426.0" r="2.15" fill="#ff7f0e" fill-opacity="0.5"/>
<circle cx="561.4" cy="428.3" r="2.15" fill="#ff7f0e" fill-opacity="0.5"/>
<circle cx="561.4" cy="428.3" r="2.15" fill="#ff7f0e" fill-opacity="0.5"/>
<circle cx="564.1" cy="428.3" r="2.15" fill="#ff7f0e" fill-opacity="0.5"/>
<circle cx="574.1" cy="428.3" r="2.15" fill="#ff7f0e" fill-opacity="0.5"/>
<circle cx="595.0" cy="428.3" r="2.15" fill="#ff7f0e" fill-opacity="0.5"/>
<circle cx="534.4" cy="430.4" r="2.15" fill="#ff7f0e" fill-opacity="0.5"/>
<circle cx="534.4" cy="430.4" r="2.15" fill="#ff7f0e" fill-opacity="0.5"/>
<circle cx="530.6" cy="432.7" r="2.15" fill="#ff7f0e" fill-opacity="0.5"/>
<circle cx="534.8" cy="432.7" r="2.15" fill="#ff7f0e" fill-opacity="0.5"/>
<circle cx="561.6" cy="432.7" r="2.15" fill="#ff7f0e" fill-opacity="0.5"/>
<circle cx="565.7" cy="432.7" r="2.15" fill="#ff7f0e" fill-opacity="0.5"/>
<circle cx="567.9" cy="434.8" r="2.15" fill="#ff7f0e" fill-opacity="0.5"/>
<circle cx="531.0" cy="437.1" r="2.15" fill="#ff7f0e" fill-opacity="0.5"/>
<circle cx="550.7" cy="439.0" r="2.15" fill="#ff7f0e" fill-opacity="0.5"/>
<circle cx="555.5" cy="439.0" r="2.15" fill="#ff7f0e" fill-opacity="0.5"/>
<circle cx="572.4" cy="439.0" r="2.15" fill="#ff7f0e" fill-opacity="0.5"/>
<circle cx="541.9" cy="441.5" r="2.15" fill="#ff7f0e" fill-opacity="0.5"/>
<circle cx="536.5" cy="445.6" r="2.15" fill="#ff7f0e" fill-opacity="0.5"/>
<circle cx="563.2" cy="445.6" r="2.15" fill="#ff7f0e" fill-opacity="0.5"/>
<circle cx="597.3" cy="445.6" r="2.15" fill="#ff7f0e" fill-opacity="0.5"/>
<circle cx="605.9" cy="443.4" r="2.15" fill="#ff7f0e" fill-opacity="0.5"/>
<circle cx="557.6" cy="449.9" r="2.15" fill="#ff7f0e" fill-opacity="0.5"/>
<circle cx="530.6" cy="452.1" r="2.15" fill="#ff7f0e" fill-opacity="0.5"/>
<circle cx="545.4" cy="452.1" r="2.15" fill="#ff7f0e" fill-opacity="0.5"/>
<circle cx="534.6" cy="454.6" r="2.15" fill="#ff7f0e" fill-opacity="0.5"/>
<circle cx="599.0" cy="452.1" r="2.15" fill="#ff7f0e" fill-opacity="0.5"/>
<circle cx="574.9" cy="456.5" r="2.15" fill="#ff7f0e" fill-opacity="0.5"/>
<circle cx="584.3" cy="465.3" r="2.15" fill="#ff7f0e" fill-opacity="0.5"/>
<circle cx="557.1" cy="286.2" r="2.15" fill="#ff7f0e" fill-opacity="0.5"/>
<circle cx="572.0" cy="314.6" r="2.15" fill="#ff7f0e" fill-opacity="0.5"/>
<circle cx="614.3" cy="345.4" r="2.15" fill="#ff7f0e" fill-opacity="0.5"/>
<circle cx="564.1" cy="351.7" r="2.15" fill="#ff7f0e" fill-opacity="0.5"/>
<circle cx="543.5" cy="355.9" r="2.15" fill="#ff7f0e" fill-opacity="0.5"/>
<circle cx="540.9" cy="358.5" r="2.15" fill="#ff7f0e" fill-opacity="0.5"/>
<circle cx="533.0" cy="364.8" r="2.15" fill="#ff7f0e" fill-opacity="0.5"/>
<circle cx="563.2" cy="369.2" r="2.15" fill="#ff7f0e" fill-opacity="0.5"/>
<circle cx="625.7" cy="375.7" r="2.15" fill="#ff7f0e" fill-opacity="0.5"/>
<circle cx="532.5" cy="382.2" r="2.15" fill="#ff7f0e" fill-opacity="0.5"/>
<circle cx="611.7" cy="382.2" r="2.15" fill="#ff7f0e" fill-opacity="0.5"/>
<circle cx="572.0" cy="388.9" r="2.15" fill="#ff7f0e" fill-opacity="0.5"/>
<circle cx="581.3" cy="393.2" r="2.15" fill="#ff7f0e" fill-opacity="0.5"/>
<circle cx="543.0" cy="395.4" r="2.15" fill="#ff7f0e" fill-opacity="0.5"/>
<circle cx="611.7" cy="397.6" r="2.15" fill="#ff7f0e" fill-opacity="0.5"/>
<circle cx="560.2" cy="399.8" r="2.15" fill="#ff7f0e" fill-opacity="0.5"/>
<circle cx="555.0" cy="402.0" r="2.15" fill="#ff7f0e" fill-opacity="0.5"/>
<circle cx="558.5" cy="404.1" r="2.15" fill="#ff7f0e" fill-opacity="0.5"/>
<circle cx="533.9" cy="406.4" r="2.15" fill="#ff7f0e" fill-opacity="0.5"/>
<circle cx="549.2" cy="406.4" r="2.15" fill="#ff7f0e" fill-opacity="0.5"/>
<circle cx="563.4" cy="406.4" r="2.15" fill="#ff7f0e" fill-opacity="0.5"/>
<circle cx="549.7" cy="412.9" r="2.15" fill="#ff7f0e" fill-opacity="0.5"/>
<circle cx="552.3" cy="412.9" r="2.15" fill="#ff7f0e" fill-opacity="0.5"/>
<circle cx="560.6" cy="412.9" r="2.15" fill="#ff7f0e" fill-opacity="0.5"/>
<circle cx="589.5" cy="415.2" r="2.15" fill="#ff7f0e" fill-opacity="0.5"/>
<circle cx="490.3" cy="366.9" r="2.15" fill="#ff7f0e" fill-opacity="0.5"/>
<circle cx="520.3" cy="390.9" r="2.15" fill="#ff7f0e" fill-opacity="0.5"/>
<circle cx="472.1" cy="408.2" r="2.15" fill="#ff7f0e" fill-opacity="0.5"/>
<circle cx="481.7" cy="406.2" r="2.15" fill="#ff7f0e" fill-opacity="0.5"/>
<circle cx="490.3" cy="406.2" r="2.15" fill="#ff7f0e" fill-opacity="0.5"/>
<circle cx="500.9" cy="408.2" r="2.15" fill="#ff7f0e" fill-opacity="0.5"/>
<circle cx="414.9" cy="445.6" r="2.15" fill="#ff7f0e" fill-opacity="0.5"/>
<circle cx="416.9" cy="449.9" r="2.15" fill="#ff7f0e" fill-opacity="0.5"/>
<circle cx="421.9" cy="446.8" r="2.15" fill="#ff7f0e" fill-opacity="0.5"/>
<circle cx="427.0" cy="445.6" r="2.15" fill="#ff7f0e" fill-opacity="0.5"/>
<circle cx="434.5" cy="448.0" r="2.15" fill="#ff7f0e" fill-opacity="0.5"/>
<circle cx="438.4" cy="449.6" r="2.15" fill="#ff7f0e" fill-opacity="0.5"/>
<circle cx="427.4" cy="450.3" r="2.15" fill="#ff7f0e" fill-opacity="0.5"/>
<circle cx="430.6" cy="449.9" r="2.15" fill="#ff7f0e" fill-opacity="0.5"/>
<circle cx="421.2" cy="448.0" r="2.15" fill="#ff7f0e" fill-opacity="0.5"/>
<circle cx="432.9" cy="446.0" r="2.15" fill="#ff7f0e" fill-opacity="0.5"/>
<circle cx="423.5" cy="450.7" r="2.15" fill="#ff7f0e" fill-opacity="0.5"/>
<circle cx="443.9" cy="451.5" r="2.15" fill="#ff7f0e" fill-opacity="0.5"/>
<circle cx="442.3" cy="447.6" r="2.15" fill="#ff7f0e" fill-opacity="0.5"/>
<circle cx="452.3" cy="445.5" r="2.15" fill="#ff7f0e" fill-opacity="0.5"/>
<circle cx="447.6" cy="449.8" r="2.15" fill="#ff7f0e" fill-opacity="0.5"/>
<circle cx="456.2" cy="449.0" r="2.15" fill="#ff7f0e" fill-opacity="0.5"/>
<circle cx="453.8" cy="450.2" r="2.15" fill="#ff7f0e" fill-opacity="0.5"/>
<circle cx="466.4" cy="449.8" r="2.15" fill="#ff7f0e" fill-opacity="0.5"/>
<circle cx="466.8" cy="450.6" r="2.15" fill="#ff7f0e" fill-opacity="0.5"/>
<circle cx="471.9" cy="450.2" r="2.15" fill="#ff7f0e" fill-opacity="0.5"/>
<circle cx="472.2" cy="449.4" r="2.15" fill="#ff7f0e" fill-opacity="0.5"/>
<circle cx="475.8" cy="449.1" r="2.15" fill="#ff7f0e" fill-opacity="0.5"/>
<circle cx="473.0" cy="445.5" r="2.15" fill="#ff7f0e" fill-opacity="0.5"/>
<circle cx="478.9" cy="447.4" r="2.15" fill="#ff7f0e" fill-opacity="0.5"/>
<circle cx="453.4" cy="452.1" r="2.15" fill="#ff7f0e" fill-opacity="0.5"/>
<circle cx="459.7" cy="452.1" r="2.15" fill="#ff7f0e" fill-opacity="0.5"/>
<circle cx="450.7" cy="454.5" r="2.15" fill="#ff7f0e" fill-opacity="0.5"/>
<circle cx="451.1" cy="454.9" r="2.15" fill="#ff7f0e" fill-opacity="0.5"/>
<circle cx="471.1" cy="456.4" r="2.15" fill="#ff7f0e" fill-opacity="0.5"/>
<circle cx="473.0" cy="456.4" r="2.15" fill="#ff7f0e" fill-opacity="0.5"/>
<circle cx="491.4" cy="438.8" r="2.15" fill="#ff7f0e" fill-opacity="0.5"/>
<circle cx="462.9" cy="440.8" r="2.15" fill="#ff7f0e" fill-opacity="0.5"/>
<circle cx="456.6" cy="454.5" r="2.15" fill="#ff7f0e" fill-opacity="0.5"/>
<circle cx="468.7" cy="445.9" r="2.15" fill="#ff7f0e" fill-opacity="0.5"/>
<circle cx="448.4" cy="443.5" r="2.15" fill="#ff7f0e" fill-opacity="0.5"/>
<circle cx="484.4" cy="453.7" r="2.15" fill="#ff7f0e" fill-opacity="0.5"/>
<circle cx="511.5" cy="308.3" r="2.15" fill="#ff7f0e" fill-opacity="0.5"/>
<circle cx="386.8" cy="449.9" r="2.15" fill="#2ca02c" fill-opacity="0.5"/>
<circle cx="415.0" cy="445.9" r="2.15" fill="#2ca02c" fill-opacity="0.5"/>
<circle cx="416.9" cy="449.6" r="2.15" fill="#2ca02c" fill-opacity="0.5"/>
<circle cx="422.5" cy="445.6" r="2.15" fill="#2ca02c" fill-opacity="0.5"/>
<circle cx="421.3" cy="448.4" r="2.15" fill="#2ca02c" fill-opacity="0.5"/>
<circle cx="427.5" cy="445.6" r="2.15" fill="#2ca02c" fill-opacity="0.5"/>
<circle cx="434.4" cy="447.7" r="2.15" fill="#2ca02c" fill-opacity="0.5"/>
<circle cx="434.4" cy="447.7" r="2.15" fill="#2ca02c" fill-opacity="0.5"/>
<circle cx="433.2" cy="449.0" r="2.15" fill="#2ca02c" fill-opacity="0.5"/>
<circle cx="438.8" cy="449.6" r="2.15" fill="#2ca02c" fill-opacity="0.5"/>
<circle cx="453.2" cy="452.1" r="2.15" fill="#2ca02c" fill-opacity="0.5"/>
<circle cx="461.5" cy="430.4" r="2.15" fill="#2ca02c" fill-opacity="0.5"/>
<circle cx="489.7" cy="430.4" r="2.15" fill="#2ca02c" fill-opacity="0.5"/>
<circle cx="501.3" cy="423.9" r="2.15" fill="#2ca02c" fill-opacity="0.5"/>
<circle cx="504.4" cy="425.8" r="2.15" fill="#2ca02c" fill-opacity="0.5"/>
<circle cx="507.9" cy="425.8" r="2.15" fill="#2ca02c" fill-opacity="0.5"/>
<circle cx="491.2" cy="439.0" r="2.15" fill="#2ca02c" fill-opacity="0.5"/>
<circle cx="460.3" cy="445.6" r="2.15" fill="#2ca02c" fill-opacity="0.5"/>
<circle cx="462.8" cy="445.6" r="2.15" fill="#2ca02c" fill-opacity="0.5"/>
<circle cx="472.8" cy="445.6" r="2.15" fill="#2ca02c" fill-opacity="0.5"/>
<circle cx="479.4" cy="447.7" r="2.15" fill="#2ca02c" fill-opacity="0.5"/>
<circle cx="491.0" cy="445.6" r="2.15" fill="#2ca02c" fill-opacity="0.5"/>
<circle cx="496.0" cy="443.4" r="2.15" fill="#2ca02c" fill-opacity="0.5"/>
<circle cx="498.9" cy="445.2" r="2.15" fill="#2ca02c" fill-opacity="0.5"/>
<circle cx="498.9" cy="445.2" r="2.15" fill="#2ca02c" fill-opacity="0.5"/>
<circle cx="497.0" cy="452.1" r="2.15" fill="#2ca02c" fill-opacity="0.5"/>
<circle cx="459.4" cy="452.1" r="2.15" fill="#2ca02c" fill-opacity="0.5"/>
<circle cx="454.0" cy="452.1" r="2.15" fill="#2ca02c" fill-opacity="0.5"/>
<circle cx="462.5" cy="458.8" r="2.15" fill="#2ca02c" fill-opacity="0.5"/>
<circle cx="501.0" cy="456.5" r="2.15" fill="#2ca02c" fill-opacity="0.5"/>
<circle cx="502.9" cy="456.5" r="2.15" fill="#2ca02c" fill-opacity="0.5"/>
<circle cx="492.6" cy="460.9" r="2.15" fill="#2ca02c" fill-opacity="0.5"/>
<circle cx="589.9" cy="419.5" r="2.15" fill="#2ca02c" fill-opacity="0.5"/>
<circle cx="606.8" cy="273.4" r="2.15" fill="#2ca02c" fill-opacity="0.5"/>
<circle cx="545.0" cy="345.4" r="2.15" fill="#2ca02c" fill-opacity="0.5"/>
<circle cx="588.3" cy="351.7" r="2.15" fill="#2ca02c" fill-opacity="0.5"/>
<circle cx="565.9" cy="378.0" r="2.15" fill="#2ca02c" fill-opacity="0.5"/>
<circle cx="562.3" cy="393.2" r="2.15" fill="#2ca02c" fill-opacity="0.5"/>
<circle cx="589.7" cy="419.6" r="2.15" fill="#2ca02c" fill-opacity="0.5"/>
</g>
<rect x="375.20" y="263.60" width="262.10" height="213.60" fill="none" stroke="#2a2a2a" stroke-width="1.2"/>
<line x1="400.85" y1="477.20" x2="400.85" y2="475.70" stroke="#000" stroke-width="0.85"/>
<line x1="400.85" y1="263.60" x2="400.85" y2="265.10" stroke="#000" stroke-width="0.85"/>
<line x1="417.20" y1="477.20" x2="417.20" y2="475.70" stroke="#000" stroke-width="0.85"/>
<line x1="417.20" y1="263.60" x2="417.20" y2="265.10" stroke="#000" stroke-width="0.85"/>
<line x1="433.55" y1="477.20" x2="433.55" y2="475.70" stroke="#000" stroke-width="0.85"/>
<line x1="433.55" y1="263.60" x2="433.55" y2="265.10" stroke="#000" stroke-width="0.85"/>
<line x1="466.25" y1="477.20" x2="466.25" y2="475.70" stroke="#000" stroke-width="0.85"/>
<line x1="466.25" y1="263.60" x2="466.25" y2="265.10" stroke="#000" stroke-width="0.85"/>
<line x1="482.60" y1="477.20" x2="482.60" y2="475.70" stroke="#000" stroke-width="0.85"/>
<line x1="482.60" y1="263.60" x2="482.60" y2="265.10" stroke="#000" stroke-width="0.85"/>
<line x1="498.95" y1="477.20" x2="498.95" y2="475.70" stroke="#000" stroke-width="0.85"/>
<line x1="498.95" y1="263.60" x2="498.95" y2="265.10" stroke="#000" stroke-width="0.85"/>
<line x1="531.65" y1="477.20" x2="531.65" y2="475.70" stroke="#000" stroke-width="0.85"/>
<line x1="531.65" y1="263.60" x2="531.65" y2="265.10" stroke="#000" stroke-width="0.85"/>
<line x1="548.00" y1="477.20" x2="548.00" y2="475.70" stroke="#000" stroke-width="0.85"/>
<line x1="548.00" y1="263.60" x2="548.00" y2="265.10" stroke="#000" stroke-width="0.85"/>
<line x1="564.35" y1="477.20" x2="564.35" y2="475.70" stroke="#000" stroke-width="0.85"/>
<line x1="564.35" y1="263.60" x2="564.35" y2="265.10" stroke="#000" stroke-width="0.85"/>
<line x1="597.05" y1="477.20" x2="597.05" y2="475.70" stroke="#000" stroke-width="0.85"/>
<line x1="597.05" y1="263.60" x2="597.05" y2="265.10" stroke="#000" stroke-width="0.85"/>
<line x1="613.40" y1="477.20" x2="613.40" y2="475.70" stroke="#000" stroke-width="0.85"/>
<line x1="613.40" y1="263.60" x2="613.40" y2="265.10" stroke="#000" stroke-width="0.85"/>
<line x1="629.75" y1="477.20" x2="629.75" y2="475.70" stroke="#000" stroke-width="0.85"/>
<line x1="629.75" y1="263.60" x2="629.75" y2="265.10" stroke="#000" stroke-width="0.85"/>
<line x1="384.50" y1="477.20" x2="384.50" y2="474.30" stroke="#000" stroke-width="0.85"/>
<line x1="384.50" y1="263.60" x2="384.50" y2="266.50" stroke="#000" stroke-width="0.85"/>
<text x="384.50" y="491.00" font-size="12.6" font-family='"DejaVu Serif","Liberation Serif",serif' text-anchor="middle" >0.6</text>
<line x1="449.90" y1="477.20" x2="449.90" y2="474.30" stroke="#000" stroke-width="0.85"/>
<line x1="449.90" y1="263.60" x2="449.90" y2="266.50" stroke="#000" stroke-width="0.85"/>
<text x="449.90" y="491.00" font-size="12.6" font-family='"DejaVu Serif","Liberation Serif",serif' text-anchor="middle" >0.8</text>
<line x1="515.30" y1="477.20" x2="515.30" y2="474.30" stroke="#000" stroke-width="0.85"/>
<line x1="515.30" y1="263.60" x2="515.30" y2="266.50" stroke="#000" stroke-width="0.85"/>
<text x="515.30" y="491.00" font-size="12.6" font-family='"DejaVu Serif","Liberation Serif",serif' text-anchor="middle" >1.0</text>
<line x1="580.70" y1="477.20" x2="580.70" y2="474.30" stroke="#000" stroke-width="0.85"/>
<line x1="580.70" y1="263.60" x2="580.70" y2="266.50" stroke="#000" stroke-width="0.85"/>
<text x="580.70" y="491.00" font-size="12.6" font-family='"DejaVu Serif","Liberation Serif",serif' text-anchor="middle" >1.2</text>
<line x1="375.20" y1="465.47" x2="376.70" y2="465.47" stroke="#000" stroke-width="0.85"/>
<line x1="637.30" y1="465.47" x2="635.80" y2="465.47" stroke="#000" stroke-width="0.85"/>
<line x1="375.20" y1="454.55" x2="376.70" y2="454.55" stroke="#000" stroke-width="0.85"/>
<line x1="637.30" y1="454.55" x2="635.80" y2="454.55" stroke="#000" stroke-width="0.85"/>
<line x1="375.20" y1="443.62" x2="376.70" y2="443.62" stroke="#000" stroke-width="0.85"/>
<line x1="637.30" y1="443.62" x2="635.80" y2="443.62" stroke="#000" stroke-width="0.85"/>
<line x1="375.20" y1="421.77" x2="376.70" y2="421.77" stroke="#000" stroke-width="0.85"/>
<line x1="637.30" y1="421.77" x2="635.80" y2="421.77" stroke="#000" stroke-width="0.85"/>
<line x1="375.20" y1="410.85" x2="376.70" y2="410.85" stroke="#000" stroke-width="0.85"/>
<line x1="637.30" y1="410.85" x2="635.80" y2="410.85" stroke="#000" stroke-width="0.85"/>
<line x1="375.20" y1="399.92" x2="376.70" y2="399.92" stroke="#000" stroke-width="0.85"/>
<line x1="637.30" y1="399.92" x2="635.80" y2="399.92" stroke="#000" stroke-width="0.85"/>
<line x1="375.20" y1="378.07" x2="376.70" y2="378.07" stroke="#000" stroke-width="0.85"/>
<line x1="637.30" y1="378.07" x2="635.80" y2="378.07" stroke="#000" stroke-width="0.85"/>
<line x1="375.20" y1="367.15" x2="376.70" y2="367.15" stroke="#000" stroke-width="0.85"/>
<line x1="637.30" y1="367.15" x2="635.80" y2="367.15" stroke="#000" stroke-width="0.85"/>
<line x1="375.20" y1="356.22" x2="376.70" y2="356.22" stroke="#000" stroke-width="0.85"/>
<line x1="637.30" y1="356.22" x2="635.80" y2="356.22" stroke="#000" stroke-width="0.85"/>
<line x1="375.20" y1="334.38" x2="376.70" y2="334.38" stroke="#000" stroke-width="0.85"/>
<line x1="637.30" y1="334.38" x2="635.80" y2="334.38" stroke="#000" stroke-width="0.85"/>
<line x1="375.20" y1="323.45" x2="376.70" y2="323.45" stroke="#000" stroke-width="0.85"/>
<line x1="637.30" y1="323.45" x2="635.80" y2="323.45" stroke="#000" stroke-width="0.85"/>
<line x1="375.20" y1="312.52" x2="376.70" y2="312.52" stroke="#000" stroke-width="0.85"/>
<line x1="637.30" y1="312.52" x2="635.80" y2="312.52" stroke="#000" stroke-width="0.85"/>
<line x1="375.20" y1="290.67" x2="376.70" y2="290.67" stroke="#000" stroke-width="0.85"/>
<line x1="637.30" y1="290.67" x2="635.80" y2="290.67" stroke="#000" stroke-width="0.85"/>
<line x1="375.20" y1="279.75" x2="376.70" y2="279.75" stroke="#000" stroke-width="0.85"/>
<line x1="637.30" y1="279.75" x2="635.80" y2="279.75" stroke="#000" stroke-width="0.85"/>
<line x1="375.20" y1="268.82" x2="376.70" y2="268.82" stroke="#000" stroke-width="0.85"/>
<line x1="637.30" y1="268.82" x2="635.80" y2="268.82" stroke="#000" stroke-width="0.85"/>
<line x1="375.20" y1="476.40" x2="378.10" y2="476.40" stroke="#000" stroke-width="0.85"/>
<line x1="637.30" y1="476.40" x2="634.40" y2="476.40" stroke="#000" stroke-width="0.85"/>
<text x="372.00" y="481.60" font-size="12.6" font-family='"DejaVu Serif","Liberation Serif",serif' text-anchor="end" >0.0</text>
<line x1="375.20" y1="432.70" x2="378.10" y2="432.70" stroke="#000" stroke-width="0.85"/>
<line x1="637.30" y1="432.70" x2="634.40" y2="432.70" stroke="#000" stroke-width="0.85"/>
<text x="372.00" y="437.90" font-size="12.6" font-family='"DejaVu Serif","Liberation Serif",serif' text-anchor="end" >0.2</text>
<line x1="375.20" y1="389.00" x2="378.10" y2="389.00" stroke="#000" stroke-width="0.85"/>
<line x1="637.30" y1="389.00" x2="634.40" y2="389.00" stroke="#000" stroke-width="0.85"/>
<text x="372.00" y="394.20" font-size="12.6" font-family='"DejaVu Serif","Liberation Serif",serif' text-anchor="end" >0.4</text>
<line x1="375.20" y1="345.30" x2="378.10" y2="345.30" stroke="#000" stroke-width="0.85"/>
<line x1="637.30" y1="345.30" x2="634.40" y2="345.30" stroke="#000" stroke-width="0.85"/>
<text x="372.00" y="350.50" font-size="12.6" font-family='"DejaVu Serif","Liberation Serif",serif' text-anchor="end" >0.6</text>
<line x1="375.20" y1="301.60" x2="378.10" y2="301.60" stroke="#000" stroke-width="0.85"/>
<line x1="637.30" y1="301.60" x2="634.40" y2="301.60" stroke="#000" stroke-width="0.85"/>
<text x="372.00" y="306.80" font-size="12.6" font-family='"DejaVu Serif","Liberation Serif",serif' text-anchor="end" >0.8</text>
<text x="506.30" y="506.40" font-size="12.75" font-family='"DejaVu Sans","Liberation Sans",sans-serif' text-anchor="middle" ><tspan font-style="italic">G</tspan><tspan font-style="italic" font-size="9.1" dy="2.9">BP</tspan><tspan dy="-2.9" dx="2.6">−</tspan><tspan font-style="italic" dx="2.6">G</tspan><tspan font-style="italic" font-size="9.1" dy="2.9">RP</tspan></text>
<text transform="translate(343.9,371.3) rotate(-90)" font-size="12.75" font-family='"DejaVu Sans","Liberation Sans",sans-serif' text-anchor="middle"><tspan font-style="italic">S</tspan><tspan font-style="italic" font-size="9.1" dy="2.6">HK</tspan></text>
<rect x="379.50" y="268.20" width="187.90" height="43.60" rx="2" ry="2" fill="#fff" fill-opacity="0.8" stroke="#ccc" stroke-opacity="0.8" stroke-width="0.8"/>
<circle cx="392.40" cy="276.50" r="2.15" fill="#1f77b4" fill-opacity="0.5"/>
<text x="409.10" y="279.30" font-size="9.15" font-family='"DejaVu Serif","Liberation Serif",serif' text-anchor="start" >Plausibly First-order Resonant</text>
<circle cx="392.40" cy="290.05" r="2.15" fill="#ff7f0e" fill-opacity="0.5"/>
<text x="409.10" y="292.85" font-size="9.15" font-family='"DejaVu Serif","Liberation Serif",serif' text-anchor="start" >Implausibly Resonant</text>
<circle cx="392.40" cy="303.60" r="2.15" fill="#2ca02c" fill-opacity="0.5"/>
<text x="409.10" y="306.40" font-size="9.15" font-family='"DejaVu Serif","Liberation Serif",serif' text-anchor="start" >Plausibly Second-order Resonant</text>
</svg></body></html>
